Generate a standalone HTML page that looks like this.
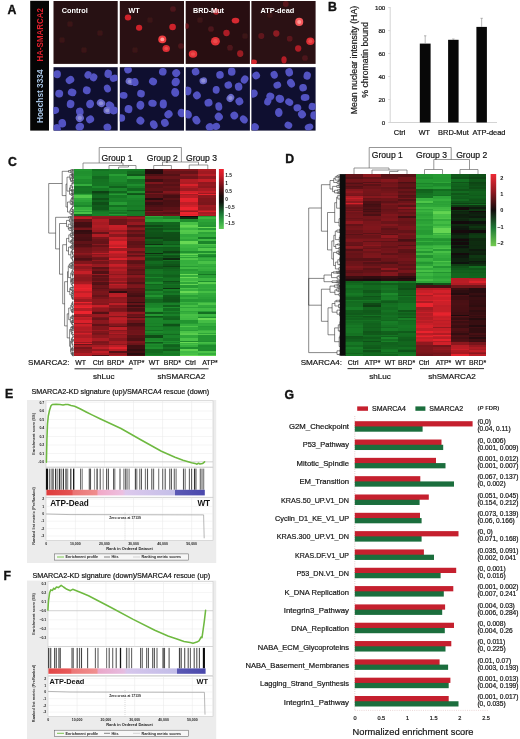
<!DOCTYPE html>
<html><head><meta charset="utf-8"><title>Figure</title>
<style>
html,body{margin:0;padding:0;background:#fff;}
body{width:520px;height:739px;overflow:hidden;font-family:"Liberation Sans",sans-serif;}
svg{display:block;font-family:"Liberation Sans",sans-serif;}
</style></head><body>
<svg width="520" height="739" viewBox="0 0 520 739">
<defs>
<filter id="b1" x="-20%" y="-20%" width="140%" height="140%"><feGaussianBlur stdDeviation="0.65"/></filter>
<filter id="b2" x="-20%" y="-20%" width="140%" height="140%"><feGaussianBlur stdDeviation="0.75"/></filter>
</defs>
<text x="7.60" y="13.80" font-size="12.3" fill="#111" font-weight="bold" text-anchor="start" stroke="#111" stroke-width="0.35">A</text>
<rect x="30.20" y="0.80" width="18.80" height="129.80" fill="#050505"/>
<text transform="translate(43.00,34.80) rotate(-90)" font-size="9.4" fill="#e4202e" font-weight="bold" text-anchor="middle" textLength="53.5" lengthAdjust="spacingAndGlyphs">HA-SMARCA2</text>
<text transform="translate(43.20,96.20) rotate(-90)" font-size="9.4" fill="#a9c6e6" font-weight="bold" text-anchor="middle" textLength="53.5" lengthAdjust="spacingAndGlyphs">Hoechst 3334</text>
<clipPath id="ca0"><rect x="53.5" y="1.0" width="64.2" height="62.9"/></clipPath>
<clipPath id="cb0"><rect x="53.5" y="67.2" width="64.2" height="63.4"/></clipPath>
<rect x="53.50" y="1.00" width="64.20" height="62.90" fill="#271113"/>
<rect x="53.50" y="67.20" width="64.20" height="63.40" fill="#0f0f30"/>
<clipPath id="ca1"><rect x="119.8" y="1.0" width="64.2" height="62.9"/></clipPath>
<clipPath id="cb1"><rect x="119.8" y="67.2" width="64.2" height="63.4"/></clipPath>
<rect x="119.80" y="1.00" width="64.20" height="62.90" fill="#2a1013"/>
<rect x="119.80" y="67.20" width="64.20" height="63.40" fill="#0f0f30"/>
<clipPath id="ca2"><rect x="185.7" y="1.0" width="64.2" height="62.9"/></clipPath>
<clipPath id="cb2"><rect x="185.7" y="67.2" width="64.2" height="63.4"/></clipPath>
<rect x="185.70" y="1.00" width="64.20" height="62.90" fill="#280e11"/>
<rect x="185.70" y="67.20" width="64.20" height="63.40" fill="#0f0f30"/>
<clipPath id="ca3"><rect x="251.4" y="1.0" width="64.2" height="62.9"/></clipPath>
<clipPath id="cb3"><rect x="251.4" y="67.2" width="64.2" height="63.4"/></clipPath>
<rect x="251.40" y="1.00" width="64.20" height="62.90" fill="#2b1114"/>
<rect x="251.40" y="67.20" width="64.20" height="63.40" fill="#0f0f30"/>
<g clip-path="url(#ca0)"><g filter="url(#b1)">
<ellipse cx="70" cy="24" rx="2.85" ry="2.85" fill="#3a1518"/>
<ellipse cx="84" cy="50" rx="2.85" ry="2.85" fill="#3a1518"/>
<ellipse cx="100" cy="33" rx="2.85" ry="2.85" fill="#3a1518"/>
<ellipse cx="62" cy="40" rx="2.85" ry="2.85" fill="#3a1518"/>
</g></g>
<g clip-path="url(#ca1)"><g filter="url(#b1)">
<ellipse cx="128" cy="17.5" rx="3.23" ry="3.04" fill="#cd222a"/>
<ellipse cx="139.1" cy="27.8" rx="3.13" ry="3.04" fill="#cd222a"/>
<ellipse cx="172.6" cy="27" rx="3.32" ry="3.23" fill="#cd222a"/>
<ellipse cx="162.3" cy="39.4" rx="4.03" ry="3.81" fill="#f03c40"/>
<ellipse cx="162.3" cy="39.4" rx="1.98" ry="1.87" fill="#ff9c98"/>
<ellipse cx="166.2" cy="48.5" rx="3.70" ry="3.58" fill="#de2f35"/>
<ellipse cx="166.2" cy="48.5" rx="1.81" ry="1.76" fill="#ea4c4c"/>
<ellipse cx="173" cy="9" rx="2.85" ry="2.85" fill="#4e161a"/>
<ellipse cx="181" cy="46" rx="2.85" ry="2.85" fill="#4e161a"/>
<ellipse cx="150" cy="20" rx="2.85" ry="2.85" fill="#3a1518"/>
<ellipse cx="135" cy="50" rx="2.85" ry="2.85" fill="#3a1518"/>
</g></g>
<g clip-path="url(#ca2)"><g filter="url(#b1)">
<ellipse cx="216.2" cy="11.6" rx="3.13" ry="3.13" fill="#ac1f26"/>
<ellipse cx="235.5" cy="20.6" rx="3.80" ry="2.85" fill="#d72930"/>
<ellipse cx="226.5" cy="33" rx="3.23" ry="3.13" fill="#ac1f26"/>
<ellipse cx="215.4" cy="41.2" rx="4.48" ry="4.26" fill="#e23137"/>
<ellipse cx="215.4" cy="41.2" rx="2.20" ry="2.09" fill="#ea4c4c"/>
<ellipse cx="193" cy="54" rx="4.26" ry="3.81" fill="#e23137"/>
<ellipse cx="193" cy="54" rx="2.09" ry="1.87" fill="#ea4c4c"/>
<ellipse cx="240.2" cy="53.6" rx="3.13" ry="3.42" fill="#991d23"/>
<ellipse cx="230" cy="47.7" rx="2.85" ry="2.85" fill="#4e161a"/>
<ellipse cx="186.5" cy="26" rx="2.38" ry="2.85" fill="#6d191e"/>
<ellipse cx="211" cy="29" rx="2.85" ry="2.85" fill="#4e161a"/>
<ellipse cx="200" cy="20" rx="2.85" ry="2.85" fill="#3a1518"/>
<ellipse cx="245" cy="36" rx="2.85" ry="2.85" fill="#3a1518"/>
</g></g>
<g clip-path="url(#ca3)"><g filter="url(#b1)">
<ellipse cx="299.2" cy="21.9" rx="4.03" ry="4.03" fill="#f6595b"/>
<ellipse cx="299.2" cy="21.9" rx="1.98" ry="1.98" fill="#ff9c98"/>
<ellipse cx="276.3" cy="33.5" rx="3.13" ry="3.13" fill="#8c1c22"/>
<ellipse cx="261.3" cy="36" rx="3.04" ry="3.04" fill="#60171c"/>
<ellipse cx="310.3" cy="41.2" rx="4.03" ry="3.81" fill="#de2f35"/>
<ellipse cx="310.3" cy="41.2" rx="1.98" ry="1.87" fill="#ea4c4c"/>
<ellipse cx="298.2" cy="48.5" rx="3.13" ry="3.13" fill="#ac1f26"/>
<ellipse cx="284" cy="59.8" rx="2.66" ry="3.61" fill="#b31f26"/>
<ellipse cx="253.6" cy="61.9" rx="3.32" ry="2.38" fill="#d4272e"/>
<ellipse cx="285.8" cy="3.9" rx="2.85" ry="2.85" fill="#5a171b"/>
<ellipse cx="289.7" cy="38.7" rx="2.85" ry="2.85" fill="#5a171b"/>
<ellipse cx="270" cy="15" rx="2.85" ry="2.85" fill="#3a1518"/>
<ellipse cx="305" cy="58" rx="2.85" ry="2.85" fill="#4e161a"/>
</g></g>
<g clip-path="url(#cb0)"><g filter="url(#b2)">
<ellipse cx="57.2" cy="74.3" rx="3.97" ry="3.73" fill="#5252c2" transform="rotate(94 57.2 74.3)"/>
<ellipse cx="70" cy="80" rx="4.44" ry="3.68" fill="#5252c2" transform="rotate(148 70 80)"/>
<ellipse cx="88" cy="74.8" rx="3.85" ry="3.41" fill="#5252c2" transform="rotate(120 88 74.8)"/>
<ellipse cx="93.7" cy="77.4" rx="3.98" ry="3.54" fill="#5252c2" transform="rotate(120 93.7 77.4)"/>
<ellipse cx="108.2" cy="73.8" rx="4.18" ry="3.73" fill="#5252c2" transform="rotate(101 108.2 73.8)"/>
<ellipse cx="113.9" cy="78.2" rx="4.25" ry="3.49" fill="#5252c2" transform="rotate(162 113.9 78.2)"/>
<ellipse cx="59.2" cy="93.6" rx="3.91" ry="3.96" fill="#5252c2" transform="rotate(99 59.2 93.6)"/>
<ellipse cx="72.1" cy="92.4" rx="4.32" ry="3.80" fill="#5252c2" transform="rotate(16 72.1 92.4)"/>
<ellipse cx="86.8" cy="90.3" rx="3.91" ry="3.97" fill="#5252c2" transform="rotate(10 86.8 90.3)"/>
<ellipse cx="107.4" cy="88.5" rx="4.01" ry="3.42" fill="#5252c2" transform="rotate(68 107.4 88.5)"/>
<ellipse cx="70.6" cy="104" rx="4.13" ry="3.83" fill="#5252c2" transform="rotate(99 70.6 104)"/>
<ellipse cx="90.1" cy="104" rx="4.30" ry="3.95" fill="#5252c2" transform="rotate(101 90.1 104)"/>
<ellipse cx="101" cy="103.2" rx="4.31" ry="3.75" fill="#6868c8" transform="rotate(34 101 103.2)"/>
<ellipse cx="101" cy="103.2" rx="2.2" ry="2.0" fill="#8e8ed6"/>
<ellipse cx="110" cy="105.2" rx="4.42" ry="3.46" fill="#5252c2" transform="rotate(34 110 105.2)"/>
<ellipse cx="55" cy="110.4" rx="4.15" ry="3.55" fill="#5252c2" transform="rotate(172 55 110.4)"/>
<ellipse cx="79.8" cy="111.7" rx="4.11" ry="3.78" fill="#5252c2" transform="rotate(77 79.8 111.7)"/>
<ellipse cx="79.8" cy="118" rx="4.09" ry="3.90" fill="#6868c8" transform="rotate(146 79.8 118)"/>
<ellipse cx="79.8" cy="118" rx="2.2" ry="2.0" fill="#8e8ed6"/>
<ellipse cx="90.1" cy="119.4" rx="4.05" ry="3.75" fill="#5252c2" transform="rotate(149 90.1 119.4)"/>
<ellipse cx="107.4" cy="110.4" rx="3.96" ry="3.60" fill="#6868c8" transform="rotate(7 107.4 110.4)"/>
<ellipse cx="107.4" cy="110.4" rx="2.2" ry="2.0" fill="#8e8ed6"/>
<ellipse cx="113.9" cy="110.4" rx="4.40" ry="3.99" fill="#5252c2" transform="rotate(171 113.9 110.4)"/>
<ellipse cx="62.3" cy="123.3" rx="4.29" ry="3.82" fill="#5252c2" transform="rotate(83 62.3 123.3)"/>
<ellipse cx="79.8" cy="126.8" rx="4.48" ry="3.94" fill="#5252c2" transform="rotate(145 79.8 126.8)"/>
<ellipse cx="107.4" cy="127.3" rx="3.87" ry="3.79" fill="#5252c2" transform="rotate(162 107.4 127.3)"/>
<ellipse cx="57" cy="128.4" rx="4.38" ry="3.74" fill="#5252c2" transform="rotate(72 57 128.4)"/>
</g></g>
<g clip-path="url(#cb1)"><g filter="url(#b2)">
<ellipse cx="128" cy="69.7" rx="3.89" ry="3.69" fill="#5252c2" transform="rotate(163 128 69.7)"/>
<ellipse cx="130" cy="81.5" rx="4.49" ry="3.45" fill="#6868c8" transform="rotate(17 130 81.5)"/>
<ellipse cx="130" cy="81.5" rx="2.2" ry="2.0" fill="#8e8ed6"/>
<ellipse cx="135" cy="82" rx="4.09" ry="3.49" fill="#5252c2" transform="rotate(75 135 82)"/>
<ellipse cx="153" cy="81.5" rx="4.10" ry="3.65" fill="#5252c2" transform="rotate(30 153 81.5)"/>
<ellipse cx="162.8" cy="71.7" rx="3.83" ry="3.77" fill="#5252c2" transform="rotate(11 162.8 71.7)"/>
<ellipse cx="176.2" cy="73" rx="4.06" ry="3.75" fill="#5252c2" transform="rotate(141 176.2 73)"/>
<ellipse cx="175.7" cy="82" rx="4.42" ry="3.99" fill="#5252c2" transform="rotate(129 175.7 82)"/>
<ellipse cx="123.6" cy="95.4" rx="3.97" ry="3.42" fill="#5252c2" transform="rotate(1 123.6 95.4)"/>
<ellipse cx="141" cy="93.6" rx="3.85" ry="3.76" fill="#5252c2" transform="rotate(8 141 93.6)"/>
<ellipse cx="175.2" cy="92.4" rx="4.46" ry="3.98" fill="#5252c2" transform="rotate(74 175.2 92.4)"/>
<ellipse cx="152.5" cy="103.2" rx="4.23" ry="3.49" fill="#5252c2" transform="rotate(10 152.5 103.2)"/>
<ellipse cx="163.3" cy="104" rx="4.49" ry="3.60" fill="#5252c2" transform="rotate(92 163.3 104)"/>
<ellipse cx="140.4" cy="105.2" rx="4.47" ry="3.94" fill="#5252c2" transform="rotate(96 140.4 105.2)"/>
<ellipse cx="128.5" cy="109.1" rx="4.06" ry="3.92" fill="#5252c2" transform="rotate(98 128.5 109.1)"/>
<ellipse cx="168.5" cy="114.3" rx="4.25" ry="3.76" fill="#5252c2" transform="rotate(143 168.5 114.3)"/>
<ellipse cx="140.4" cy="120.7" rx="3.87" ry="3.98" fill="#5252c2" transform="rotate(129 140.4 120.7)"/>
<ellipse cx="164.9" cy="122.8" rx="3.99" ry="3.78" fill="#5252c2" transform="rotate(60 164.9 122.8)"/>
<ellipse cx="153.8" cy="124.6" rx="4.46" ry="3.66" fill="#5252c2" transform="rotate(66 153.8 124.6)"/>
<ellipse cx="121" cy="118" rx="4.16" ry="3.73" fill="#5252c2" transform="rotate(2 121 118)"/>
<ellipse cx="181.6" cy="113" rx="4.35" ry="3.99" fill="#5252c2" transform="rotate(80 181.6 113)"/>
</g></g>
<g clip-path="url(#cb2)"><g filter="url(#b2)">
<ellipse cx="195.6" cy="71.7" rx="3.81" ry="3.77" fill="#5252c2" transform="rotate(161 195.6 71.7)"/>
<ellipse cx="220" cy="74.8" rx="3.89" ry="3.78" fill="#5252c2" transform="rotate(85 220 74.8)"/>
<ellipse cx="231.7" cy="71.7" rx="4.13" ry="3.81" fill="#5252c2" transform="rotate(90 231.7 71.7)"/>
<ellipse cx="244.6" cy="79.5" rx="4.23" ry="3.57" fill="#5252c2" transform="rotate(125 244.6 79.5)"/>
<ellipse cx="203.3" cy="80.8" rx="3.82" ry="3.44" fill="#6868c8" transform="rotate(173 203.3 80.8)"/>
<ellipse cx="203.3" cy="80.8" rx="2.2" ry="2.0" fill="#8e8ed6"/>
<ellipse cx="228.3" cy="85.1" rx="3.81" ry="3.62" fill="#5252c2" transform="rotate(160 228.3 85.1)"/>
<ellipse cx="238.6" cy="86.7" rx="4.12" ry="3.76" fill="#5252c2" transform="rotate(81 238.6 86.7)"/>
<ellipse cx="216.2" cy="89.8" rx="3.92" ry="3.51" fill="#5252c2" transform="rotate(94 216.2 89.8)"/>
<ellipse cx="187.9" cy="91" rx="4.39" ry="3.56" fill="#5252c2" transform="rotate(96 187.9 91)"/>
<ellipse cx="196.9" cy="95.4" rx="3.87" ry="3.89" fill="#5252c2" transform="rotate(145 196.9 95.4)"/>
<ellipse cx="230.4" cy="98" rx="4.28" ry="3.48" fill="#6868c8" transform="rotate(128 230.4 98)"/>
<ellipse cx="230.4" cy="98" rx="2.2" ry="2.0" fill="#8e8ed6"/>
<ellipse cx="239.4" cy="101.4" rx="3.96" ry="3.88" fill="#5252c2" transform="rotate(61 239.4 101.4)"/>
<ellipse cx="208.5" cy="102.7" rx="4.03" ry="3.81" fill="#5252c2" transform="rotate(166 208.5 102.7)"/>
<ellipse cx="218.8" cy="106.5" rx="4.29" ry="3.46" fill="#5252c2" transform="rotate(82 218.8 106.5)"/>
<ellipse cx="187.9" cy="114.3" rx="4.46" ry="3.80" fill="#5252c2" transform="rotate(57 187.9 114.3)"/>
<ellipse cx="218.8" cy="116.8" rx="4.11" ry="3.91" fill="#5252c2" transform="rotate(43 218.8 116.8)"/>
<ellipse cx="234.3" cy="115.5" rx="3.86" ry="3.85" fill="#5252c2" transform="rotate(55 234.3 115.5)"/>
<ellipse cx="196.4" cy="120.2" rx="4.42" ry="3.67" fill="#5252c2" transform="rotate(57 196.4 120.2)"/>
<ellipse cx="243.8" cy="119.4" rx="4.35" ry="3.42" fill="#5252c2" transform="rotate(48 243.8 119.4)"/>
<ellipse cx="209.8" cy="127.1" rx="4.02" ry="3.90" fill="#5252c2" transform="rotate(147 209.8 127.1)"/>
<ellipse cx="216.2" cy="126.4" rx="3.93" ry="3.57" fill="#5252c2" transform="rotate(164 216.2 126.4)"/>
</g></g>
<g clip-path="url(#cb3)"><g filter="url(#b2)">
<ellipse cx="256.2" cy="75.6" rx="3.86" ry="3.77" fill="#5252c2" transform="rotate(150 256.2 75.6)"/>
<ellipse cx="274.2" cy="74.8" rx="3.89" ry="3.58" fill="#5252c2" transform="rotate(69 274.2 74.8)"/>
<ellipse cx="289.2" cy="72.2" rx="4.13" ry="3.78" fill="#5252c2" transform="rotate(74 289.2 72.2)"/>
<ellipse cx="307.2" cy="75.6" rx="4.09" ry="3.65" fill="#5252c2" transform="rotate(105 307.2 75.6)"/>
<ellipse cx="277.3" cy="85.1" rx="3.91" ry="3.40" fill="#5252c2" transform="rotate(159 277.3 85.1)"/>
<ellipse cx="291" cy="83.3" rx="4.49" ry="3.66" fill="#5252c2" transform="rotate(56 291 83.3)"/>
<ellipse cx="303.1" cy="87.7" rx="3.82" ry="3.67" fill="#5252c2" transform="rotate(169 303.1 87.7)"/>
<ellipse cx="253.6" cy="93.6" rx="4.32" ry="3.98" fill="#5252c2" transform="rotate(139 253.6 93.6)"/>
<ellipse cx="270.3" cy="96.2" rx="4.04" ry="3.54" fill="#5252c2" transform="rotate(17 270.3 96.2)"/>
<ellipse cx="279.9" cy="98.8" rx="4.40" ry="3.98" fill="#5252c2" transform="rotate(30 279.9 98.8)"/>
<ellipse cx="305.1" cy="97.5" rx="4.37" ry="3.43" fill="#5252c2" transform="rotate(177 305.1 97.5)"/>
<ellipse cx="267.8" cy="101.4" rx="4.16" ry="3.52" fill="#5252c2" transform="rotate(110 267.8 101.4)"/>
<ellipse cx="289.2" cy="102.1" rx="4.20" ry="3.41" fill="#5252c2" transform="rotate(30 289.2 102.1)"/>
<ellipse cx="297.4" cy="107.8" rx="3.92" ry="3.58" fill="#5252c2" transform="rotate(169 297.4 107.8)"/>
<ellipse cx="312.4" cy="106.5" rx="3.81" ry="3.72" fill="#5252c2" transform="rotate(13 312.4 106.5)"/>
<ellipse cx="278.8" cy="112.5" rx="4.46" ry="3.77" fill="#5252c2" transform="rotate(87 278.8 112.5)"/>
<ellipse cx="302" cy="114.3" rx="3.89" ry="3.98" fill="#5252c2" transform="rotate(138 302 114.3)"/>
<ellipse cx="314.2" cy="115.5" rx="4.13" ry="3.87" fill="#5252c2" transform="rotate(90 314.2 115.5)"/>
<ellipse cx="288.4" cy="125.3" rx="3.95" ry="3.47" fill="#5252c2" transform="rotate(30 288.4 125.3)"/>
<ellipse cx="254.9" cy="127.1" rx="3.92" ry="3.88" fill="#5252c2" transform="rotate(32 254.9 127.1)"/>
<ellipse cx="309" cy="127.1" rx="4.38" ry="3.40" fill="#5252c2" transform="rotate(160 309 127.1)"/>
</g></g>
<text x="61.80" y="12.70" font-size="8.0" fill="#fff" font-weight="bold" text-anchor="start" textLength="26" lengthAdjust="spacingAndGlyphs">Control</text>
<text x="128.50" y="12.70" font-size="8.0" fill="#fff" font-weight="bold" text-anchor="start" textLength="11.2" lengthAdjust="spacingAndGlyphs">WT</text>
<text x="193.00" y="12.70" font-size="8.0" fill="#fff" font-weight="bold" text-anchor="start" textLength="31" lengthAdjust="spacingAndGlyphs">BRD-Mut</text>
<text x="260.50" y="12.70" font-size="8.0" fill="#fff" font-weight="bold" text-anchor="start" textLength="33.8" lengthAdjust="spacingAndGlyphs">ATP-dead</text>
<text x="328.00" y="11.40" font-size="12.3" fill="#111" font-weight="bold" text-anchor="start" stroke="#111" stroke-width="0.35">B</text>
<line x1="390.20" y1="7.10" x2="390.20" y2="122.50" stroke="#c2c2c2" stroke-width="0.7"/>
<line x1="390.20" y1="122.50" x2="497.00" y2="122.50" stroke="#c2c2c2" stroke-width="0.7"/>
<line x1="388.20" y1="122.50" x2="390.20" y2="122.50" stroke="#c2c2c2" stroke-width="0.6"/>
<text x="385.30" y="124.70" font-size="6.2" fill="#151515" font-weight="normal" text-anchor="end" stroke="#151515" stroke-width="0.2">0</text>
<line x1="388.20" y1="99.52" x2="390.20" y2="99.52" stroke="#c2c2c2" stroke-width="0.6"/>
<text x="385.30" y="101.72" font-size="6.2" fill="#151515" font-weight="normal" text-anchor="end" stroke="#151515" stroke-width="0.2">20</text>
<line x1="388.20" y1="76.54" x2="390.20" y2="76.54" stroke="#c2c2c2" stroke-width="0.6"/>
<text x="385.30" y="78.74" font-size="6.2" fill="#151515" font-weight="normal" text-anchor="end" stroke="#151515" stroke-width="0.2">40</text>
<line x1="388.20" y1="53.56" x2="390.20" y2="53.56" stroke="#c2c2c2" stroke-width="0.6"/>
<text x="385.30" y="55.76" font-size="6.2" fill="#151515" font-weight="normal" text-anchor="end" stroke="#151515" stroke-width="0.2">60</text>
<line x1="388.20" y1="30.58" x2="390.20" y2="30.58" stroke="#c2c2c2" stroke-width="0.6"/>
<text x="385.30" y="32.78" font-size="6.2" fill="#151515" font-weight="normal" text-anchor="end" stroke="#151515" stroke-width="0.2">80</text>
<line x1="388.20" y1="7.60" x2="390.20" y2="7.60" stroke="#c2c2c2" stroke-width="0.6"/>
<text x="385.30" y="9.80" font-size="6.2" fill="#151515" font-weight="normal" text-anchor="end" stroke="#151515" stroke-width="0.2">100</text>
<rect x="419.80" y="43.60" width="10.80" height="78.90" fill="#080808"/>
<line x1="425.20" y1="43.60" x2="425.20" y2="35.80" stroke="#888" stroke-width="0.6"/>
<line x1="424.00" y1="35.80" x2="426.40" y2="35.80" stroke="#888" stroke-width="0.6"/>
<rect x="448.10" y="39.80" width="10.50" height="82.70" fill="#080808"/>
<line x1="453.35" y1="39.80" x2="453.35" y2="39.00" stroke="#888" stroke-width="0.6"/>
<line x1="452.15" y1="39.00" x2="454.55" y2="39.00" stroke="#888" stroke-width="0.6"/>
<rect x="476.40" y="26.90" width="10.50" height="95.60" fill="#080808"/>
<line x1="481.65" y1="26.90" x2="481.65" y2="18.30" stroke="#888" stroke-width="0.6"/>
<line x1="480.45" y1="18.30" x2="482.85" y2="18.30" stroke="#888" stroke-width="0.6"/>
<text x="399.60" y="135.00" font-size="6.9" fill="#151515" font-weight="normal" text-anchor="middle" textLength="11.6" lengthAdjust="spacingAndGlyphs" stroke="#151515" stroke-width="0.2">Ctrl</text>
<text x="424.40" y="135.00" font-size="6.9" fill="#151515" font-weight="normal" text-anchor="middle" textLength="11.2" lengthAdjust="spacingAndGlyphs" stroke="#151515" stroke-width="0.2">WT</text>
<text x="453.40" y="135.00" font-size="6.9" fill="#151515" font-weight="normal" text-anchor="middle" textLength="30.7" lengthAdjust="spacingAndGlyphs" stroke="#151515" stroke-width="0.2">BRD-Mut</text>
<text x="489.00" y="135.00" font-size="6.9" fill="#151515" font-weight="normal" text-anchor="middle" textLength="33" lengthAdjust="spacingAndGlyphs" stroke="#151515" stroke-width="0.2">ATP-dead</text>
<text transform="translate(357.20,60.00) rotate(-90)" font-size="9.0" fill="#151515" font-weight="normal" text-anchor="middle" stroke="#151515" stroke-width="0.2" textLength="108.5" lengthAdjust="spacingAndGlyphs">Mean nuclear intensity (HA)</text>
<text transform="translate(368.40,60.00) rotate(-90)" font-size="9.0" fill="#151515" font-weight="normal" text-anchor="middle" stroke="#151515" stroke-width="0.2" textLength="75.5" lengthAdjust="spacingAndGlyphs">% chromatin bound</text>
<text x="8.00" y="166.20" font-size="12.3" fill="#111" font-weight="bold" text-anchor="start" stroke="#111" stroke-width="0.35">C</text>
<g shape-rendering="crispEdges">
<rect x="73.78" y="169.00" width="17.79" height="2.03" fill="#239631"/>
<rect x="73.78" y="171.00" width="17.79" height="3.03" fill="#20902e"/>
<rect x="73.78" y="174.00" width="17.79" height="2.03" fill="#21922f"/>
<rect x="73.78" y="176.00" width="17.79" height="3.03" fill="#259932"/>
<rect x="73.78" y="179.00" width="17.79" height="3.03" fill="#1e8c2c"/>
<rect x="73.78" y="182.00" width="17.79" height="2.03" fill="#1c882b"/>
<rect x="73.78" y="184.00" width="17.79" height="2.03" fill="#33ac3c"/>
<rect x="73.78" y="186.00" width="17.79" height="2.03" fill="#157323"/>
<rect x="73.78" y="188.00" width="17.79" height="3.03" fill="#167724"/>
<rect x="73.78" y="191.00" width="17.79" height="2.03" fill="#157423"/>
<rect x="73.78" y="193.00" width="17.79" height="1.03" fill="#187d26"/>
<rect x="73.78" y="194.00" width="17.79" height="1.03" fill="#2ba236"/>
<rect x="73.78" y="195.00" width="17.79" height="3.03" fill="#52c94b"/>
<rect x="73.78" y="198.00" width="17.79" height="2.03" fill="#30a93a"/>
<rect x="73.78" y="200.00" width="17.79" height="2.03" fill="#2ba237"/>
<rect x="73.78" y="202.00" width="17.79" height="2.53" fill="#229430"/>
<rect x="73.78" y="204.50" width="17.79" height="2.03" fill="#1b862a"/>
<rect x="73.78" y="206.50" width="17.79" height="3.03" fill="#35af3d"/>
<rect x="73.78" y="209.50" width="17.79" height="1.03" fill="#43bd44"/>
<rect x="73.78" y="210.50" width="17.79" height="1.03" fill="#2ba136"/>
<rect x="73.78" y="211.50" width="17.79" height="2.03" fill="#4ac348"/>
<rect x="73.78" y="213.50" width="17.79" height="1.53" fill="#136a20"/>
<rect x="73.78" y="215.00" width="17.79" height="1.03" fill="#12671f"/>
<rect x="73.78" y="216.00" width="17.79" height="1.03" fill="#981920"/>
<rect x="73.78" y="217.00" width="17.79" height="2.03" fill="#b91d25"/>
<rect x="73.78" y="219.00" width="17.79" height="3.03" fill="#681318"/>
<rect x="73.78" y="222.00" width="17.79" height="2.53" fill="#450f13"/>
<rect x="73.78" y="224.50" width="17.79" height="2.53" fill="#420f13"/>
<rect x="73.78" y="227.00" width="17.79" height="1.03" fill="#581116"/>
<rect x="73.78" y="228.00" width="17.79" height="2.03" fill="#75151a"/>
<rect x="73.78" y="230.00" width="17.79" height="2.03" fill="#330d10"/>
<rect x="73.78" y="232.00" width="17.79" height="2.03" fill="#380e11"/>
<rect x="73.78" y="234.00" width="17.79" height="2.53" fill="#4f1014"/>
<rect x="73.78" y="236.50" width="17.79" height="2.53" fill="#491014"/>
<rect x="73.78" y="239.00" width="17.79" height="2.03" fill="#460f13"/>
<rect x="73.78" y="241.00" width="17.79" height="2.53" fill="#601217"/>
<rect x="73.78" y="243.50" width="17.79" height="1.03" fill="#4f1014"/>
<rect x="73.78" y="244.50" width="17.79" height="2.03" fill="#541115"/>
<rect x="73.78" y="246.50" width="17.79" height="1.03" fill="#681318"/>
<rect x="73.78" y="247.50" width="17.79" height="3.03" fill="#74151a"/>
<rect x="73.78" y="250.50" width="17.79" height="2.03" fill="#78151b"/>
<rect x="73.78" y="252.50" width="17.79" height="1.03" fill="#8e181e"/>
<rect x="73.78" y="253.50" width="17.79" height="1.03" fill="#85171d"/>
<rect x="73.78" y="254.50" width="17.79" height="1.03" fill="#73151a"/>
<rect x="73.78" y="255.50" width="17.79" height="1.03" fill="#6a1419"/>
<rect x="73.78" y="256.50" width="17.79" height="1.03" fill="#6a1419"/>
<rect x="73.78" y="257.50" width="17.79" height="2.03" fill="#501015"/>
<rect x="73.78" y="259.50" width="17.79" height="1.03" fill="#5e1217"/>
<rect x="73.78" y="260.50" width="17.79" height="3.03" fill="#82161c"/>
<rect x="73.78" y="263.50" width="17.79" height="2.03" fill="#b21c24"/>
<rect x="73.78" y="265.50" width="17.79" height="1.53" fill="#90181f"/>
<rect x="73.78" y="267.00" width="17.79" height="2.03" fill="#90181f"/>
<rect x="73.78" y="269.00" width="17.79" height="2.03" fill="#a61b22"/>
<rect x="73.78" y="271.00" width="17.79" height="3.03" fill="#c61f27"/>
<rect x="73.78" y="274.00" width="17.79" height="1.03" fill="#a01a21"/>
<rect x="73.78" y="275.00" width="17.79" height="2.03" fill="#94191f"/>
<rect x="73.78" y="277.00" width="17.79" height="1.03" fill="#8c181e"/>
<rect x="73.78" y="278.00" width="17.79" height="2.53" fill="#8c181e"/>
<rect x="73.78" y="280.50" width="17.79" height="1.53" fill="#9b1a20"/>
<rect x="73.78" y="282.00" width="17.79" height="2.03" fill="#a61b22"/>
<rect x="73.78" y="284.00" width="17.79" height="1.03" fill="#d02029"/>
<rect x="73.78" y="285.00" width="17.79" height="2.53" fill="#df222b"/>
<rect x="73.78" y="287.50" width="17.79" height="1.03" fill="#ec242e"/>
<rect x="73.78" y="288.50" width="17.79" height="2.03" fill="#e2222c"/>
<rect x="73.78" y="290.50" width="17.79" height="2.53" fill="#c41f27"/>
<rect x="73.78" y="293.00" width="17.79" height="1.53" fill="#dc222b"/>
<rect x="73.78" y="294.50" width="17.79" height="2.03" fill="#dc222b"/>
<rect x="73.78" y="296.50" width="17.79" height="2.03" fill="#bc1e26"/>
<rect x="73.78" y="298.50" width="17.79" height="3.03" fill="#9e1a21"/>
<rect x="73.78" y="301.50" width="17.79" height="1.03" fill="#ec242e"/>
<rect x="73.78" y="302.50" width="17.79" height="2.53" fill="#b51d25"/>
<rect x="73.78" y="305.00" width="17.79" height="1.53" fill="#e0222c"/>
<rect x="73.78" y="306.50" width="17.79" height="1.53" fill="#ec242e"/>
<rect x="73.78" y="308.00" width="17.79" height="3.03" fill="#b61d25"/>
<rect x="73.78" y="311.00" width="17.79" height="1.03" fill="#ec242e"/>
<rect x="73.78" y="312.00" width="17.79" height="2.03" fill="#ec242e"/>
<rect x="73.78" y="314.00" width="17.79" height="1.53" fill="#a21a22"/>
<rect x="73.78" y="315.50" width="17.79" height="1.03" fill="#93191f"/>
<rect x="73.78" y="316.50" width="17.79" height="1.03" fill="#c51f27"/>
<rect x="73.78" y="317.50" width="17.79" height="2.03" fill="#bc1e26"/>
<rect x="73.78" y="319.50" width="17.79" height="3.03" fill="#db212b"/>
<rect x="73.78" y="322.50" width="17.79" height="1.03" fill="#9a1920"/>
<rect x="73.78" y="323.50" width="17.79" height="2.03" fill="#cd2028"/>
<rect x="73.78" y="325.50" width="17.79" height="1.03" fill="#be1e26"/>
<rect x="73.78" y="326.50" width="17.79" height="3.03" fill="#b21c24"/>
<rect x="73.78" y="329.50" width="17.79" height="1.53" fill="#ba1d25"/>
<rect x="73.78" y="331.00" width="17.79" height="2.03" fill="#aa1b23"/>
<rect x="73.78" y="333.00" width="17.79" height="1.03" fill="#d32029"/>
<rect x="73.78" y="334.00" width="17.79" height="1.03" fill="#bd1e26"/>
<rect x="73.78" y="335.00" width="17.79" height="3.03" fill="#ae1c24"/>
<rect x="73.78" y="338.00" width="17.79" height="2.53" fill="#c41f27"/>
<rect x="73.78" y="340.50" width="17.79" height="1.03" fill="#c71f28"/>
<rect x="73.78" y="341.50" width="17.79" height="1.03" fill="#991920"/>
<rect x="73.78" y="342.50" width="17.79" height="1.03" fill="#d7212a"/>
<rect x="73.78" y="343.50" width="17.79" height="1.03" fill="#6b1419"/>
<rect x="73.78" y="344.50" width="17.79" height="2.03" fill="#a51b22"/>
<rect x="73.78" y="346.50" width="17.79" height="2.03" fill="#78151b"/>
<rect x="73.78" y="348.50" width="17.79" height="2.53" fill="#8c181e"/>
<rect x="73.78" y="351.00" width="17.79" height="2.03" fill="#93191f"/>
<rect x="73.78" y="353.00" width="17.79" height="2.03" fill="#b11c24"/>
<rect x="73.78" y="355.00" width="17.79" height="1.03" fill="#aa1b23"/>
<rect x="91.53" y="169.00" width="17.79" height="2.03" fill="#157423"/>
<rect x="91.53" y="171.00" width="17.79" height="3.03" fill="#187e27"/>
<rect x="91.53" y="174.00" width="17.79" height="2.03" fill="#187d26"/>
<rect x="91.53" y="176.00" width="17.79" height="3.03" fill="#136a20"/>
<rect x="91.53" y="179.00" width="17.79" height="3.03" fill="#157222"/>
<rect x="91.53" y="182.00" width="17.79" height="2.03" fill="#157423"/>
<rect x="91.53" y="184.00" width="17.79" height="2.03" fill="#157423"/>
<rect x="91.53" y="186.00" width="17.79" height="2.03" fill="#1c892b"/>
<rect x="91.53" y="188.00" width="17.79" height="3.03" fill="#157423"/>
<rect x="91.53" y="191.00" width="17.79" height="2.03" fill="#0e4114"/>
<rect x="91.53" y="193.00" width="17.79" height="1.03" fill="#0f5419"/>
<rect x="91.53" y="194.00" width="17.79" height="1.03" fill="#115f1c"/>
<rect x="91.53" y="195.00" width="17.79" height="3.03" fill="#12671f"/>
<rect x="91.53" y="198.00" width="17.79" height="2.03" fill="#0f4f17"/>
<rect x="91.53" y="200.00" width="17.79" height="2.03" fill="#11621d"/>
<rect x="91.53" y="202.00" width="17.79" height="2.53" fill="#0f4e17"/>
<rect x="91.53" y="204.50" width="17.79" height="2.03" fill="#105c1b"/>
<rect x="91.53" y="206.50" width="17.79" height="3.03" fill="#10581a"/>
<rect x="91.53" y="209.50" width="17.79" height="1.03" fill="#136a1f"/>
<rect x="91.53" y="210.50" width="17.79" height="1.03" fill="#167724"/>
<rect x="91.53" y="211.50" width="17.79" height="2.03" fill="#187e27"/>
<rect x="91.53" y="213.50" width="17.79" height="1.53" fill="#198128"/>
<rect x="91.53" y="215.00" width="17.79" height="1.03" fill="#197f27"/>
<rect x="91.53" y="216.00" width="17.79" height="1.03" fill="#981920"/>
<rect x="91.53" y="217.00" width="17.79" height="2.03" fill="#8f181f"/>
<rect x="91.53" y="219.00" width="17.79" height="3.03" fill="#b01c24"/>
<rect x="91.53" y="222.00" width="17.79" height="2.53" fill="#a71b22"/>
<rect x="91.53" y="224.50" width="17.79" height="2.53" fill="#b11c24"/>
<rect x="91.53" y="227.00" width="17.79" height="1.03" fill="#ad1c23"/>
<rect x="91.53" y="228.00" width="17.79" height="2.03" fill="#a51b22"/>
<rect x="91.53" y="230.00" width="17.79" height="2.03" fill="#9a1920"/>
<rect x="91.53" y="232.00" width="17.79" height="2.03" fill="#681318"/>
<rect x="91.53" y="234.00" width="17.79" height="2.53" fill="#b11c24"/>
<rect x="91.53" y="236.50" width="17.79" height="2.53" fill="#7a151b"/>
<rect x="91.53" y="239.00" width="17.79" height="2.03" fill="#6a1419"/>
<rect x="91.53" y="241.00" width="17.79" height="2.53" fill="#661318"/>
<rect x="91.53" y="243.50" width="17.79" height="1.03" fill="#89171e"/>
<rect x="91.53" y="244.50" width="17.79" height="2.03" fill="#671318"/>
<rect x="91.53" y="246.50" width="17.79" height="1.03" fill="#7f161c"/>
<rect x="91.53" y="247.50" width="17.79" height="3.03" fill="#7f161c"/>
<rect x="91.53" y="250.50" width="17.79" height="2.03" fill="#8c181e"/>
<rect x="91.53" y="252.50" width="17.79" height="1.03" fill="#bb1d26"/>
<rect x="91.53" y="253.50" width="17.79" height="1.03" fill="#8a171e"/>
<rect x="91.53" y="254.50" width="17.79" height="1.03" fill="#a11a21"/>
<rect x="91.53" y="255.50" width="17.79" height="1.03" fill="#9c1a21"/>
<rect x="91.53" y="256.50" width="17.79" height="1.03" fill="#74151a"/>
<rect x="91.53" y="257.50" width="17.79" height="2.03" fill="#6c1419"/>
<rect x="91.53" y="259.50" width="17.79" height="1.03" fill="#94191f"/>
<rect x="91.53" y="260.50" width="17.79" height="3.03" fill="#75151a"/>
<rect x="91.53" y="263.50" width="17.79" height="2.03" fill="#961920"/>
<rect x="91.53" y="265.50" width="17.79" height="1.53" fill="#9b1a20"/>
<rect x="91.53" y="267.00" width="17.79" height="2.03" fill="#5b1216"/>
<rect x="91.53" y="269.00" width="17.79" height="2.03" fill="#73151a"/>
<rect x="91.53" y="271.00" width="17.79" height="3.03" fill="#521115"/>
<rect x="91.53" y="274.00" width="17.79" height="1.03" fill="#95191f"/>
<rect x="91.53" y="275.00" width="17.79" height="2.03" fill="#5d1217"/>
<rect x="91.53" y="277.00" width="17.79" height="1.03" fill="#6d1419"/>
<rect x="91.53" y="278.00" width="17.79" height="2.53" fill="#601217"/>
<rect x="91.53" y="280.50" width="17.79" height="1.53" fill="#76151a"/>
<rect x="91.53" y="282.00" width="17.79" height="2.03" fill="#541115"/>
<rect x="91.53" y="284.00" width="17.79" height="1.03" fill="#501115"/>
<rect x="91.53" y="285.00" width="17.79" height="2.53" fill="#6d1419"/>
<rect x="91.53" y="287.50" width="17.79" height="1.03" fill="#5f1217"/>
<rect x="91.53" y="288.50" width="17.79" height="2.03" fill="#70141a"/>
<rect x="91.53" y="290.50" width="17.79" height="2.53" fill="#7b161b"/>
<rect x="91.53" y="293.00" width="17.79" height="1.53" fill="#79151b"/>
<rect x="91.53" y="294.50" width="17.79" height="2.03" fill="#661318"/>
<rect x="91.53" y="296.50" width="17.79" height="2.03" fill="#7a151b"/>
<rect x="91.53" y="298.50" width="17.79" height="3.03" fill="#8b181e"/>
<rect x="91.53" y="301.50" width="17.79" height="1.03" fill="#8f181f"/>
<rect x="91.53" y="302.50" width="17.79" height="2.53" fill="#86171d"/>
<rect x="91.53" y="305.00" width="17.79" height="1.53" fill="#c81f28"/>
<rect x="91.53" y="306.50" width="17.79" height="1.53" fill="#a51b22"/>
<rect x="91.53" y="308.00" width="17.79" height="3.03" fill="#91181f"/>
<rect x="91.53" y="311.00" width="17.79" height="1.03" fill="#82161c"/>
<rect x="91.53" y="312.00" width="17.79" height="2.03" fill="#551115"/>
<rect x="91.53" y="314.00" width="17.79" height="1.53" fill="#971920"/>
<rect x="91.53" y="315.50" width="17.79" height="1.03" fill="#991920"/>
<rect x="91.53" y="316.50" width="17.79" height="1.03" fill="#79151b"/>
<rect x="91.53" y="317.50" width="17.79" height="2.03" fill="#691419"/>
<rect x="91.53" y="319.50" width="17.79" height="3.03" fill="#8a171e"/>
<rect x="91.53" y="322.50" width="17.79" height="1.03" fill="#85171d"/>
<rect x="91.53" y="323.50" width="17.79" height="2.03" fill="#611217"/>
<rect x="91.53" y="325.50" width="17.79" height="1.03" fill="#81161c"/>
<rect x="91.53" y="326.50" width="17.79" height="3.03" fill="#81161c"/>
<rect x="91.53" y="329.50" width="17.79" height="1.53" fill="#9b1920"/>
<rect x="91.53" y="331.00" width="17.79" height="2.03" fill="#80161c"/>
<rect x="91.53" y="333.00" width="17.79" height="1.03" fill="#74151a"/>
<rect x="91.53" y="334.00" width="17.79" height="1.03" fill="#7b161b"/>
<rect x="91.53" y="335.00" width="17.79" height="3.03" fill="#8e181e"/>
<rect x="91.53" y="338.00" width="17.79" height="2.53" fill="#aa1b23"/>
<rect x="91.53" y="340.50" width="17.79" height="1.03" fill="#81161c"/>
<rect x="91.53" y="341.50" width="17.79" height="1.03" fill="#7a151b"/>
<rect x="91.53" y="342.50" width="17.79" height="1.03" fill="#84171d"/>
<rect x="91.53" y="343.50" width="17.79" height="1.03" fill="#81161c"/>
<rect x="91.53" y="344.50" width="17.79" height="2.03" fill="#a51b22"/>
<rect x="91.53" y="346.50" width="17.79" height="2.03" fill="#bd1e26"/>
<rect x="91.53" y="348.50" width="17.79" height="2.53" fill="#92181f"/>
<rect x="91.53" y="351.00" width="17.79" height="2.03" fill="#c21e27"/>
<rect x="91.53" y="353.00" width="17.79" height="2.03" fill="#ac1c23"/>
<rect x="91.53" y="355.00" width="17.79" height="1.03" fill="#501115"/>
<rect x="109.28" y="169.00" width="17.79" height="2.03" fill="#187e27"/>
<rect x="109.28" y="171.00" width="17.79" height="3.03" fill="#197f27"/>
<rect x="109.28" y="174.00" width="17.79" height="2.03" fill="#289d34"/>
<rect x="109.28" y="176.00" width="17.79" height="3.03" fill="#1d8b2c"/>
<rect x="109.28" y="179.00" width="17.79" height="3.03" fill="#1d8a2c"/>
<rect x="109.28" y="182.00" width="17.79" height="2.03" fill="#197f27"/>
<rect x="109.28" y="184.00" width="17.79" height="2.03" fill="#177a25"/>
<rect x="109.28" y="186.00" width="17.79" height="2.03" fill="#11621d"/>
<rect x="109.28" y="188.00" width="17.79" height="3.03" fill="#1b862a"/>
<rect x="109.28" y="191.00" width="17.79" height="2.03" fill="#12661e"/>
<rect x="109.28" y="193.00" width="17.79" height="1.03" fill="#1b8429"/>
<rect x="109.28" y="194.00" width="17.79" height="1.03" fill="#269b33"/>
<rect x="109.28" y="195.00" width="17.79" height="3.03" fill="#167824"/>
<rect x="109.28" y="198.00" width="17.79" height="2.03" fill="#1a8228"/>
<rect x="109.28" y="200.00" width="17.79" height="2.03" fill="#198128"/>
<rect x="109.28" y="202.00" width="17.79" height="2.53" fill="#269a33"/>
<rect x="109.28" y="204.50" width="17.79" height="2.03" fill="#147021"/>
<rect x="109.28" y="206.50" width="17.79" height="3.03" fill="#1e8c2c"/>
<rect x="109.28" y="209.50" width="17.79" height="1.03" fill="#177a25"/>
<rect x="109.28" y="210.50" width="17.79" height="1.03" fill="#1b852a"/>
<rect x="109.28" y="211.50" width="17.79" height="2.03" fill="#157423"/>
<rect x="109.28" y="213.50" width="17.79" height="1.53" fill="#269b33"/>
<rect x="109.28" y="215.00" width="17.79" height="1.03" fill="#1a8228"/>
<rect x="109.28" y="216.00" width="17.79" height="1.03" fill="#92181f"/>
<rect x="109.28" y="217.00" width="17.79" height="2.03" fill="#8c181e"/>
<rect x="109.28" y="219.00" width="17.79" height="3.03" fill="#6d1419"/>
<rect x="109.28" y="222.00" width="17.79" height="2.53" fill="#6d1419"/>
<rect x="109.28" y="224.50" width="17.79" height="2.53" fill="#c81f28"/>
<rect x="109.28" y="227.00" width="17.79" height="1.03" fill="#c51f27"/>
<rect x="109.28" y="228.00" width="17.79" height="2.03" fill="#c11e26"/>
<rect x="109.28" y="230.00" width="17.79" height="2.03" fill="#991920"/>
<rect x="109.28" y="232.00" width="17.79" height="2.03" fill="#b61d25"/>
<rect x="109.28" y="234.00" width="17.79" height="2.53" fill="#8c181e"/>
<rect x="109.28" y="236.50" width="17.79" height="2.53" fill="#c41f27"/>
<rect x="109.28" y="239.00" width="17.79" height="2.03" fill="#b71d25"/>
<rect x="109.28" y="241.00" width="17.79" height="2.53" fill="#dd222b"/>
<rect x="109.28" y="243.50" width="17.79" height="1.03" fill="#d4212a"/>
<rect x="109.28" y="244.50" width="17.79" height="2.03" fill="#c51f27"/>
<rect x="109.28" y="246.50" width="17.79" height="1.03" fill="#ec242e"/>
<rect x="109.28" y="247.50" width="17.79" height="3.03" fill="#9e1a21"/>
<rect x="109.28" y="250.50" width="17.79" height="2.03" fill="#d7212a"/>
<rect x="109.28" y="252.50" width="17.79" height="1.03" fill="#c21e27"/>
<rect x="109.28" y="253.50" width="17.79" height="1.03" fill="#b51d25"/>
<rect x="109.28" y="254.50" width="17.79" height="1.03" fill="#b91d25"/>
<rect x="109.28" y="255.50" width="17.79" height="1.03" fill="#b21c24"/>
<rect x="109.28" y="256.50" width="17.79" height="1.03" fill="#ab1b23"/>
<rect x="109.28" y="257.50" width="17.79" height="2.03" fill="#db212b"/>
<rect x="109.28" y="259.50" width="17.79" height="1.03" fill="#961920"/>
<rect x="109.28" y="260.50" width="17.79" height="3.03" fill="#9c1a21"/>
<rect x="109.28" y="263.50" width="17.79" height="2.03" fill="#c91f28"/>
<rect x="109.28" y="265.50" width="17.79" height="1.53" fill="#be1e26"/>
<rect x="109.28" y="267.00" width="17.79" height="2.03" fill="#a31a22"/>
<rect x="109.28" y="269.00" width="17.79" height="2.03" fill="#b71d25"/>
<rect x="109.28" y="271.00" width="17.79" height="3.03" fill="#a61b22"/>
<rect x="109.28" y="274.00" width="17.79" height="1.03" fill="#8d181e"/>
<rect x="109.28" y="275.00" width="17.79" height="2.03" fill="#aa1b23"/>
<rect x="109.28" y="277.00" width="17.79" height="1.03" fill="#b11c24"/>
<rect x="109.28" y="278.00" width="17.79" height="2.53" fill="#971920"/>
<rect x="109.28" y="280.50" width="17.79" height="1.53" fill="#b31d24"/>
<rect x="109.28" y="282.00" width="17.79" height="2.03" fill="#8c181e"/>
<rect x="109.28" y="284.00" width="17.79" height="1.03" fill="#c11e26"/>
<rect x="109.28" y="285.00" width="17.79" height="2.53" fill="#a81b23"/>
<rect x="109.28" y="287.50" width="17.79" height="1.03" fill="#8a171e"/>
<rect x="109.28" y="288.50" width="17.79" height="2.03" fill="#6a1419"/>
<rect x="109.28" y="290.50" width="17.79" height="2.53" fill="#320d10"/>
<rect x="109.28" y="293.00" width="17.79" height="1.53" fill="#b61d25"/>
<rect x="109.28" y="294.50" width="17.79" height="2.03" fill="#bc1e26"/>
<rect x="109.28" y="296.50" width="17.79" height="2.03" fill="#8f181e"/>
<rect x="109.28" y="298.50" width="17.79" height="3.03" fill="#951920"/>
<rect x="109.28" y="301.50" width="17.79" height="1.03" fill="#88171d"/>
<rect x="109.28" y="302.50" width="17.79" height="2.53" fill="#bc1e26"/>
<rect x="109.28" y="305.00" width="17.79" height="1.53" fill="#8a171e"/>
<rect x="109.28" y="306.50" width="17.79" height="1.53" fill="#92181f"/>
<rect x="109.28" y="308.00" width="17.79" height="3.03" fill="#79151b"/>
<rect x="109.28" y="311.00" width="17.79" height="1.03" fill="#83171d"/>
<rect x="109.28" y="312.00" width="17.79" height="2.03" fill="#af1c24"/>
<rect x="109.28" y="314.00" width="17.79" height="1.53" fill="#b41d24"/>
<rect x="109.28" y="315.50" width="17.79" height="1.03" fill="#85171d"/>
<rect x="109.28" y="316.50" width="17.79" height="1.03" fill="#b41d24"/>
<rect x="109.28" y="317.50" width="17.79" height="2.03" fill="#bf1e26"/>
<rect x="109.28" y="319.50" width="17.79" height="3.03" fill="#b51d25"/>
<rect x="109.28" y="322.50" width="17.79" height="1.03" fill="#981920"/>
<rect x="109.28" y="323.50" width="17.79" height="2.03" fill="#84171d"/>
<rect x="109.28" y="325.50" width="17.79" height="1.03" fill="#681318"/>
<rect x="109.28" y="326.50" width="17.79" height="3.03" fill="#bd1e26"/>
<rect x="109.28" y="329.50" width="17.79" height="1.53" fill="#89171e"/>
<rect x="109.28" y="331.00" width="17.79" height="2.03" fill="#9f1a21"/>
<rect x="109.28" y="333.00" width="17.79" height="1.03" fill="#b21c24"/>
<rect x="109.28" y="334.00" width="17.79" height="1.03" fill="#90181f"/>
<rect x="109.28" y="335.00" width="17.79" height="3.03" fill="#9e1a21"/>
<rect x="109.28" y="338.00" width="17.79" height="2.53" fill="#89171e"/>
<rect x="109.28" y="340.50" width="17.79" height="1.03" fill="#a51b22"/>
<rect x="109.28" y="341.50" width="17.79" height="1.03" fill="#a71b22"/>
<rect x="109.28" y="342.50" width="17.79" height="1.03" fill="#a71b22"/>
<rect x="109.28" y="343.50" width="17.79" height="1.03" fill="#8d181e"/>
<rect x="109.28" y="344.50" width="17.79" height="2.03" fill="#bc1e26"/>
<rect x="109.28" y="346.50" width="17.79" height="2.03" fill="#df222b"/>
<rect x="109.28" y="348.50" width="17.79" height="2.53" fill="#b61d25"/>
<rect x="109.28" y="351.00" width="17.79" height="2.03" fill="#561116"/>
<rect x="109.28" y="353.00" width="17.79" height="2.03" fill="#8f181f"/>
<rect x="109.28" y="355.00" width="17.79" height="1.03" fill="#ae1c24"/>
<rect x="127.03" y="169.00" width="17.79" height="2.03" fill="#177925"/>
<rect x="127.03" y="171.00" width="17.79" height="3.03" fill="#13691f"/>
<rect x="127.03" y="174.00" width="17.79" height="2.03" fill="#10571a"/>
<rect x="127.03" y="176.00" width="17.79" height="3.03" fill="#2ca337"/>
<rect x="127.03" y="179.00" width="17.79" height="3.03" fill="#157323"/>
<rect x="127.03" y="182.00" width="17.79" height="2.03" fill="#167825"/>
<rect x="127.03" y="184.00" width="17.79" height="2.03" fill="#1f8e2e"/>
<rect x="127.03" y="186.00" width="17.79" height="2.03" fill="#187d26"/>
<rect x="127.03" y="188.00" width="17.79" height="3.03" fill="#12671f"/>
<rect x="127.03" y="191.00" width="17.79" height="2.03" fill="#21912f"/>
<rect x="127.03" y="193.00" width="17.79" height="1.03" fill="#105a1a"/>
<rect x="127.03" y="194.00" width="17.79" height="1.03" fill="#105419"/>
<rect x="127.03" y="195.00" width="17.79" height="3.03" fill="#1e8c2d"/>
<rect x="127.03" y="198.00" width="17.79" height="2.03" fill="#1b852a"/>
<rect x="127.03" y="200.00" width="17.79" height="2.03" fill="#187e27"/>
<rect x="127.03" y="202.00" width="17.79" height="2.53" fill="#198028"/>
<rect x="127.03" y="204.50" width="17.79" height="2.03" fill="#177a25"/>
<rect x="127.03" y="206.50" width="17.79" height="3.03" fill="#187e27"/>
<rect x="127.03" y="209.50" width="17.79" height="1.03" fill="#115e1c"/>
<rect x="127.03" y="210.50" width="17.79" height="1.03" fill="#167724"/>
<rect x="127.03" y="211.50" width="17.79" height="2.03" fill="#187c26"/>
<rect x="127.03" y="213.50" width="17.79" height="1.53" fill="#177a25"/>
<rect x="127.03" y="215.00" width="17.79" height="1.03" fill="#177925"/>
<rect x="127.03" y="216.00" width="17.79" height="1.03" fill="#74151a"/>
<rect x="127.03" y="217.00" width="17.79" height="2.03" fill="#9e1a21"/>
<rect x="127.03" y="219.00" width="17.79" height="3.03" fill="#7c161c"/>
<rect x="127.03" y="222.00" width="17.79" height="2.53" fill="#951920"/>
<rect x="127.03" y="224.50" width="17.79" height="2.53" fill="#5d1217"/>
<rect x="127.03" y="227.00" width="17.79" height="1.03" fill="#7b161b"/>
<rect x="127.03" y="228.00" width="17.79" height="2.03" fill="#8e181e"/>
<rect x="127.03" y="230.00" width="17.79" height="2.03" fill="#621317"/>
<rect x="127.03" y="232.00" width="17.79" height="2.03" fill="#74151a"/>
<rect x="127.03" y="234.00" width="17.79" height="2.53" fill="#591216"/>
<rect x="127.03" y="236.50" width="17.79" height="2.53" fill="#7f161c"/>
<rect x="127.03" y="239.00" width="17.79" height="2.03" fill="#78151b"/>
<rect x="127.03" y="241.00" width="17.79" height="2.53" fill="#5f1217"/>
<rect x="127.03" y="243.50" width="17.79" height="1.03" fill="#5c1216"/>
<rect x="127.03" y="244.50" width="17.79" height="2.03" fill="#661318"/>
<rect x="127.03" y="246.50" width="17.79" height="1.03" fill="#691318"/>
<rect x="127.03" y="247.50" width="17.79" height="3.03" fill="#8d181e"/>
<rect x="127.03" y="250.50" width="17.79" height="2.03" fill="#661318"/>
<rect x="127.03" y="252.50" width="17.79" height="1.03" fill="#7e161c"/>
<rect x="127.03" y="253.50" width="17.79" height="1.03" fill="#8a171e"/>
<rect x="127.03" y="254.50" width="17.79" height="1.03" fill="#5e1217"/>
<rect x="127.03" y="255.50" width="17.79" height="1.03" fill="#73151a"/>
<rect x="127.03" y="256.50" width="17.79" height="1.03" fill="#9b1a21"/>
<rect x="127.03" y="257.50" width="17.79" height="2.03" fill="#a01a21"/>
<rect x="127.03" y="259.50" width="17.79" height="1.03" fill="#651318"/>
<rect x="127.03" y="260.50" width="17.79" height="3.03" fill="#5c1216"/>
<rect x="127.03" y="263.50" width="17.79" height="2.03" fill="#75151a"/>
<rect x="127.03" y="265.50" width="17.79" height="1.53" fill="#82161c"/>
<rect x="127.03" y="267.00" width="17.79" height="2.03" fill="#73151a"/>
<rect x="127.03" y="269.00" width="17.79" height="2.03" fill="#601217"/>
<rect x="127.03" y="271.00" width="17.79" height="3.03" fill="#6b1419"/>
<rect x="127.03" y="274.00" width="17.79" height="1.03" fill="#5b1216"/>
<rect x="127.03" y="275.00" width="17.79" height="2.03" fill="#8a171e"/>
<rect x="127.03" y="277.00" width="17.79" height="1.03" fill="#80161c"/>
<rect x="127.03" y="278.00" width="17.79" height="2.53" fill="#6d1419"/>
<rect x="127.03" y="280.50" width="17.79" height="1.53" fill="#6e1419"/>
<rect x="127.03" y="282.00" width="17.79" height="2.03" fill="#561116"/>
<rect x="127.03" y="284.00" width="17.79" height="1.03" fill="#75151a"/>
<rect x="127.03" y="285.00" width="17.79" height="2.53" fill="#7e161c"/>
<rect x="127.03" y="287.50" width="17.79" height="1.03" fill="#5d1217"/>
<rect x="127.03" y="288.50" width="17.79" height="2.03" fill="#621317"/>
<rect x="127.03" y="290.50" width="17.79" height="2.53" fill="#591216"/>
<rect x="127.03" y="293.00" width="17.79" height="1.53" fill="#4c1014"/>
<rect x="127.03" y="294.50" width="17.79" height="2.03" fill="#410f12"/>
<rect x="127.03" y="296.50" width="17.79" height="2.03" fill="#5f1217"/>
<rect x="127.03" y="298.50" width="17.79" height="3.03" fill="#5a1216"/>
<rect x="127.03" y="301.50" width="17.79" height="1.03" fill="#390e11"/>
<rect x="127.03" y="302.50" width="17.79" height="2.53" fill="#671318"/>
<rect x="127.03" y="305.00" width="17.79" height="1.53" fill="#3d0e12"/>
<rect x="127.03" y="306.50" width="17.79" height="1.53" fill="#641318"/>
<rect x="127.03" y="308.00" width="17.79" height="3.03" fill="#4b1014"/>
<rect x="127.03" y="311.00" width="17.79" height="1.03" fill="#5c1216"/>
<rect x="127.03" y="312.00" width="17.79" height="2.03" fill="#90181f"/>
<rect x="127.03" y="314.00" width="17.79" height="1.53" fill="#691319"/>
<rect x="127.03" y="315.50" width="17.79" height="1.03" fill="#71141a"/>
<rect x="127.03" y="316.50" width="17.79" height="1.03" fill="#531115"/>
<rect x="127.03" y="317.50" width="17.79" height="2.03" fill="#8b181e"/>
<rect x="127.03" y="319.50" width="17.79" height="3.03" fill="#6e1419"/>
<rect x="127.03" y="322.50" width="17.79" height="1.03" fill="#470f13"/>
<rect x="127.03" y="323.50" width="17.79" height="2.03" fill="#4b1014"/>
<rect x="127.03" y="325.50" width="17.79" height="1.03" fill="#5b1216"/>
<rect x="127.03" y="326.50" width="17.79" height="3.03" fill="#691319"/>
<rect x="127.03" y="329.50" width="17.79" height="1.53" fill="#71141a"/>
<rect x="127.03" y="331.00" width="17.79" height="2.03" fill="#6f1419"/>
<rect x="127.03" y="333.00" width="17.79" height="1.03" fill="#70141a"/>
<rect x="127.03" y="334.00" width="17.79" height="1.03" fill="#75151a"/>
<rect x="127.03" y="335.00" width="17.79" height="3.03" fill="#5a1216"/>
<rect x="127.03" y="338.00" width="17.79" height="2.53" fill="#4f1014"/>
<rect x="127.03" y="340.50" width="17.79" height="1.03" fill="#7a151b"/>
<rect x="127.03" y="341.50" width="17.79" height="1.03" fill="#7c161c"/>
<rect x="127.03" y="342.50" width="17.79" height="1.03" fill="#6e1419"/>
<rect x="127.03" y="343.50" width="17.79" height="1.03" fill="#6a1419"/>
<rect x="127.03" y="344.50" width="17.79" height="2.03" fill="#410f12"/>
<rect x="127.03" y="346.50" width="17.79" height="2.03" fill="#430f13"/>
<rect x="127.03" y="348.50" width="17.79" height="2.53" fill="#330d10"/>
<rect x="127.03" y="351.00" width="17.79" height="2.03" fill="#420f12"/>
<rect x="127.03" y="353.00" width="17.79" height="2.03" fill="#2a0c0f"/>
<rect x="127.03" y="355.00" width="17.79" height="1.03" fill="#491014"/>
<rect x="144.78" y="169.00" width="17.79" height="2.03" fill="#2b0c0f"/>
<rect x="144.78" y="171.00" width="17.79" height="3.03" fill="#240b0e"/>
<rect x="144.78" y="174.00" width="17.79" height="2.03" fill="#4f1014"/>
<rect x="144.78" y="176.00" width="17.79" height="3.03" fill="#681318"/>
<rect x="144.78" y="179.00" width="17.79" height="3.03" fill="#400f12"/>
<rect x="144.78" y="182.00" width="17.79" height="2.03" fill="#7e161c"/>
<rect x="144.78" y="184.00" width="17.79" height="2.03" fill="#571116"/>
<rect x="144.78" y="186.00" width="17.79" height="2.03" fill="#591216"/>
<rect x="144.78" y="188.00" width="17.79" height="3.03" fill="#631318"/>
<rect x="144.78" y="191.00" width="17.79" height="2.03" fill="#4e1014"/>
<rect x="144.78" y="193.00" width="17.79" height="1.03" fill="#76151b"/>
<rect x="144.78" y="194.00" width="17.79" height="1.03" fill="#5b1216"/>
<rect x="144.78" y="195.00" width="17.79" height="3.03" fill="#5d1217"/>
<rect x="144.78" y="198.00" width="17.79" height="2.03" fill="#2a0c0f"/>
<rect x="144.78" y="200.00" width="17.79" height="2.03" fill="#571116"/>
<rect x="144.78" y="202.00" width="17.79" height="2.53" fill="#3c0e12"/>
<rect x="144.78" y="204.50" width="17.79" height="2.03" fill="#4c1014"/>
<rect x="144.78" y="206.50" width="17.79" height="3.03" fill="#581116"/>
<rect x="144.78" y="209.50" width="17.79" height="1.03" fill="#4c1014"/>
<rect x="144.78" y="210.50" width="17.79" height="1.03" fill="#79151b"/>
<rect x="144.78" y="211.50" width="17.79" height="2.03" fill="#5d1217"/>
<rect x="144.78" y="213.50" width="17.79" height="1.53" fill="#681318"/>
<rect x="144.78" y="215.00" width="17.79" height="1.03" fill="#5e1217"/>
<rect x="144.78" y="216.00" width="17.79" height="1.03" fill="#2fa739"/>
<rect x="144.78" y="217.00" width="17.79" height="2.03" fill="#21922f"/>
<rect x="144.78" y="219.00" width="17.79" height="3.03" fill="#29a035"/>
<rect x="144.78" y="222.00" width="17.79" height="2.53" fill="#12661e"/>
<rect x="144.78" y="224.50" width="17.79" height="2.53" fill="#0f4916"/>
<rect x="144.78" y="227.00" width="17.79" height="1.03" fill="#12681f"/>
<rect x="144.78" y="228.00" width="17.79" height="2.03" fill="#0f4f17"/>
<rect x="144.78" y="230.00" width="17.79" height="2.03" fill="#10581a"/>
<rect x="144.78" y="232.00" width="17.79" height="2.03" fill="#0f5318"/>
<rect x="144.78" y="234.00" width="17.79" height="2.53" fill="#0f5118"/>
<rect x="144.78" y="236.50" width="17.79" height="2.53" fill="#0e4014"/>
<rect x="144.78" y="239.00" width="17.79" height="2.03" fill="#11611c"/>
<rect x="144.78" y="241.00" width="17.79" height="2.53" fill="#105719"/>
<rect x="144.78" y="243.50" width="17.79" height="1.03" fill="#0e3211"/>
<rect x="144.78" y="244.50" width="17.79" height="2.03" fill="#187d27"/>
<rect x="144.78" y="246.50" width="17.79" height="1.03" fill="#105b1b"/>
<rect x="144.78" y="247.50" width="17.79" height="3.03" fill="#11621d"/>
<rect x="144.78" y="250.50" width="17.79" height="2.03" fill="#12661e"/>
<rect x="144.78" y="252.50" width="17.79" height="1.03" fill="#0e2e10"/>
<rect x="144.78" y="253.50" width="17.79" height="1.03" fill="#12631d"/>
<rect x="144.78" y="254.50" width="17.79" height="1.03" fill="#105419"/>
<rect x="144.78" y="255.50" width="17.79" height="1.03" fill="#13691f"/>
<rect x="144.78" y="256.50" width="17.79" height="1.03" fill="#105a1a"/>
<rect x="144.78" y="257.50" width="17.79" height="2.03" fill="#0f4e17"/>
<rect x="144.78" y="259.50" width="17.79" height="1.03" fill="#105719"/>
<rect x="144.78" y="260.50" width="17.79" height="3.03" fill="#136c20"/>
<rect x="144.78" y="263.50" width="17.79" height="2.03" fill="#11611c"/>
<rect x="144.78" y="265.50" width="17.79" height="1.53" fill="#105519"/>
<rect x="144.78" y="267.00" width="17.79" height="2.03" fill="#105619"/>
<rect x="144.78" y="269.00" width="17.79" height="2.03" fill="#157222"/>
<rect x="144.78" y="271.00" width="17.79" height="3.03" fill="#167724"/>
<rect x="144.78" y="274.00" width="17.79" height="1.03" fill="#13691f"/>
<rect x="144.78" y="275.00" width="17.79" height="2.03" fill="#136b20"/>
<rect x="144.78" y="277.00" width="17.79" height="1.03" fill="#1b862a"/>
<rect x="144.78" y="278.00" width="17.79" height="2.53" fill="#136c20"/>
<rect x="144.78" y="280.50" width="17.79" height="1.53" fill="#157222"/>
<rect x="144.78" y="282.00" width="17.79" height="2.03" fill="#1e8b2c"/>
<rect x="144.78" y="284.00" width="17.79" height="1.03" fill="#12661e"/>
<rect x="144.78" y="285.00" width="17.79" height="2.53" fill="#157323"/>
<rect x="144.78" y="287.50" width="17.79" height="1.03" fill="#167624"/>
<rect x="144.78" y="288.50" width="17.79" height="2.03" fill="#12641d"/>
<rect x="144.78" y="290.50" width="17.79" height="2.53" fill="#1b852a"/>
<rect x="144.78" y="293.00" width="17.79" height="1.53" fill="#177925"/>
<rect x="144.78" y="294.50" width="17.79" height="2.03" fill="#229430"/>
<rect x="144.78" y="296.50" width="17.79" height="2.03" fill="#177925"/>
<rect x="144.78" y="298.50" width="17.79" height="3.03" fill="#12651e"/>
<rect x="144.78" y="301.50" width="17.79" height="1.03" fill="#13691f"/>
<rect x="144.78" y="302.50" width="17.79" height="2.53" fill="#1a8229"/>
<rect x="144.78" y="305.00" width="17.79" height="1.53" fill="#1b862a"/>
<rect x="144.78" y="306.50" width="17.79" height="1.53" fill="#1d8a2c"/>
<rect x="144.78" y="308.00" width="17.79" height="3.03" fill="#259932"/>
<rect x="144.78" y="311.00" width="17.79" height="1.03" fill="#229330"/>
<rect x="144.78" y="312.00" width="17.79" height="2.03" fill="#10591a"/>
<rect x="144.78" y="314.00" width="17.79" height="1.53" fill="#249731"/>
<rect x="144.78" y="315.50" width="17.79" height="1.03" fill="#105519"/>
<rect x="144.78" y="316.50" width="17.79" height="1.03" fill="#12681f"/>
<rect x="144.78" y="317.50" width="17.79" height="2.03" fill="#1c872a"/>
<rect x="144.78" y="319.50" width="17.79" height="3.03" fill="#1b852a"/>
<rect x="144.78" y="322.50" width="17.79" height="1.03" fill="#198128"/>
<rect x="144.78" y="323.50" width="17.79" height="2.03" fill="#1b8529"/>
<rect x="144.78" y="325.50" width="17.79" height="1.03" fill="#167624"/>
<rect x="144.78" y="326.50" width="17.79" height="3.03" fill="#1a8329"/>
<rect x="144.78" y="329.50" width="17.79" height="1.53" fill="#146e21"/>
<rect x="144.78" y="331.00" width="17.79" height="2.03" fill="#1d8a2c"/>
<rect x="144.78" y="333.00" width="17.79" height="1.03" fill="#177b26"/>
<rect x="144.78" y="334.00" width="17.79" height="1.03" fill="#187c26"/>
<rect x="144.78" y="335.00" width="17.79" height="3.03" fill="#0f4b16"/>
<rect x="144.78" y="338.00" width="17.79" height="2.53" fill="#1c862a"/>
<rect x="144.78" y="340.50" width="17.79" height="1.03" fill="#20902e"/>
<rect x="144.78" y="341.50" width="17.79" height="1.03" fill="#10581a"/>
<rect x="144.78" y="342.50" width="17.79" height="1.03" fill="#157323"/>
<rect x="144.78" y="343.50" width="17.79" height="1.03" fill="#1e8d2d"/>
<rect x="144.78" y="344.50" width="17.79" height="2.03" fill="#1b8529"/>
<rect x="144.78" y="346.50" width="17.79" height="2.03" fill="#1f8e2d"/>
<rect x="144.78" y="348.50" width="17.79" height="2.53" fill="#13691f"/>
<rect x="144.78" y="351.00" width="17.79" height="2.03" fill="#136a1f"/>
<rect x="144.78" y="353.00" width="17.79" height="2.03" fill="#157423"/>
<rect x="144.78" y="355.00" width="17.79" height="1.03" fill="#1e8b2c"/>
<rect x="162.53" y="169.00" width="17.79" height="2.03" fill="#75151a"/>
<rect x="162.53" y="171.00" width="17.79" height="3.03" fill="#631318"/>
<rect x="162.53" y="174.00" width="17.79" height="2.03" fill="#541115"/>
<rect x="162.53" y="176.00" width="17.79" height="3.03" fill="#6a1419"/>
<rect x="162.53" y="179.00" width="17.79" height="3.03" fill="#581116"/>
<rect x="162.53" y="182.00" width="17.79" height="2.03" fill="#631318"/>
<rect x="162.53" y="184.00" width="17.79" height="2.03" fill="#571116"/>
<rect x="162.53" y="186.00" width="17.79" height="2.03" fill="#661318"/>
<rect x="162.53" y="188.00" width="17.79" height="3.03" fill="#5f1217"/>
<rect x="162.53" y="191.00" width="17.79" height="2.03" fill="#83171d"/>
<rect x="162.53" y="193.00" width="17.79" height="1.03" fill="#74151a"/>
<rect x="162.53" y="194.00" width="17.79" height="1.03" fill="#5b1216"/>
<rect x="162.53" y="195.00" width="17.79" height="3.03" fill="#470f13"/>
<rect x="162.53" y="198.00" width="17.79" height="2.03" fill="#591216"/>
<rect x="162.53" y="200.00" width="17.79" height="2.03" fill="#491014"/>
<rect x="162.53" y="202.00" width="17.79" height="2.53" fill="#4b1014"/>
<rect x="162.53" y="204.50" width="17.79" height="2.03" fill="#4d1014"/>
<rect x="162.53" y="206.50" width="17.79" height="3.03" fill="#5d1217"/>
<rect x="162.53" y="209.50" width="17.79" height="1.03" fill="#6b1419"/>
<rect x="162.53" y="210.50" width="17.79" height="1.03" fill="#72141a"/>
<rect x="162.53" y="211.50" width="17.79" height="2.03" fill="#571116"/>
<rect x="162.53" y="213.50" width="17.79" height="1.53" fill="#70141a"/>
<rect x="162.53" y="215.00" width="17.79" height="1.03" fill="#75151a"/>
<rect x="162.53" y="216.00" width="17.79" height="1.03" fill="#1d892b"/>
<rect x="162.53" y="217.00" width="17.79" height="2.03" fill="#1b8429"/>
<rect x="162.53" y="219.00" width="17.79" height="3.03" fill="#2ea639"/>
<rect x="162.53" y="222.00" width="17.79" height="2.53" fill="#12651e"/>
<rect x="162.53" y="224.50" width="17.79" height="2.53" fill="#115e1c"/>
<rect x="162.53" y="227.00" width="17.79" height="1.03" fill="#12661e"/>
<rect x="162.53" y="228.00" width="17.79" height="2.03" fill="#105a1a"/>
<rect x="162.53" y="230.00" width="17.79" height="2.03" fill="#157523"/>
<rect x="162.53" y="232.00" width="17.79" height="2.03" fill="#0f5017"/>
<rect x="162.53" y="234.00" width="17.79" height="2.53" fill="#0f4e17"/>
<rect x="162.53" y="236.50" width="17.79" height="2.53" fill="#0f4c16"/>
<rect x="162.53" y="239.00" width="17.79" height="2.03" fill="#0f4b16"/>
<rect x="162.53" y="241.00" width="17.79" height="2.53" fill="#12671f"/>
<rect x="162.53" y="243.50" width="17.79" height="1.03" fill="#105a1a"/>
<rect x="162.53" y="244.50" width="17.79" height="2.03" fill="#167724"/>
<rect x="162.53" y="246.50" width="17.79" height="1.03" fill="#105b1b"/>
<rect x="162.53" y="247.50" width="17.79" height="3.03" fill="#115e1b"/>
<rect x="162.53" y="250.50" width="17.79" height="2.03" fill="#0e4214"/>
<rect x="162.53" y="252.50" width="17.79" height="1.03" fill="#115e1c"/>
<rect x="162.53" y="253.50" width="17.79" height="1.03" fill="#157222"/>
<rect x="162.53" y="254.50" width="17.79" height="1.03" fill="#105619"/>
<rect x="162.53" y="255.50" width="17.79" height="1.03" fill="#0f4e17"/>
<rect x="162.53" y="256.50" width="17.79" height="1.03" fill="#10581a"/>
<rect x="162.53" y="257.50" width="17.79" height="2.03" fill="#0e2b10"/>
<rect x="162.53" y="259.50" width="17.79" height="1.03" fill="#157222"/>
<rect x="162.53" y="260.50" width="17.79" height="3.03" fill="#105c1b"/>
<rect x="162.53" y="263.50" width="17.79" height="2.03" fill="#0f5318"/>
<rect x="162.53" y="265.50" width="17.79" height="1.53" fill="#0e4214"/>
<rect x="162.53" y="267.00" width="17.79" height="2.03" fill="#115d1b"/>
<rect x="162.53" y="269.00" width="17.79" height="2.03" fill="#12661e"/>
<rect x="162.53" y="271.00" width="17.79" height="3.03" fill="#136d20"/>
<rect x="162.53" y="274.00" width="17.79" height="1.03" fill="#12681f"/>
<rect x="162.53" y="275.00" width="17.79" height="2.03" fill="#11601c"/>
<rect x="162.53" y="277.00" width="17.79" height="1.03" fill="#136a1f"/>
<rect x="162.53" y="278.00" width="17.79" height="2.53" fill="#157222"/>
<rect x="162.53" y="280.50" width="17.79" height="1.53" fill="#0f4e17"/>
<rect x="162.53" y="282.00" width="17.79" height="2.03" fill="#12641e"/>
<rect x="162.53" y="284.00" width="17.79" height="1.03" fill="#157222"/>
<rect x="162.53" y="285.00" width="17.79" height="2.53" fill="#13691f"/>
<rect x="162.53" y="287.50" width="17.79" height="1.03" fill="#0e3511"/>
<rect x="162.53" y="288.50" width="17.79" height="2.03" fill="#187d26"/>
<rect x="162.53" y="290.50" width="17.79" height="2.53" fill="#136c20"/>
<rect x="162.53" y="293.00" width="17.79" height="1.53" fill="#167825"/>
<rect x="162.53" y="294.50" width="17.79" height="2.03" fill="#105c1b"/>
<rect x="162.53" y="296.50" width="17.79" height="2.03" fill="#105619"/>
<rect x="162.53" y="298.50" width="17.79" height="3.03" fill="#0f5318"/>
<rect x="162.53" y="301.50" width="17.79" height="1.03" fill="#12681f"/>
<rect x="162.53" y="302.50" width="17.79" height="2.53" fill="#198028"/>
<rect x="162.53" y="305.00" width="17.79" height="1.53" fill="#11601c"/>
<rect x="162.53" y="306.50" width="17.79" height="1.53" fill="#1e8b2c"/>
<rect x="162.53" y="308.00" width="17.79" height="3.03" fill="#136d20"/>
<rect x="162.53" y="311.00" width="17.79" height="1.03" fill="#198128"/>
<rect x="162.53" y="312.00" width="17.79" height="2.03" fill="#147021"/>
<rect x="162.53" y="314.00" width="17.79" height="1.53" fill="#198028"/>
<rect x="162.53" y="315.50" width="17.79" height="1.03" fill="#136a1f"/>
<rect x="162.53" y="316.50" width="17.79" height="1.03" fill="#12671f"/>
<rect x="162.53" y="317.50" width="17.79" height="2.03" fill="#12631d"/>
<rect x="162.53" y="319.50" width="17.79" height="3.03" fill="#1a8329"/>
<rect x="162.53" y="322.50" width="17.79" height="1.03" fill="#167724"/>
<rect x="162.53" y="323.50" width="17.79" height="2.03" fill="#0f5218"/>
<rect x="162.53" y="325.50" width="17.79" height="1.03" fill="#136b20"/>
<rect x="162.53" y="326.50" width="17.79" height="3.03" fill="#177a25"/>
<rect x="162.53" y="329.50" width="17.79" height="1.53" fill="#187d27"/>
<rect x="162.53" y="331.00" width="17.79" height="2.03" fill="#1a8329"/>
<rect x="162.53" y="333.00" width="17.79" height="1.03" fill="#197f27"/>
<rect x="162.53" y="334.00" width="17.79" height="1.03" fill="#146d21"/>
<rect x="162.53" y="335.00" width="17.79" height="3.03" fill="#1a8229"/>
<rect x="162.53" y="338.00" width="17.79" height="2.53" fill="#167624"/>
<rect x="162.53" y="340.50" width="17.79" height="1.03" fill="#1f8d2d"/>
<rect x="162.53" y="341.50" width="17.79" height="1.03" fill="#187e27"/>
<rect x="162.53" y="342.50" width="17.79" height="1.03" fill="#208f2e"/>
<rect x="162.53" y="343.50" width="17.79" height="1.03" fill="#136a20"/>
<rect x="162.53" y="344.50" width="17.79" height="2.03" fill="#11621d"/>
<rect x="162.53" y="346.50" width="17.79" height="2.03" fill="#147122"/>
<rect x="162.53" y="348.50" width="17.79" height="2.53" fill="#115d1b"/>
<rect x="162.53" y="351.00" width="17.79" height="2.03" fill="#197f27"/>
<rect x="162.53" y="353.00" width="17.79" height="2.03" fill="#177925"/>
<rect x="162.53" y="355.00" width="17.79" height="1.03" fill="#1b852a"/>
<rect x="180.28" y="169.00" width="17.79" height="2.03" fill="#7d161c"/>
<rect x="180.28" y="171.00" width="17.79" height="3.03" fill="#671318"/>
<rect x="180.28" y="174.00" width="17.79" height="2.03" fill="#87171d"/>
<rect x="180.28" y="176.00" width="17.79" height="3.03" fill="#71141a"/>
<rect x="180.28" y="179.00" width="17.79" height="3.03" fill="#b31c24"/>
<rect x="180.28" y="182.00" width="17.79" height="2.03" fill="#ab1c23"/>
<rect x="180.28" y="184.00" width="17.79" height="2.03" fill="#d8212a"/>
<rect x="180.28" y="186.00" width="17.79" height="2.03" fill="#b31c24"/>
<rect x="180.28" y="188.00" width="17.79" height="3.03" fill="#9c1a21"/>
<rect x="180.28" y="191.00" width="17.79" height="2.03" fill="#d12029"/>
<rect x="180.28" y="193.00" width="17.79" height="1.03" fill="#e7232d"/>
<rect x="180.28" y="194.00" width="17.79" height="1.03" fill="#a71b22"/>
<rect x="180.28" y="195.00" width="17.79" height="3.03" fill="#bb1d26"/>
<rect x="180.28" y="198.00" width="17.79" height="2.03" fill="#e6232d"/>
<rect x="180.28" y="200.00" width="17.79" height="2.03" fill="#e3222c"/>
<rect x="180.28" y="202.00" width="17.79" height="2.53" fill="#c01e26"/>
<rect x="180.28" y="204.50" width="17.79" height="2.03" fill="#d02029"/>
<rect x="180.28" y="206.50" width="17.79" height="3.03" fill="#ec242e"/>
<rect x="180.28" y="209.50" width="17.79" height="1.03" fill="#bd1e26"/>
<rect x="180.28" y="210.50" width="17.79" height="1.03" fill="#9e1a21"/>
<rect x="180.28" y="211.50" width="17.79" height="2.03" fill="#ec242e"/>
<rect x="180.28" y="213.50" width="17.79" height="1.53" fill="#de222b"/>
<rect x="180.28" y="215.00" width="17.79" height="1.03" fill="#ec242e"/>
<rect x="180.28" y="216.00" width="17.79" height="1.03" fill="#140a0c"/>
<rect x="180.28" y="217.00" width="17.79" height="2.03" fill="#0e3011"/>
<rect x="180.28" y="219.00" width="17.79" height="3.03" fill="#1e8c2c"/>
<rect x="180.28" y="222.00" width="17.79" height="2.53" fill="#48c147"/>
<rect x="180.28" y="224.50" width="17.79" height="2.53" fill="#62d451"/>
<rect x="180.28" y="227.00" width="17.79" height="1.03" fill="#52c94b"/>
<rect x="180.28" y="228.00" width="17.79" height="2.03" fill="#3db741"/>
<rect x="180.28" y="230.00" width="17.79" height="2.03" fill="#54ca4c"/>
<rect x="180.28" y="232.00" width="17.79" height="2.03" fill="#4fc64a"/>
<rect x="180.28" y="234.00" width="17.79" height="2.53" fill="#31aa3b"/>
<rect x="180.28" y="236.50" width="17.79" height="2.53" fill="#38b23e"/>
<rect x="180.28" y="239.00" width="17.79" height="2.03" fill="#2ea638"/>
<rect x="180.28" y="241.00" width="17.79" height="2.53" fill="#68d854"/>
<rect x="180.28" y="243.50" width="17.79" height="1.03" fill="#44bd45"/>
<rect x="180.28" y="244.50" width="17.79" height="2.03" fill="#3db741"/>
<rect x="180.28" y="246.50" width="17.79" height="1.03" fill="#3bb540"/>
<rect x="180.28" y="247.50" width="17.79" height="3.03" fill="#35af3d"/>
<rect x="180.28" y="250.50" width="17.79" height="2.03" fill="#21922f"/>
<rect x="180.28" y="252.50" width="17.79" height="1.03" fill="#3fb842"/>
<rect x="180.28" y="253.50" width="17.79" height="1.03" fill="#67d753"/>
<rect x="180.28" y="254.50" width="17.79" height="1.03" fill="#37b13e"/>
<rect x="180.28" y="255.50" width="17.79" height="1.03" fill="#50c84a"/>
<rect x="180.28" y="256.50" width="17.79" height="1.03" fill="#2ca437"/>
<rect x="180.28" y="257.50" width="17.79" height="2.03" fill="#50c74a"/>
<rect x="180.28" y="259.50" width="17.79" height="1.03" fill="#35af3d"/>
<rect x="180.28" y="260.50" width="17.79" height="3.03" fill="#35af3d"/>
<rect x="180.28" y="263.50" width="17.79" height="2.03" fill="#39b23f"/>
<rect x="180.28" y="265.50" width="17.79" height="1.53" fill="#289d34"/>
<rect x="180.28" y="267.00" width="17.79" height="2.03" fill="#3fb942"/>
<rect x="180.28" y="269.00" width="17.79" height="2.03" fill="#279b33"/>
<rect x="180.28" y="271.00" width="17.79" height="3.03" fill="#2ea638"/>
<rect x="180.28" y="274.00" width="17.79" height="1.03" fill="#68d854"/>
<rect x="180.28" y="275.00" width="17.79" height="2.03" fill="#34ad3c"/>
<rect x="180.28" y="277.00" width="17.79" height="1.03" fill="#68d854"/>
<rect x="180.28" y="278.00" width="17.79" height="2.53" fill="#41ba43"/>
<rect x="180.28" y="280.50" width="17.79" height="1.53" fill="#53ca4b"/>
<rect x="180.28" y="282.00" width="17.79" height="2.03" fill="#30a83a"/>
<rect x="180.28" y="284.00" width="17.79" height="1.03" fill="#62d451"/>
<rect x="180.28" y="285.00" width="17.79" height="2.53" fill="#279c34"/>
<rect x="180.28" y="287.50" width="17.79" height="1.03" fill="#4bc348"/>
<rect x="180.28" y="288.50" width="17.79" height="2.03" fill="#39b33f"/>
<rect x="180.28" y="290.50" width="17.79" height="2.53" fill="#68d854"/>
<rect x="180.28" y="293.00" width="17.79" height="1.53" fill="#40ba43"/>
<rect x="180.28" y="294.50" width="17.79" height="2.03" fill="#2aa136"/>
<rect x="180.28" y="296.50" width="17.79" height="2.03" fill="#36af3d"/>
<rect x="180.28" y="298.50" width="17.79" height="3.03" fill="#249832"/>
<rect x="180.28" y="301.50" width="17.79" height="1.03" fill="#38b23f"/>
<rect x="180.28" y="302.50" width="17.79" height="2.53" fill="#30a839"/>
<rect x="180.28" y="305.00" width="17.79" height="1.53" fill="#45be45"/>
<rect x="180.28" y="306.50" width="17.79" height="1.53" fill="#2fa739"/>
<rect x="180.28" y="308.00" width="17.79" height="3.03" fill="#42bc44"/>
<rect x="180.28" y="311.00" width="17.79" height="1.03" fill="#2fa739"/>
<rect x="180.28" y="312.00" width="17.79" height="2.03" fill="#36af3d"/>
<rect x="180.28" y="314.00" width="17.79" height="1.53" fill="#48c146"/>
<rect x="180.28" y="315.50" width="17.79" height="1.03" fill="#44bd45"/>
<rect x="180.28" y="316.50" width="17.79" height="1.03" fill="#45be45"/>
<rect x="180.28" y="317.50" width="17.79" height="2.03" fill="#40ba43"/>
<rect x="180.28" y="319.50" width="17.79" height="3.03" fill="#229430"/>
<rect x="180.28" y="322.50" width="17.79" height="1.03" fill="#269b33"/>
<rect x="180.28" y="323.50" width="17.79" height="2.03" fill="#34ad3c"/>
<rect x="180.28" y="325.50" width="17.79" height="1.03" fill="#4cc448"/>
<rect x="180.28" y="326.50" width="17.79" height="3.03" fill="#32ab3b"/>
<rect x="180.28" y="329.50" width="17.79" height="1.53" fill="#2aa036"/>
<rect x="180.28" y="331.00" width="17.79" height="2.03" fill="#4bc348"/>
<rect x="180.28" y="333.00" width="17.79" height="1.03" fill="#57cc4d"/>
<rect x="180.28" y="334.00" width="17.79" height="1.03" fill="#5bcf4f"/>
<rect x="180.28" y="335.00" width="17.79" height="3.03" fill="#31aa3a"/>
<rect x="180.28" y="338.00" width="17.79" height="2.53" fill="#49c247"/>
<rect x="180.28" y="340.50" width="17.79" height="1.03" fill="#1e8c2c"/>
<rect x="180.28" y="341.50" width="17.79" height="1.03" fill="#68d854"/>
<rect x="180.28" y="342.50" width="17.79" height="1.03" fill="#3bb540"/>
<rect x="180.28" y="343.50" width="17.79" height="1.03" fill="#46bf46"/>
<rect x="180.28" y="344.50" width="17.79" height="2.03" fill="#36af3d"/>
<rect x="180.28" y="346.50" width="17.79" height="2.03" fill="#1f8f2e"/>
<rect x="180.28" y="348.50" width="17.79" height="2.53" fill="#5ed150"/>
<rect x="180.28" y="351.00" width="17.79" height="2.03" fill="#41bb43"/>
<rect x="180.28" y="353.00" width="17.79" height="2.03" fill="#46bf45"/>
<rect x="180.28" y="355.00" width="17.79" height="1.03" fill="#68d854"/>
<rect x="198.03" y="169.00" width="17.79" height="2.03" fill="#ac1c23"/>
<rect x="198.03" y="171.00" width="17.79" height="3.03" fill="#a01a21"/>
<rect x="198.03" y="174.00" width="17.79" height="2.03" fill="#b81d25"/>
<rect x="198.03" y="176.00" width="17.79" height="3.03" fill="#91181f"/>
<rect x="198.03" y="179.00" width="17.79" height="3.03" fill="#c51f27"/>
<rect x="198.03" y="182.00" width="17.79" height="2.03" fill="#91181f"/>
<rect x="198.03" y="184.00" width="17.79" height="2.03" fill="#981920"/>
<rect x="198.03" y="186.00" width="17.79" height="2.03" fill="#8d181e"/>
<rect x="198.03" y="188.00" width="17.79" height="3.03" fill="#aa1b23"/>
<rect x="198.03" y="191.00" width="17.79" height="2.03" fill="#c31e27"/>
<rect x="198.03" y="193.00" width="17.79" height="1.03" fill="#9c1a21"/>
<rect x="198.03" y="194.00" width="17.79" height="1.03" fill="#e5232c"/>
<rect x="198.03" y="195.00" width="17.79" height="3.03" fill="#8b181e"/>
<rect x="198.03" y="198.00" width="17.79" height="2.03" fill="#80161c"/>
<rect x="198.03" y="200.00" width="17.79" height="2.03" fill="#7f161c"/>
<rect x="198.03" y="202.00" width="17.79" height="2.53" fill="#7b161b"/>
<rect x="198.03" y="204.50" width="17.79" height="2.03" fill="#9f1a21"/>
<rect x="198.03" y="206.50" width="17.79" height="3.03" fill="#95191f"/>
<rect x="198.03" y="209.50" width="17.79" height="1.03" fill="#b51d25"/>
<rect x="198.03" y="210.50" width="17.79" height="1.03" fill="#da212b"/>
<rect x="198.03" y="211.50" width="17.79" height="2.03" fill="#a71b22"/>
<rect x="198.03" y="213.50" width="17.79" height="1.53" fill="#b51d25"/>
<rect x="198.03" y="215.00" width="17.79" height="1.03" fill="#a71b22"/>
<rect x="198.03" y="216.00" width="17.79" height="1.03" fill="#259932"/>
<rect x="198.03" y="217.00" width="17.79" height="2.03" fill="#3cb540"/>
<rect x="198.03" y="219.00" width="17.79" height="3.03" fill="#2ca437"/>
<rect x="198.03" y="222.00" width="17.79" height="2.53" fill="#279b33"/>
<rect x="198.03" y="224.50" width="17.79" height="2.53" fill="#239531"/>
<rect x="198.03" y="227.00" width="17.79" height="1.03" fill="#68d854"/>
<rect x="198.03" y="228.00" width="17.79" height="2.03" fill="#279c34"/>
<rect x="198.03" y="230.00" width="17.79" height="2.03" fill="#4fc649"/>
<rect x="198.03" y="232.00" width="17.79" height="2.03" fill="#2da438"/>
<rect x="198.03" y="234.00" width="17.79" height="2.53" fill="#34ad3c"/>
<rect x="198.03" y="236.50" width="17.79" height="2.53" fill="#187e27"/>
<rect x="198.03" y="239.00" width="17.79" height="2.03" fill="#3fb942"/>
<rect x="198.03" y="241.00" width="17.79" height="2.53" fill="#1b862a"/>
<rect x="198.03" y="243.50" width="17.79" height="1.03" fill="#4cc448"/>
<rect x="198.03" y="244.50" width="17.79" height="2.03" fill="#3bb440"/>
<rect x="198.03" y="246.50" width="17.79" height="1.03" fill="#2ba136"/>
<rect x="198.03" y="247.50" width="17.79" height="3.03" fill="#52c94b"/>
<rect x="198.03" y="250.50" width="17.79" height="2.03" fill="#21922f"/>
<rect x="198.03" y="252.50" width="17.79" height="1.03" fill="#4bc348"/>
<rect x="198.03" y="253.50" width="17.79" height="1.03" fill="#229430"/>
<rect x="198.03" y="254.50" width="17.79" height="1.03" fill="#1d8a2c"/>
<rect x="198.03" y="255.50" width="17.79" height="1.03" fill="#198128"/>
<rect x="198.03" y="256.50" width="17.79" height="1.03" fill="#2ba237"/>
<rect x="198.03" y="257.50" width="17.79" height="2.03" fill="#36b03d"/>
<rect x="198.03" y="259.50" width="17.79" height="1.03" fill="#2fa839"/>
<rect x="198.03" y="260.50" width="17.79" height="3.03" fill="#48c147"/>
<rect x="198.03" y="263.50" width="17.79" height="2.03" fill="#34ad3c"/>
<rect x="198.03" y="265.50" width="17.79" height="1.53" fill="#2fa739"/>
<rect x="198.03" y="267.00" width="17.79" height="2.03" fill="#38b13e"/>
<rect x="198.03" y="269.00" width="17.79" height="2.03" fill="#33ac3b"/>
<rect x="198.03" y="271.00" width="17.79" height="3.03" fill="#259932"/>
<rect x="198.03" y="274.00" width="17.79" height="1.03" fill="#167824"/>
<rect x="198.03" y="275.00" width="17.79" height="2.03" fill="#2aa035"/>
<rect x="198.03" y="277.00" width="17.79" height="1.03" fill="#289d34"/>
<rect x="198.03" y="278.00" width="17.79" height="2.53" fill="#3db641"/>
<rect x="198.03" y="280.50" width="17.79" height="1.53" fill="#1f8f2e"/>
<rect x="198.03" y="282.00" width="17.79" height="2.03" fill="#59ce4e"/>
<rect x="198.03" y="284.00" width="17.79" height="1.03" fill="#34ad3c"/>
<rect x="198.03" y="285.00" width="17.79" height="2.53" fill="#30a93a"/>
<rect x="198.03" y="287.50" width="17.79" height="1.03" fill="#35ae3c"/>
<rect x="198.03" y="288.50" width="17.79" height="2.03" fill="#2ea639"/>
<rect x="198.03" y="290.50" width="17.79" height="2.53" fill="#45bf45"/>
<rect x="198.03" y="293.00" width="17.79" height="1.53" fill="#31aa3a"/>
<rect x="198.03" y="294.50" width="17.79" height="2.03" fill="#2ea639"/>
<rect x="198.03" y="296.50" width="17.79" height="2.03" fill="#2aa136"/>
<rect x="198.03" y="298.50" width="17.79" height="3.03" fill="#259a33"/>
<rect x="198.03" y="301.50" width="17.79" height="1.03" fill="#3bb440"/>
<rect x="198.03" y="302.50" width="17.79" height="2.53" fill="#4dc549"/>
<rect x="198.03" y="305.00" width="17.79" height="1.53" fill="#32ab3b"/>
<rect x="198.03" y="306.50" width="17.79" height="1.53" fill="#2da438"/>
<rect x="198.03" y="308.00" width="17.79" height="3.03" fill="#40ba43"/>
<rect x="198.03" y="311.00" width="17.79" height="1.03" fill="#259a33"/>
<rect x="198.03" y="312.00" width="17.79" height="2.03" fill="#147022"/>
<rect x="198.03" y="314.00" width="17.79" height="1.53" fill="#3db741"/>
<rect x="198.03" y="315.50" width="17.79" height="1.03" fill="#35ae3d"/>
<rect x="198.03" y="316.50" width="17.79" height="1.03" fill="#21932f"/>
<rect x="198.03" y="317.50" width="17.79" height="2.03" fill="#68d854"/>
<rect x="198.03" y="319.50" width="17.79" height="3.03" fill="#44bd45"/>
<rect x="198.03" y="322.50" width="17.79" height="1.03" fill="#31aa3a"/>
<rect x="198.03" y="323.50" width="17.79" height="2.03" fill="#33ad3c"/>
<rect x="198.03" y="325.50" width="17.79" height="1.03" fill="#279c34"/>
<rect x="198.03" y="326.50" width="17.79" height="3.03" fill="#2aa136"/>
<rect x="198.03" y="329.50" width="17.79" height="1.53" fill="#3bb540"/>
<rect x="198.03" y="331.00" width="17.79" height="2.03" fill="#47c046"/>
<rect x="198.03" y="333.00" width="17.79" height="1.03" fill="#2fa739"/>
<rect x="198.03" y="334.00" width="17.79" height="1.03" fill="#51c84a"/>
<rect x="198.03" y="335.00" width="17.79" height="3.03" fill="#239631"/>
<rect x="198.03" y="338.00" width="17.79" height="2.53" fill="#249631"/>
<rect x="198.03" y="340.50" width="17.79" height="1.03" fill="#20902f"/>
<rect x="198.03" y="341.50" width="17.79" height="1.03" fill="#44bd45"/>
<rect x="198.03" y="342.50" width="17.79" height="1.03" fill="#3db641"/>
<rect x="198.03" y="343.50" width="17.79" height="1.03" fill="#2ca337"/>
<rect x="198.03" y="344.50" width="17.79" height="2.03" fill="#1d8b2c"/>
<rect x="198.03" y="346.50" width="17.79" height="2.03" fill="#1f8f2e"/>
<rect x="198.03" y="348.50" width="17.79" height="2.53" fill="#1f8d2d"/>
<rect x="198.03" y="351.00" width="17.79" height="2.03" fill="#4bc448"/>
<rect x="198.03" y="353.00" width="17.79" height="2.03" fill="#35ae3d"/>
<rect x="198.03" y="355.00" width="17.79" height="1.03" fill="#5acf4e"/>
</g>
<linearGradient id="lgC" x1="0" y1="0" x2="0" y2="1"><stop offset="0" stop-color="#f0202e"/><stop offset="0.12" stop-color="#c81c28"/><stop offset="0.27" stop-color="#7a121a"/><stop offset="0.45" stop-color="#1a0c0c"/><stop offset="0.55" stop-color="#0e140e"/><stop offset="0.75" stop-color="#1c7a36"/><stop offset="0.9" stop-color="#3cb048"/><stop offset="1" stop-color="#62cc58"/></linearGradient>
<rect x="218.90" y="169.00" width="4.90" height="60.00" fill="url(#lgC)"/>
<text x="225.30" y="177.20" font-size="4.8" fill="#151515" font-weight="bold" text-anchor="start">1.5</text>
<text x="225.30" y="185.15" font-size="4.8" fill="#151515" font-weight="bold" text-anchor="start">1</text>
<text x="225.30" y="193.10" font-size="4.8" fill="#151515" font-weight="bold" text-anchor="start">0.5</text>
<text x="225.30" y="201.05" font-size="4.8" fill="#151515" font-weight="bold" text-anchor="start">0</text>
<text x="225.30" y="209.00" font-size="4.8" fill="#151515" font-weight="bold" text-anchor="start">−0.5</text>
<text x="225.30" y="216.95" font-size="4.8" fill="#151515" font-weight="bold" text-anchor="start">−1</text>
<text x="225.30" y="224.90" font-size="4.8" fill="#151515" font-weight="bold" text-anchor="start">−1.5</text>
<text x="101.50" y="160.60" font-size="8.6" fill="#151515" font-weight="normal" text-anchor="start" stroke="#151515" stroke-width="0.2">Group 1</text>
<text x="146.80" y="160.60" font-size="8.6" fill="#151515" font-weight="normal" text-anchor="start" stroke="#151515" stroke-width="0.2">Group 2</text>
<text x="186.00" y="160.60" font-size="8.6" fill="#151515" font-weight="normal" text-anchor="start" stroke="#151515" stroke-width="0.2">Group 3</text>
<polyline points="99.20,163.00 99.20,147.50 181.40,147.50 181.40,162.00" fill="none" stroke="#6a6a6a" stroke-width="0.7"/>
<polyline points="83.00,169.00 83.00,163.00 123.00,163.00 123.00,165.50" fill="none" stroke="#6a6a6a" stroke-width="0.7"/>
<polyline points="109.00,169.00 109.00,165.50 136.00,165.50 136.00,169.00" fill="none" stroke="#6a6a6a" stroke-width="0.7"/>
<polyline points="118.60,169.00 118.60,167.00 128.50,167.00 128.50,165.50" fill="none" stroke="#6a6a6a" stroke-width="0.7"/>
<polyline points="162.50,165.50 162.50,162.00 198.50,162.00 198.50,165.00" fill="none" stroke="#6a6a6a" stroke-width="0.7"/>
<polyline points="153.70,169.00 153.70,165.50 171.40,165.50 171.40,169.00" fill="none" stroke="#6a6a6a" stroke-width="0.7"/>
<polyline points="189.20,169.00 189.20,165.00 207.80,165.00 207.80,169.00" fill="none" stroke="#6a6a6a" stroke-width="0.7"/>
<text x="28.00" y="365.20" font-size="8.1" fill="#151515" font-weight="normal" text-anchor="start" stroke="#151515" stroke-width="0.2">SMARCA2:</text>
<text x="80.50" y="364.90" font-size="6.9" fill="#151515" font-weight="normal" text-anchor="middle" stroke="#151515" stroke-width="0.2">WT</text>
<text x="98.10" y="364.90" font-size="6.9" fill="#151515" font-weight="normal" text-anchor="middle" stroke="#151515" stroke-width="0.2">Ctrl</text>
<text x="115.60" y="364.90" font-size="6.9" fill="#151515" font-weight="normal" text-anchor="middle" stroke="#151515" stroke-width="0.2">BRD*</text>
<text x="136.60" y="364.90" font-size="6.9" fill="#151515" font-weight="normal" text-anchor="middle" stroke="#151515" stroke-width="0.2">ATP*</text>
<text x="154.00" y="364.90" font-size="6.9" fill="#151515" font-weight="normal" text-anchor="middle" stroke="#151515" stroke-width="0.2">WT</text>
<text x="172.40" y="364.90" font-size="6.9" fill="#151515" font-weight="normal" text-anchor="middle" stroke="#151515" stroke-width="0.2">BRD*</text>
<text x="190.40" y="364.90" font-size="6.9" fill="#151515" font-weight="normal" text-anchor="middle" stroke="#151515" stroke-width="0.2">Ctrl</text>
<text x="210.00" y="364.90" font-size="6.9" fill="#151515" font-weight="normal" text-anchor="middle" stroke="#151515" stroke-width="0.2">ATP*</text>
<line x1="74.50" y1="368.80" x2="132.50" y2="368.80" stroke="#151515" stroke-width="0.9"/>
<line x1="150.40" y1="368.80" x2="208.60" y2="368.80" stroke="#151515" stroke-width="0.9"/>
<text x="103.70" y="379.20" font-size="8.1" fill="#151515" font-weight="normal" text-anchor="middle" stroke="#151515" stroke-width="0.2">shLuc</text>
<text x="181.40" y="379.20" font-size="8.1" fill="#151515" font-weight="normal" text-anchor="middle" stroke="#151515" stroke-width="0.2">shSMARCA2</text>
<path d="M73.8 170.0H72.6V170.6H73.8M73.8 169.5H71.7V170.3H72.6M71.7 169.9H70.4V171.1H73.8M73.8 171.8H70.5V172.6H73.8M70.4 170.5H68.5V172.2H70.5M73.8 173.4H72.1V174.0H73.8M72.1 173.7H71.8V174.4H73.8M73.8 174.8H72.3V175.3H73.8M72.3 175.1H71.7V175.8H73.8M71.8 174.1H71.4V175.4H71.7M73.8 177.1H73.0V177.6H73.8M73.8 176.7H72.7V177.3H73.0M73.8 176.2H72.2V177.0H72.7M73.8 178.0H72.6V178.5H73.8M73.2 179.4H72.8V180.1H73.8M72.6 178.3H72.2V179.7H72.8M72.2 176.6H71.9V179.0H72.2M73.8 180.5H71.8V181.0H73.8M71.8 180.8H71.2V181.7H73.8M71.9 177.8H70.5V181.2H71.2M71.4 174.7H69.9V179.5H70.5M73.8 182.3H72.9V182.8H73.8M73.8 183.3H72.9V184.4H73.2M72.9 182.6H72.4V183.8H72.9M73.1 185.9H72.8V187.4H73.1M72.8 186.7H72.6V188.7H73.1M72.4 183.2H71.8V187.7H72.6M73.8 189.6H71.5V190.1H73.8M73.8 191.2H72.2V191.9H73.8M73.8 190.6H71.6V191.5H72.2M71.5 189.9H71.1V191.0H71.6M71.8 185.4H70.3V190.5H71.1M73.8 193.2H72.8V193.7H73.8M73.8 194.2H72.4V194.6H73.8M72.8 193.5H72.1V194.4H72.4M73.8 192.6H71.8V193.9H72.1M73.8 195.0H71.8V195.7H73.8M71.8 193.3H71.1V195.3H71.8M70.3 187.9H69.5V194.3H71.1M69.9 177.1H67.0V191.1H69.5M73.8 196.5H72.9V197.2H73.8M72.9 196.8H72.3V197.8H73.8M73.8 198.2H72.9V198.7H73.8M73.8 199.4H73.0V200.1H73.8M72.9 198.5H72.4V199.7H73.0M72.3 197.3H72.0V199.1H72.4M73.8 200.7H72.5V201.3H73.8M73.8 202.4H72.8V202.9H73.8M73.8 201.9H72.2V202.6H72.8M72.5 201.0H71.8V202.3H72.2M72.0 198.2H71.3V201.6H71.8M73.8 203.4H72.2V203.9H73.8M73.8 204.4H72.0V205.1H73.8M72.2 203.6H71.3V204.7H72.0M71.3 199.9H70.3V204.2H71.3M73.8 205.9H73.0V206.4H73.8M73.0 206.1H72.5V207.9H73.0M73.8 209.4H72.5V210.1H73.8M72.5 207.0H71.9V209.7H72.5M73.8 210.7H72.7V211.2H73.8M73.8 211.8H72.6V212.3H73.8M72.7 210.9H72.2V212.1H72.6M71.9 208.4H70.9V211.5H72.2M73.8 212.7H72.8V213.2H73.8M72.8 213.0H72.3V213.8H73.8M73.8 215.0H72.3V215.6H73.8M73.8 214.4H72.0V215.3H72.3M72.3 213.4H71.5V214.9H72.0M70.9 209.9H70.0V214.1H71.5M70.3 202.0H67.5V212.0H70.0M67.0 184.1H66.0V207.0H67.5M68.5 171.3H62.2V195.6H66.0M73.8 216.4H70.2V216.9H73.8M73.8 217.6H70.2V218.2H73.8M70.2 216.7H68.5V217.9H70.2M73.8 218.9H70.8V219.4H73.8M73.8 220.5H72.7V221.0H73.8M73.8 219.9H72.3V220.8H72.7M72.3 220.4H71.5V221.5H73.8M71.5 220.9H70.0V222.3H73.8M70.8 219.2H69.4V221.6H70.0M73.8 222.9H71.6V223.5H73.8M73.8 224.2H72.2V224.8H73.8M73.8 225.3H72.8V225.9H73.8M72.8 225.6H72.0V226.5H73.8M72.2 224.5H71.6V226.0H72.0M71.6 223.2H70.6V225.3H71.6M73.8 226.9H70.8V227.5H73.8M73.8 228.1H71.1V228.7H73.8M70.8 227.2H70.0V228.4H71.1M73.8 230.1H72.5V230.9H73.1M72.5 230.5H71.7V231.7H73.8M73.8 229.5H71.1V231.1H71.7M70.0 227.8H68.9V230.3H71.1M70.6 224.2H68.3V229.0H68.9M69.4 220.4H66.5V226.6H68.3M73.8 232.3H72.2V232.8H73.8M73.8 233.4H72.1V233.9H73.8M72.2 232.6H71.7V233.7H72.1M73.8 234.5H72.5V235.1H73.8M72.5 234.8H71.9V235.6H73.8M73.0 236.5H72.8V237.4H73.8M73.8 238.0H72.7V238.6H73.8M72.8 236.9H72.3V238.3H72.7M71.9 235.2H71.2V237.6H72.3M71.7 233.1H70.4V236.4H71.2M73.8 239.1H72.6V239.8H73.8M72.6 239.5H71.8V240.5H73.8M73.8 241.1H71.7V241.8H73.8M71.8 240.0H71.1V241.5H71.7M73.8 242.6H72.2V243.1H73.8M72.2 242.8H71.9V243.6H73.8M71.1 240.7H70.7V243.2H71.9M70.4 234.8H68.8V242.0H70.7M73.8 244.9H72.8V245.4H73.8M73.8 244.2H72.7V245.1H72.8M72.7 244.7H72.0V246.0H73.8M73.8 246.6H72.3V247.2H73.8M72.0 245.3H71.6V246.9H72.3M73.8 247.7H70.9V248.3H73.8M71.6 246.1H70.4V248.0H70.9M73.8 248.9H72.8V249.6H73.8M72.8 249.2H72.4V250.4H73.0M73.1 251.5H72.8V252.3H73.8M73.2 254.4H73.0V255.4H73.8M73.1 253.2H72.8V254.9H73.0M72.8 251.9H72.4V254.0H72.8M72.4 249.8H71.9V253.0H72.4M73.8 256.8H72.9V257.6H73.1M73.8 256.2H72.5V257.2H72.9M73.2 260.2H72.9V261.6H73.8M73.0 258.7H72.7V260.9H72.9M72.5 256.7H72.1V259.8H72.7M71.9 251.4H70.9V258.3H72.1M70.4 247.1H68.5V254.8H70.9M68.8 238.4H66.5V250.9H68.5M73.8 262.2H72.2V262.6H73.8M73.8 264.2H72.3V264.8H73.8M73.8 263.4H71.9V264.5H72.3M72.2 262.4H71.4V263.9H71.9M73.8 265.2H71.6V265.7H73.8M71.4 263.2H70.1V265.5H71.6M73.8 266.4H71.2V267.1H73.8M73.8 267.8H71.4V268.4H73.8M71.2 266.7H70.0V268.1H71.4M70.1 264.3H69.2V267.4H70.0M73.8 269.1H73.0V270.1H73.2M73.8 272.0H73.0V272.7H73.8M73.2 271.3H72.8V272.3H73.0M73.0 269.6H72.7V271.8H72.8M73.3 274.0H73.0V274.6H73.8M73.8 273.3H72.7V274.3H73.0M73.3 275.5H72.8V276.9H73.0M72.7 273.8H72.5V276.2H72.8M72.7 270.7H71.8V275.0H72.5M73.8 278.6H73.0V279.2H73.8M73.8 279.9H72.7V280.6H73.8M73.0 278.9H72.3V280.2H72.7M73.8 278.0H72.0V279.6H72.3M73.8 281.9H72.8V282.6H73.8M73.8 281.2H72.1V282.3H72.8M72.0 278.8H71.7V281.7H72.1M73.8 283.1H72.3V283.6H73.8M73.0 284.9H72.7V286.3H73.8M72.3 283.3H72.0V285.6H72.7M71.7 280.3H71.1V284.4H72.0M71.8 272.9H70.7V282.3H71.1M69.2 265.9H68.3V277.6H70.7M73.8 287.5H72.3V288.2H73.8M73.8 287.0H71.8V287.8H72.3M73.8 289.8H71.2V290.4H73.8M73.8 289.0H70.8V290.1H71.2M71.8 287.4H70.3V289.6H70.8M73.8 290.8H72.8V291.4H73.8M72.8 291.1H72.4V292.1H73.8M73.8 292.7H73.0V293.3H73.8M73.8 293.8H72.9V294.5H73.8M73.0 293.0H72.6V294.1H72.9M72.4 291.6H72.1V293.6H72.6M73.8 295.7H72.8V296.3H73.8M73.8 295.1H72.1V296.0H72.8M73.8 297.0H72.5V297.7H73.8M73.8 298.2H72.8V298.8H73.8M72.8 298.5H72.6V299.6H73.8M72.5 297.3H72.2V299.0H72.6M72.1 295.6H71.8V298.2H72.2M72.1 292.6H71.4V296.9H71.8M70.3 288.5H69.8V294.7H71.4M68.3 271.7H67.5V291.6H69.8M73.1 301.1H72.9V302.9H73.1M73.1 304.5H72.9V305.3H73.8M73.8 303.8H72.7V304.9H72.9M72.9 302.0H72.4V304.4H72.7M73.8 305.9H73.0V306.8H73.2M73.8 307.9H72.8V308.4H73.8M73.0 306.4H72.6V308.1H72.8M72.4 303.2H71.7V307.2H72.6M73.8 309.7H72.7V310.2H73.8M73.8 309.0H72.2V310.0H72.7M73.8 310.8H72.4V311.6H73.8M73.8 312.3H72.7V313.1H73.2M72.4 311.2H72.1V312.7H72.7M72.2 309.5H71.6V312.0H72.1M71.7 305.2H70.8V310.7H71.6M73.8 315.7H73.0V316.2H73.8M73.1 314.5H72.8V316.0H73.0M73.8 316.6H72.6V317.1H73.8M72.8 315.2H72.4V316.8H72.6M73.8 318.4H72.4V319.1H73.8M73.8 317.7H72.0V318.8H72.4M72.4 316.0H71.3V318.2H72.0M73.8 319.8H72.9V320.3H73.8M72.9 320.0H72.6V320.8H73.8M72.6 320.4H71.9V321.5H73.8M73.8 322.0H72.4V322.5H73.8M72.4 322.2H72.1V322.9H73.8M73.8 324.8H72.8V325.3H73.8M73.0 323.9H72.5V325.1H72.8M72.1 322.6H71.8V324.5H72.5M71.9 321.0H71.3V323.5H71.8M71.3 317.1H70.4V322.2H71.3M70.8 308.0H68.7V319.7H70.4M73.8 326.1H72.8V326.6H73.8M72.8 326.3H72.2V326.9H73.8M73.8 327.4H72.4V327.8H73.8M72.4 327.6H72.0V328.3H73.8M72.2 326.6H71.4V327.9H72.0M73.8 328.7H72.5V329.3H73.8M73.8 330.0H72.5V330.5H73.8M72.5 329.0H71.8V330.3H72.5M73.2 331.6H72.8V333.2H73.2M73.8 334.3H72.9V334.9H73.8M72.9 334.6H72.7V335.6H73.1M72.8 332.4H72.0V335.1H72.7M71.8 329.6H71.4V333.8H72.0M71.4 327.3H70.7V331.7H71.4M73.8 336.5H72.8V337.2H73.8M72.8 336.9H72.6V338.5H73.0M73.8 339.5H72.7V340.0H73.8M72.7 339.8H72.5V340.5H73.8M72.6 337.7H71.8V340.2H72.5M73.8 341.1H72.7V342.1H73.1M73.2 343.9H72.8V345.9H73.2M72.7 341.6H72.2V344.9H72.8M71.8 338.9H71.4V343.2H72.2M73.8 346.7H72.9V347.6H73.2M73.8 348.6H72.5V349.3H73.8M72.9 347.1H72.2V348.9H72.5M73.8 349.9H72.1V350.6H73.8M72.2 348.0H71.7V350.2H72.1M73.2 351.6H72.8V352.6H73.8M73.8 353.2H72.5V353.7H73.8M72.8 352.1H72.1V353.4H72.5M73.8 354.2H72.6V354.7H73.8M73.8 355.3H72.6V355.8H73.8M72.6 354.4H72.4V355.5H72.6M72.1 352.8H71.8V355.0H72.4M71.7 349.1H71.0V353.9H71.8M71.4 341.1H70.6V351.5H71.0M70.7 329.5H69.6V346.3H70.6M68.7 313.8H67.2V337.9H69.6M67.5 281.7H64.6V325.9H67.2M66.5 244.7H62.7V303.8H64.6M66.5 223.5H59.5V274.2H62.7M68.5 217.3H55.6V248.9H59.5M62.2 183.5H48.7V233.1H55.6" fill="none" stroke="#242424" stroke-width="0.55"/>
<text x="285.30" y="163.20" font-size="12.3" fill="#111" font-weight="bold" text-anchor="start" stroke="#111" stroke-width="0.35">D</text>
<g shape-rendering="crispEdges">
<rect x="345.38" y="174.20" width="17.64" height="3.03" fill="#631318"/>
<rect x="345.38" y="177.20" width="17.64" height="1.53" fill="#581116"/>
<rect x="345.38" y="178.70" width="17.64" height="3.03" fill="#72151a"/>
<rect x="345.38" y="181.70" width="17.64" height="1.03" fill="#651318"/>
<rect x="345.38" y="182.70" width="17.64" height="1.03" fill="#511115"/>
<rect x="345.38" y="183.70" width="17.64" height="2.03" fill="#661318"/>
<rect x="345.38" y="185.70" width="17.64" height="1.53" fill="#531115"/>
<rect x="345.38" y="187.20" width="17.64" height="2.03" fill="#5d1217"/>
<rect x="345.38" y="189.20" width="17.64" height="2.03" fill="#83171d"/>
<rect x="345.38" y="191.20" width="17.64" height="2.03" fill="#92181f"/>
<rect x="345.38" y="193.20" width="17.64" height="1.53" fill="#7f161c"/>
<rect x="345.38" y="194.70" width="17.64" height="1.03" fill="#77151b"/>
<rect x="345.38" y="195.70" width="17.64" height="2.53" fill="#ae1c24"/>
<rect x="345.38" y="198.20" width="17.64" height="1.03" fill="#c71f28"/>
<rect x="345.38" y="199.20" width="17.64" height="1.53" fill="#ac1c23"/>
<rect x="345.38" y="200.70" width="17.64" height="2.03" fill="#8e181e"/>
<rect x="345.38" y="202.70" width="17.64" height="1.03" fill="#d32029"/>
<rect x="345.38" y="203.70" width="17.64" height="1.03" fill="#92181f"/>
<rect x="345.38" y="204.70" width="17.64" height="2.03" fill="#76151b"/>
<rect x="345.38" y="206.70" width="17.64" height="2.03" fill="#681318"/>
<rect x="345.38" y="208.70" width="17.64" height="1.03" fill="#72151a"/>
<rect x="345.38" y="209.70" width="17.64" height="1.03" fill="#651318"/>
<rect x="345.38" y="210.70" width="17.64" height="1.03" fill="#80161c"/>
<rect x="345.38" y="211.70" width="17.64" height="2.53" fill="#70141a"/>
<rect x="345.38" y="214.20" width="17.64" height="2.03" fill="#74151a"/>
<rect x="345.38" y="216.20" width="17.64" height="2.03" fill="#77151b"/>
<rect x="345.38" y="218.20" width="17.64" height="1.03" fill="#691319"/>
<rect x="345.38" y="219.20" width="17.64" height="2.03" fill="#74151a"/>
<rect x="345.38" y="221.20" width="17.64" height="2.53" fill="#92181f"/>
<rect x="345.38" y="223.70" width="17.64" height="2.53" fill="#641318"/>
<rect x="345.38" y="226.20" width="17.64" height="2.03" fill="#74151a"/>
<rect x="345.38" y="228.20" width="17.64" height="1.53" fill="#79151b"/>
<rect x="345.38" y="229.70" width="17.64" height="3.03" fill="#6a1419"/>
<rect x="345.38" y="232.70" width="17.64" height="1.03" fill="#71141a"/>
<rect x="345.38" y="233.70" width="17.64" height="1.03" fill="#591216"/>
<rect x="345.38" y="234.70" width="17.64" height="3.03" fill="#6b1419"/>
<rect x="345.38" y="237.70" width="17.64" height="1.03" fill="#72151a"/>
<rect x="345.38" y="238.70" width="17.64" height="2.03" fill="#81161c"/>
<rect x="345.38" y="240.70" width="17.64" height="1.53" fill="#7f161c"/>
<rect x="345.38" y="242.20" width="17.64" height="2.53" fill="#691319"/>
<rect x="345.38" y="244.70" width="17.64" height="1.03" fill="#621317"/>
<rect x="345.38" y="245.70" width="17.64" height="2.03" fill="#8b181e"/>
<rect x="345.38" y="247.70" width="17.64" height="1.03" fill="#7e161c"/>
<rect x="345.38" y="248.70" width="17.64" height="2.53" fill="#561116"/>
<rect x="345.38" y="251.20" width="17.64" height="1.53" fill="#6d1419"/>
<rect x="345.38" y="252.70" width="17.64" height="2.03" fill="#651318"/>
<rect x="345.38" y="254.70" width="17.64" height="3.03" fill="#691318"/>
<rect x="345.38" y="257.70" width="17.64" height="3.03" fill="#591216"/>
<rect x="345.38" y="260.70" width="17.64" height="1.53" fill="#6c1419"/>
<rect x="345.38" y="262.20" width="17.64" height="2.03" fill="#6a1419"/>
<rect x="345.38" y="264.20" width="17.64" height="1.53" fill="#6e1419"/>
<rect x="345.38" y="265.70" width="17.64" height="2.53" fill="#80161c"/>
<rect x="345.38" y="268.20" width="17.64" height="1.53" fill="#75151a"/>
<rect x="345.38" y="269.70" width="17.64" height="2.03" fill="#601217"/>
<rect x="345.38" y="271.70" width="17.64" height="1.03" fill="#591216"/>
<rect x="345.38" y="272.70" width="17.64" height="3.03" fill="#6a1419"/>
<rect x="345.38" y="275.70" width="17.64" height="2.03" fill="#3a0e11"/>
<rect x="345.38" y="277.70" width="17.64" height="1.03" fill="#330d10"/>
<rect x="345.38" y="278.70" width="17.64" height="2.53" fill="#200b0d"/>
<rect x="345.38" y="281.20" width="17.64" height="2.03" fill="#11611c"/>
<rect x="345.38" y="283.20" width="17.64" height="2.03" fill="#13691f"/>
<rect x="345.38" y="285.20" width="17.64" height="3.03" fill="#157523"/>
<rect x="345.38" y="288.20" width="17.64" height="2.03" fill="#13691f"/>
<rect x="345.38" y="290.20" width="17.64" height="2.53" fill="#146f21"/>
<rect x="345.38" y="292.70" width="17.64" height="2.53" fill="#177a25"/>
<rect x="345.38" y="295.20" width="17.64" height="1.03" fill="#157323"/>
<rect x="345.38" y="296.20" width="17.64" height="1.03" fill="#136c20"/>
<rect x="345.38" y="297.20" width="17.64" height="3.03" fill="#115f1c"/>
<rect x="345.38" y="300.20" width="17.64" height="1.03" fill="#177925"/>
<rect x="345.38" y="301.20" width="17.64" height="2.03" fill="#136b20"/>
<rect x="345.38" y="303.20" width="17.64" height="1.53" fill="#146e21"/>
<rect x="345.38" y="304.70" width="17.64" height="2.53" fill="#146e21"/>
<rect x="345.38" y="307.20" width="17.64" height="3.03" fill="#177b26"/>
<rect x="345.38" y="310.20" width="17.64" height="2.03" fill="#115f1c"/>
<rect x="345.38" y="312.20" width="17.64" height="1.03" fill="#115f1c"/>
<rect x="345.38" y="313.20" width="17.64" height="2.03" fill="#105b1b"/>
<rect x="345.38" y="315.20" width="17.64" height="1.03" fill="#13691f"/>
<rect x="345.38" y="316.20" width="17.64" height="1.03" fill="#115d1b"/>
<rect x="345.38" y="317.20" width="17.64" height="1.03" fill="#12681f"/>
<rect x="345.38" y="318.20" width="17.64" height="2.03" fill="#11621d"/>
<rect x="345.38" y="320.20" width="17.64" height="1.03" fill="#157222"/>
<rect x="345.38" y="321.20" width="17.64" height="2.03" fill="#136b20"/>
<rect x="345.38" y="323.20" width="17.64" height="1.53" fill="#157122"/>
<rect x="345.38" y="324.70" width="17.64" height="2.03" fill="#177925"/>
<rect x="345.38" y="326.70" width="17.64" height="1.53" fill="#157323"/>
<rect x="345.38" y="328.20" width="17.64" height="3.03" fill="#177a25"/>
<rect x="345.38" y="331.20" width="17.64" height="2.03" fill="#177a25"/>
<rect x="345.38" y="333.20" width="17.64" height="1.53" fill="#157222"/>
<rect x="345.38" y="334.70" width="17.64" height="1.03" fill="#157423"/>
<rect x="345.38" y="335.70" width="17.64" height="1.53" fill="#105519"/>
<rect x="345.38" y="337.20" width="17.64" height="1.53" fill="#10591a"/>
<rect x="345.38" y="338.70" width="17.64" height="2.03" fill="#11611d"/>
<rect x="345.38" y="340.70" width="17.64" height="1.53" fill="#12651e"/>
<rect x="345.38" y="342.20" width="17.64" height="3.03" fill="#167724"/>
<rect x="345.38" y="345.20" width="17.64" height="2.03" fill="#136b20"/>
<rect x="345.38" y="347.20" width="17.64" height="2.03" fill="#187d27"/>
<rect x="345.38" y="349.20" width="17.64" height="1.03" fill="#157523"/>
<rect x="345.38" y="350.20" width="17.64" height="1.53" fill="#157323"/>
<rect x="345.38" y="351.70" width="17.64" height="1.03" fill="#157222"/>
<rect x="345.38" y="352.70" width="17.64" height="1.03" fill="#12641d"/>
<rect x="345.38" y="353.70" width="17.64" height="1.93" fill="#167624"/>
<rect x="362.98" y="174.20" width="17.64" height="3.03" fill="#8d181e"/>
<rect x="362.98" y="177.20" width="17.64" height="1.53" fill="#651318"/>
<rect x="362.98" y="178.70" width="17.64" height="3.03" fill="#78151b"/>
<rect x="362.98" y="181.70" width="17.64" height="1.03" fill="#571116"/>
<rect x="362.98" y="182.70" width="17.64" height="1.03" fill="#79151b"/>
<rect x="362.98" y="183.70" width="17.64" height="2.03" fill="#5c1216"/>
<rect x="362.98" y="185.70" width="17.64" height="1.53" fill="#6f1419"/>
<rect x="362.98" y="187.20" width="17.64" height="2.03" fill="#6c1419"/>
<rect x="362.98" y="189.20" width="17.64" height="2.03" fill="#78151b"/>
<rect x="362.98" y="191.20" width="17.64" height="2.03" fill="#75151a"/>
<rect x="362.98" y="193.20" width="17.64" height="1.53" fill="#72151a"/>
<rect x="362.98" y="194.70" width="17.64" height="1.03" fill="#6a1419"/>
<rect x="362.98" y="195.70" width="17.64" height="2.53" fill="#87171d"/>
<rect x="362.98" y="198.20" width="17.64" height="1.03" fill="#661318"/>
<rect x="362.98" y="199.20" width="17.64" height="1.53" fill="#6d1419"/>
<rect x="362.98" y="200.70" width="17.64" height="2.03" fill="#4e1014"/>
<rect x="362.98" y="202.70" width="17.64" height="1.03" fill="#4d1014"/>
<rect x="362.98" y="203.70" width="17.64" height="1.03" fill="#410f12"/>
<rect x="362.98" y="204.70" width="17.64" height="2.03" fill="#470f13"/>
<rect x="362.98" y="206.70" width="17.64" height="2.03" fill="#511115"/>
<rect x="362.98" y="208.70" width="17.64" height="1.03" fill="#450f13"/>
<rect x="362.98" y="209.70" width="17.64" height="1.03" fill="#511115"/>
<rect x="362.98" y="210.70" width="17.64" height="1.03" fill="#450f13"/>
<rect x="362.98" y="211.70" width="17.64" height="2.53" fill="#5b1216"/>
<rect x="362.98" y="214.20" width="17.64" height="2.03" fill="#4a1014"/>
<rect x="362.98" y="216.20" width="17.64" height="2.03" fill="#72151a"/>
<rect x="362.98" y="218.20" width="17.64" height="1.03" fill="#73151a"/>
<rect x="362.98" y="219.20" width="17.64" height="2.03" fill="#6b1419"/>
<rect x="362.98" y="221.20" width="17.64" height="2.53" fill="#7a151b"/>
<rect x="362.98" y="223.70" width="17.64" height="2.53" fill="#7c161c"/>
<rect x="362.98" y="226.20" width="17.64" height="2.03" fill="#81161c"/>
<rect x="362.98" y="228.20" width="17.64" height="1.53" fill="#80161c"/>
<rect x="362.98" y="229.70" width="17.64" height="3.03" fill="#79151b"/>
<rect x="362.98" y="232.70" width="17.64" height="1.03" fill="#5c1217"/>
<rect x="362.98" y="233.70" width="17.64" height="1.03" fill="#79151b"/>
<rect x="362.98" y="234.70" width="17.64" height="3.03" fill="#6b1419"/>
<rect x="362.98" y="237.70" width="17.64" height="1.03" fill="#72151a"/>
<rect x="362.98" y="238.70" width="17.64" height="2.03" fill="#7e161c"/>
<rect x="362.98" y="240.70" width="17.64" height="1.53" fill="#631318"/>
<rect x="362.98" y="242.20" width="17.64" height="2.53" fill="#7f161c"/>
<rect x="362.98" y="244.70" width="17.64" height="1.03" fill="#8d181e"/>
<rect x="362.98" y="245.70" width="17.64" height="2.03" fill="#74151a"/>
<rect x="362.98" y="247.70" width="17.64" height="1.03" fill="#681318"/>
<rect x="362.98" y="248.70" width="17.64" height="2.53" fill="#7f161c"/>
<rect x="362.98" y="251.20" width="17.64" height="1.53" fill="#6f1419"/>
<rect x="362.98" y="252.70" width="17.64" height="2.03" fill="#7b161b"/>
<rect x="362.98" y="254.70" width="17.64" height="3.03" fill="#7e161c"/>
<rect x="362.98" y="257.70" width="17.64" height="3.03" fill="#581116"/>
<rect x="362.98" y="260.70" width="17.64" height="1.53" fill="#71141a"/>
<rect x="362.98" y="262.20" width="17.64" height="2.03" fill="#571116"/>
<rect x="362.98" y="264.20" width="17.64" height="1.53" fill="#631318"/>
<rect x="362.98" y="265.70" width="17.64" height="2.53" fill="#75151a"/>
<rect x="362.98" y="268.20" width="17.64" height="1.53" fill="#5c1216"/>
<rect x="362.98" y="269.70" width="17.64" height="2.03" fill="#631317"/>
<rect x="362.98" y="271.70" width="17.64" height="1.03" fill="#661318"/>
<rect x="362.98" y="272.70" width="17.64" height="3.03" fill="#71141a"/>
<rect x="362.98" y="275.70" width="17.64" height="2.03" fill="#310d10"/>
<rect x="362.98" y="277.70" width="17.64" height="1.03" fill="#2b0c0f"/>
<rect x="362.98" y="278.70" width="17.64" height="2.53" fill="#1b0a0d"/>
<rect x="362.98" y="281.20" width="17.64" height="2.03" fill="#13691f"/>
<rect x="362.98" y="283.20" width="17.64" height="2.03" fill="#105c1b"/>
<rect x="362.98" y="285.20" width="17.64" height="3.03" fill="#136a1f"/>
<rect x="362.98" y="288.20" width="17.64" height="2.03" fill="#13691f"/>
<rect x="362.98" y="290.20" width="17.64" height="2.53" fill="#10591a"/>
<rect x="362.98" y="292.70" width="17.64" height="2.53" fill="#13691f"/>
<rect x="362.98" y="295.20" width="17.64" height="1.03" fill="#136a20"/>
<rect x="362.98" y="296.20" width="17.64" height="1.03" fill="#0f5419"/>
<rect x="362.98" y="297.20" width="17.64" height="3.03" fill="#11611d"/>
<rect x="362.98" y="300.20" width="17.64" height="1.03" fill="#167724"/>
<rect x="362.98" y="301.20" width="17.64" height="2.03" fill="#13691f"/>
<rect x="362.98" y="303.20" width="17.64" height="1.53" fill="#0f4b16"/>
<rect x="362.98" y="304.70" width="17.64" height="2.53" fill="#0e3f13"/>
<rect x="362.98" y="307.20" width="17.64" height="3.03" fill="#12641d"/>
<rect x="362.98" y="310.20" width="17.64" height="2.03" fill="#10591a"/>
<rect x="362.98" y="312.20" width="17.64" height="1.03" fill="#10591a"/>
<rect x="362.98" y="313.20" width="17.64" height="2.03" fill="#115d1b"/>
<rect x="362.98" y="315.20" width="17.64" height="1.03" fill="#157323"/>
<rect x="362.98" y="316.20" width="17.64" height="1.03" fill="#105619"/>
<rect x="362.98" y="317.20" width="17.64" height="1.03" fill="#115e1c"/>
<rect x="362.98" y="318.20" width="17.64" height="2.03" fill="#12631d"/>
<rect x="362.98" y="320.20" width="17.64" height="1.03" fill="#157222"/>
<rect x="362.98" y="321.20" width="17.64" height="2.03" fill="#12681f"/>
<rect x="362.98" y="323.20" width="17.64" height="1.53" fill="#11621d"/>
<rect x="362.98" y="324.70" width="17.64" height="2.03" fill="#12641d"/>
<rect x="362.98" y="326.70" width="17.64" height="1.53" fill="#115e1c"/>
<rect x="362.98" y="328.20" width="17.64" height="3.03" fill="#12651e"/>
<rect x="362.98" y="331.20" width="17.64" height="2.03" fill="#105619"/>
<rect x="362.98" y="333.20" width="17.64" height="1.53" fill="#105a1a"/>
<rect x="362.98" y="334.70" width="17.64" height="1.03" fill="#136d20"/>
<rect x="362.98" y="335.70" width="17.64" height="1.53" fill="#12671f"/>
<rect x="362.98" y="337.20" width="17.64" height="1.53" fill="#105c1b"/>
<rect x="362.98" y="338.70" width="17.64" height="2.03" fill="#12671e"/>
<rect x="362.98" y="340.70" width="17.64" height="1.53" fill="#0f5118"/>
<rect x="362.98" y="342.20" width="17.64" height="3.03" fill="#12671e"/>
<rect x="362.98" y="345.20" width="17.64" height="2.03" fill="#115e1c"/>
<rect x="362.98" y="347.20" width="17.64" height="2.03" fill="#105a1a"/>
<rect x="362.98" y="349.20" width="17.64" height="1.03" fill="#136d20"/>
<rect x="362.98" y="350.20" width="17.64" height="1.53" fill="#0f5318"/>
<rect x="362.98" y="351.70" width="17.64" height="1.03" fill="#12631d"/>
<rect x="362.98" y="352.70" width="17.64" height="1.03" fill="#12681f"/>
<rect x="362.98" y="353.70" width="17.64" height="1.93" fill="#12681f"/>
<rect x="380.58" y="174.20" width="17.64" height="3.03" fill="#591216"/>
<rect x="380.58" y="177.20" width="17.64" height="1.53" fill="#5e1217"/>
<rect x="380.58" y="178.70" width="17.64" height="3.03" fill="#87171d"/>
<rect x="380.58" y="181.70" width="17.64" height="1.03" fill="#70141a"/>
<rect x="380.58" y="182.70" width="17.64" height="1.03" fill="#6e1419"/>
<rect x="380.58" y="183.70" width="17.64" height="2.03" fill="#74151a"/>
<rect x="380.58" y="185.70" width="17.64" height="1.53" fill="#7a151b"/>
<rect x="380.58" y="187.20" width="17.64" height="2.03" fill="#661318"/>
<rect x="380.58" y="189.20" width="17.64" height="2.03" fill="#6f1419"/>
<rect x="380.58" y="191.20" width="17.64" height="2.03" fill="#75151a"/>
<rect x="380.58" y="193.20" width="17.64" height="1.53" fill="#80161c"/>
<rect x="380.58" y="194.70" width="17.64" height="1.03" fill="#75151a"/>
<rect x="380.58" y="195.70" width="17.64" height="2.53" fill="#89171e"/>
<rect x="380.58" y="198.20" width="17.64" height="1.03" fill="#6f1419"/>
<rect x="380.58" y="199.20" width="17.64" height="1.53" fill="#6d1419"/>
<rect x="380.58" y="200.70" width="17.64" height="2.03" fill="#5e1217"/>
<rect x="380.58" y="202.70" width="17.64" height="1.03" fill="#71141a"/>
<rect x="380.58" y="203.70" width="17.64" height="1.03" fill="#7b161b"/>
<rect x="380.58" y="204.70" width="17.64" height="2.03" fill="#6e1419"/>
<rect x="380.58" y="206.70" width="17.64" height="2.03" fill="#6f1419"/>
<rect x="380.58" y="208.70" width="17.64" height="1.03" fill="#641318"/>
<rect x="380.58" y="209.70" width="17.64" height="1.03" fill="#691319"/>
<rect x="380.58" y="210.70" width="17.64" height="1.03" fill="#6b1419"/>
<rect x="380.58" y="211.70" width="17.64" height="2.53" fill="#70141a"/>
<rect x="380.58" y="214.20" width="17.64" height="2.03" fill="#81161c"/>
<rect x="380.58" y="216.20" width="17.64" height="2.03" fill="#79151b"/>
<rect x="380.58" y="218.20" width="17.64" height="1.03" fill="#7e161c"/>
<rect x="380.58" y="219.20" width="17.64" height="2.03" fill="#82161c"/>
<rect x="380.58" y="221.20" width="17.64" height="2.53" fill="#6b1419"/>
<rect x="380.58" y="223.70" width="17.64" height="2.53" fill="#84171d"/>
<rect x="380.58" y="226.20" width="17.64" height="2.03" fill="#72151a"/>
<rect x="380.58" y="228.20" width="17.64" height="1.53" fill="#5f1217"/>
<rect x="380.58" y="229.70" width="17.64" height="3.03" fill="#691319"/>
<rect x="380.58" y="232.70" width="17.64" height="1.03" fill="#70141a"/>
<rect x="380.58" y="233.70" width="17.64" height="1.03" fill="#5c1216"/>
<rect x="380.58" y="234.70" width="17.64" height="3.03" fill="#92181f"/>
<rect x="380.58" y="237.70" width="17.64" height="1.03" fill="#71141a"/>
<rect x="380.58" y="238.70" width="17.64" height="2.03" fill="#7e161c"/>
<rect x="380.58" y="240.70" width="17.64" height="1.53" fill="#601217"/>
<rect x="380.58" y="242.20" width="17.64" height="2.53" fill="#73151a"/>
<rect x="380.58" y="244.70" width="17.64" height="1.03" fill="#75151a"/>
<rect x="380.58" y="245.70" width="17.64" height="2.03" fill="#671318"/>
<rect x="380.58" y="247.70" width="17.64" height="1.03" fill="#75151a"/>
<rect x="380.58" y="248.70" width="17.64" height="2.53" fill="#72141a"/>
<rect x="380.58" y="251.20" width="17.64" height="1.53" fill="#77151b"/>
<rect x="380.58" y="252.70" width="17.64" height="2.03" fill="#601217"/>
<rect x="380.58" y="254.70" width="17.64" height="3.03" fill="#79151b"/>
<rect x="380.58" y="257.70" width="17.64" height="3.03" fill="#6d1419"/>
<rect x="380.58" y="260.70" width="17.64" height="1.53" fill="#651318"/>
<rect x="380.58" y="262.20" width="17.64" height="2.03" fill="#521115"/>
<rect x="380.58" y="264.20" width="17.64" height="1.53" fill="#6f1419"/>
<rect x="380.58" y="265.70" width="17.64" height="2.53" fill="#6c1419"/>
<rect x="380.58" y="268.20" width="17.64" height="1.53" fill="#93181f"/>
<rect x="380.58" y="269.70" width="17.64" height="2.03" fill="#601217"/>
<rect x="380.58" y="271.70" width="17.64" height="1.03" fill="#86171d"/>
<rect x="380.58" y="272.70" width="17.64" height="3.03" fill="#83171d"/>
<rect x="380.58" y="275.70" width="17.64" height="2.03" fill="#380e11"/>
<rect x="380.58" y="277.70" width="17.64" height="1.03" fill="#2f0d10"/>
<rect x="380.58" y="278.70" width="17.64" height="2.53" fill="#290c0f"/>
<rect x="380.58" y="281.20" width="17.64" height="2.03" fill="#187e27"/>
<rect x="380.58" y="283.20" width="17.64" height="2.03" fill="#115e1b"/>
<rect x="380.58" y="285.20" width="17.64" height="3.03" fill="#157222"/>
<rect x="380.58" y="288.20" width="17.64" height="2.03" fill="#167624"/>
<rect x="380.58" y="290.20" width="17.64" height="2.53" fill="#146e21"/>
<rect x="380.58" y="292.70" width="17.64" height="2.53" fill="#1e8b2c"/>
<rect x="380.58" y="295.20" width="17.64" height="1.03" fill="#187c26"/>
<rect x="380.58" y="296.20" width="17.64" height="1.03" fill="#177b26"/>
<rect x="380.58" y="297.20" width="17.64" height="3.03" fill="#197f27"/>
<rect x="380.58" y="300.20" width="17.64" height="1.03" fill="#12681f"/>
<rect x="380.58" y="301.20" width="17.64" height="2.03" fill="#105c1b"/>
<rect x="380.58" y="303.20" width="17.64" height="1.53" fill="#146e21"/>
<rect x="380.58" y="304.70" width="17.64" height="2.53" fill="#157222"/>
<rect x="380.58" y="307.20" width="17.64" height="3.03" fill="#136b20"/>
<rect x="380.58" y="310.20" width="17.64" height="2.03" fill="#157423"/>
<rect x="380.58" y="312.20" width="17.64" height="1.03" fill="#136d20"/>
<rect x="380.58" y="313.20" width="17.64" height="2.03" fill="#136a1f"/>
<rect x="380.58" y="315.20" width="17.64" height="1.03" fill="#147122"/>
<rect x="380.58" y="316.20" width="17.64" height="1.03" fill="#157323"/>
<rect x="380.58" y="317.20" width="17.64" height="1.03" fill="#146d21"/>
<rect x="380.58" y="318.20" width="17.64" height="2.03" fill="#146e21"/>
<rect x="380.58" y="320.20" width="17.64" height="1.03" fill="#12671e"/>
<rect x="380.58" y="321.20" width="17.64" height="2.03" fill="#187e27"/>
<rect x="380.58" y="323.20" width="17.64" height="1.53" fill="#177a25"/>
<rect x="380.58" y="324.70" width="17.64" height="2.03" fill="#157423"/>
<rect x="380.58" y="326.70" width="17.64" height="1.53" fill="#13691f"/>
<rect x="380.58" y="328.20" width="17.64" height="3.03" fill="#187c26"/>
<rect x="380.58" y="331.20" width="17.64" height="2.03" fill="#11601c"/>
<rect x="380.58" y="333.20" width="17.64" height="1.53" fill="#115e1b"/>
<rect x="380.58" y="334.70" width="17.64" height="1.03" fill="#167624"/>
<rect x="380.58" y="335.70" width="17.64" height="1.53" fill="#11611d"/>
<rect x="380.58" y="337.20" width="17.64" height="1.53" fill="#1b8429"/>
<rect x="380.58" y="338.70" width="17.64" height="2.03" fill="#146f21"/>
<rect x="380.58" y="340.70" width="17.64" height="1.53" fill="#198027"/>
<rect x="380.58" y="342.20" width="17.64" height="3.03" fill="#11621d"/>
<rect x="380.58" y="345.20" width="17.64" height="2.03" fill="#12651e"/>
<rect x="380.58" y="347.20" width="17.64" height="2.03" fill="#13691f"/>
<rect x="380.58" y="349.20" width="17.64" height="1.03" fill="#157523"/>
<rect x="380.58" y="350.20" width="17.64" height="1.53" fill="#177b25"/>
<rect x="380.58" y="351.70" width="17.64" height="1.03" fill="#136a1f"/>
<rect x="380.58" y="352.70" width="17.64" height="1.03" fill="#157423"/>
<rect x="380.58" y="353.70" width="17.64" height="1.93" fill="#12671e"/>
<rect x="398.18" y="174.20" width="17.64" height="3.03" fill="#561116"/>
<rect x="398.18" y="177.20" width="17.64" height="1.53" fill="#71141a"/>
<rect x="398.18" y="178.70" width="17.64" height="3.03" fill="#73151a"/>
<rect x="398.18" y="181.70" width="17.64" height="1.03" fill="#4c1014"/>
<rect x="398.18" y="182.70" width="17.64" height="1.03" fill="#5a1216"/>
<rect x="398.18" y="183.70" width="17.64" height="2.03" fill="#621317"/>
<rect x="398.18" y="185.70" width="17.64" height="1.53" fill="#631318"/>
<rect x="398.18" y="187.20" width="17.64" height="2.03" fill="#541115"/>
<rect x="398.18" y="189.20" width="17.64" height="2.03" fill="#6c1419"/>
<rect x="398.18" y="191.20" width="17.64" height="2.03" fill="#5c1216"/>
<rect x="398.18" y="193.20" width="17.64" height="1.53" fill="#6a1419"/>
<rect x="398.18" y="194.70" width="17.64" height="1.03" fill="#521115"/>
<rect x="398.18" y="195.70" width="17.64" height="2.53" fill="#5b1216"/>
<rect x="398.18" y="198.20" width="17.64" height="1.03" fill="#75151a"/>
<rect x="398.18" y="199.20" width="17.64" height="1.53" fill="#541115"/>
<rect x="398.18" y="200.70" width="17.64" height="2.03" fill="#6b1419"/>
<rect x="398.18" y="202.70" width="17.64" height="1.03" fill="#7f161c"/>
<rect x="398.18" y="203.70" width="17.64" height="1.03" fill="#76151b"/>
<rect x="398.18" y="204.70" width="17.64" height="2.03" fill="#591216"/>
<rect x="398.18" y="206.70" width="17.64" height="2.03" fill="#8a171e"/>
<rect x="398.18" y="208.70" width="17.64" height="1.03" fill="#641318"/>
<rect x="398.18" y="209.70" width="17.64" height="1.03" fill="#78151b"/>
<rect x="398.18" y="210.70" width="17.64" height="1.03" fill="#78151b"/>
<rect x="398.18" y="211.70" width="17.64" height="2.53" fill="#671318"/>
<rect x="398.18" y="214.20" width="17.64" height="2.03" fill="#74151a"/>
<rect x="398.18" y="216.20" width="17.64" height="2.03" fill="#450f13"/>
<rect x="398.18" y="218.20" width="17.64" height="1.03" fill="#6d1419"/>
<rect x="398.18" y="219.20" width="17.64" height="2.03" fill="#6e1419"/>
<rect x="398.18" y="221.20" width="17.64" height="2.53" fill="#671318"/>
<rect x="398.18" y="223.70" width="17.64" height="2.53" fill="#6d1419"/>
<rect x="398.18" y="226.20" width="17.64" height="2.03" fill="#7a151b"/>
<rect x="398.18" y="228.20" width="17.64" height="1.53" fill="#78151b"/>
<rect x="398.18" y="229.70" width="17.64" height="3.03" fill="#631318"/>
<rect x="398.18" y="232.70" width="17.64" height="1.03" fill="#76151b"/>
<rect x="398.18" y="233.70" width="17.64" height="1.03" fill="#7b161b"/>
<rect x="398.18" y="234.70" width="17.64" height="3.03" fill="#6d1419"/>
<rect x="398.18" y="237.70" width="17.64" height="1.03" fill="#71141a"/>
<rect x="398.18" y="238.70" width="17.64" height="2.03" fill="#491014"/>
<rect x="398.18" y="240.70" width="17.64" height="1.53" fill="#561115"/>
<rect x="398.18" y="242.20" width="17.64" height="2.53" fill="#70141a"/>
<rect x="398.18" y="244.70" width="17.64" height="1.03" fill="#571116"/>
<rect x="398.18" y="245.70" width="17.64" height="2.03" fill="#77151b"/>
<rect x="398.18" y="247.70" width="17.64" height="1.03" fill="#7b161b"/>
<rect x="398.18" y="248.70" width="17.64" height="2.53" fill="#5e1217"/>
<rect x="398.18" y="251.20" width="17.64" height="1.53" fill="#5b1216"/>
<rect x="398.18" y="252.70" width="17.64" height="2.03" fill="#691318"/>
<rect x="398.18" y="254.70" width="17.64" height="3.03" fill="#6e1419"/>
<rect x="398.18" y="257.70" width="17.64" height="3.03" fill="#76151b"/>
<rect x="398.18" y="260.70" width="17.64" height="1.53" fill="#681318"/>
<rect x="398.18" y="262.20" width="17.64" height="2.03" fill="#6c1419"/>
<rect x="398.18" y="264.20" width="17.64" height="1.53" fill="#5d1217"/>
<rect x="398.18" y="265.70" width="17.64" height="2.53" fill="#6f1419"/>
<rect x="398.18" y="268.20" width="17.64" height="1.53" fill="#611217"/>
<rect x="398.18" y="269.70" width="17.64" height="2.03" fill="#79151b"/>
<rect x="398.18" y="271.70" width="17.64" height="1.03" fill="#75151a"/>
<rect x="398.18" y="272.70" width="17.64" height="3.03" fill="#551115"/>
<rect x="398.18" y="275.70" width="17.64" height="2.03" fill="#320d10"/>
<rect x="398.18" y="277.70" width="17.64" height="1.03" fill="#210b0e"/>
<rect x="398.18" y="278.70" width="17.64" height="2.53" fill="#2c0c0f"/>
<rect x="398.18" y="281.20" width="17.64" height="2.03" fill="#157222"/>
<rect x="398.18" y="283.20" width="17.64" height="2.03" fill="#10591a"/>
<rect x="398.18" y="285.20" width="17.64" height="3.03" fill="#105b1b"/>
<rect x="398.18" y="288.20" width="17.64" height="2.03" fill="#0f5118"/>
<rect x="398.18" y="290.20" width="17.64" height="2.53" fill="#12631d"/>
<rect x="398.18" y="292.70" width="17.64" height="2.53" fill="#12661e"/>
<rect x="398.18" y="295.20" width="17.64" height="1.03" fill="#10591a"/>
<rect x="398.18" y="296.20" width="17.64" height="1.03" fill="#157423"/>
<rect x="398.18" y="297.20" width="17.64" height="3.03" fill="#12671f"/>
<rect x="398.18" y="300.20" width="17.64" height="1.03" fill="#136a20"/>
<rect x="398.18" y="301.20" width="17.64" height="2.03" fill="#12681f"/>
<rect x="398.18" y="303.20" width="17.64" height="1.53" fill="#167724"/>
<rect x="398.18" y="304.70" width="17.64" height="2.53" fill="#167825"/>
<rect x="398.18" y="307.20" width="17.64" height="3.03" fill="#177925"/>
<rect x="398.18" y="310.20" width="17.64" height="2.03" fill="#105619"/>
<rect x="398.18" y="312.20" width="17.64" height="1.03" fill="#136b20"/>
<rect x="398.18" y="313.20" width="17.64" height="2.03" fill="#11601c"/>
<rect x="398.18" y="315.20" width="17.64" height="1.03" fill="#12681f"/>
<rect x="398.18" y="316.20" width="17.64" height="1.03" fill="#136a1f"/>
<rect x="398.18" y="317.20" width="17.64" height="1.03" fill="#10581a"/>
<rect x="398.18" y="318.20" width="17.64" height="2.03" fill="#197f27"/>
<rect x="398.18" y="320.20" width="17.64" height="1.03" fill="#13691f"/>
<rect x="398.18" y="321.20" width="17.64" height="2.03" fill="#146f21"/>
<rect x="398.18" y="323.20" width="17.64" height="1.53" fill="#147122"/>
<rect x="398.18" y="324.70" width="17.64" height="2.03" fill="#167824"/>
<rect x="398.18" y="326.70" width="17.64" height="1.53" fill="#167724"/>
<rect x="398.18" y="328.20" width="17.64" height="3.03" fill="#157423"/>
<rect x="398.18" y="331.20" width="17.64" height="2.03" fill="#105b1b"/>
<rect x="398.18" y="333.20" width="17.64" height="1.53" fill="#146e21"/>
<rect x="398.18" y="334.70" width="17.64" height="1.03" fill="#136c20"/>
<rect x="398.18" y="335.70" width="17.64" height="1.53" fill="#13691f"/>
<rect x="398.18" y="337.20" width="17.64" height="1.53" fill="#11601c"/>
<rect x="398.18" y="338.70" width="17.64" height="2.03" fill="#105c1b"/>
<rect x="398.18" y="340.70" width="17.64" height="1.53" fill="#12651e"/>
<rect x="398.18" y="342.20" width="17.64" height="3.03" fill="#12671e"/>
<rect x="398.18" y="345.20" width="17.64" height="2.03" fill="#11611d"/>
<rect x="398.18" y="347.20" width="17.64" height="2.03" fill="#146f21"/>
<rect x="398.18" y="349.20" width="17.64" height="1.03" fill="#12651e"/>
<rect x="398.18" y="350.20" width="17.64" height="1.53" fill="#0f5419"/>
<rect x="398.18" y="351.70" width="17.64" height="1.03" fill="#146e21"/>
<rect x="398.18" y="352.70" width="17.64" height="1.03" fill="#147022"/>
<rect x="398.18" y="353.70" width="17.64" height="1.93" fill="#167724"/>
<rect x="415.78" y="174.20" width="17.64" height="3.03" fill="#229430"/>
<rect x="415.78" y="177.20" width="17.64" height="1.53" fill="#1e8d2d"/>
<rect x="415.78" y="178.70" width="17.64" height="3.03" fill="#269a33"/>
<rect x="415.78" y="181.70" width="17.64" height="1.03" fill="#259932"/>
<rect x="415.78" y="182.70" width="17.64" height="1.03" fill="#1b852a"/>
<rect x="415.78" y="183.70" width="17.64" height="2.03" fill="#229430"/>
<rect x="415.78" y="185.70" width="17.64" height="1.53" fill="#1e8c2c"/>
<rect x="415.78" y="187.20" width="17.64" height="2.03" fill="#259932"/>
<rect x="415.78" y="189.20" width="17.64" height="2.03" fill="#11621d"/>
<rect x="415.78" y="191.20" width="17.64" height="2.03" fill="#12661e"/>
<rect x="415.78" y="193.20" width="17.64" height="1.53" fill="#157222"/>
<rect x="415.78" y="194.70" width="17.64" height="1.03" fill="#167724"/>
<rect x="415.78" y="195.70" width="17.64" height="2.53" fill="#167624"/>
<rect x="415.78" y="198.20" width="17.64" height="1.03" fill="#3ab33f"/>
<rect x="415.78" y="199.20" width="17.64" height="1.53" fill="#38b23f"/>
<rect x="415.78" y="200.70" width="17.64" height="2.03" fill="#4ec649"/>
<rect x="415.78" y="202.70" width="17.64" height="1.03" fill="#279c34"/>
<rect x="415.78" y="203.70" width="17.64" height="1.03" fill="#2da538"/>
<rect x="415.78" y="204.70" width="17.64" height="2.03" fill="#2fa739"/>
<rect x="415.78" y="206.70" width="17.64" height="2.03" fill="#40ba43"/>
<rect x="415.78" y="208.70" width="17.64" height="1.03" fill="#2ea538"/>
<rect x="415.78" y="209.70" width="17.64" height="1.03" fill="#37b03e"/>
<rect x="415.78" y="210.70" width="17.64" height="1.03" fill="#3bb540"/>
<rect x="415.78" y="211.70" width="17.64" height="2.53" fill="#31a93a"/>
<rect x="415.78" y="214.20" width="17.64" height="2.03" fill="#2ba236"/>
<rect x="415.78" y="216.20" width="17.64" height="2.03" fill="#30a839"/>
<rect x="415.78" y="218.20" width="17.64" height="1.03" fill="#34ad3c"/>
<rect x="415.78" y="219.20" width="17.64" height="2.03" fill="#279c34"/>
<rect x="415.78" y="221.20" width="17.64" height="2.53" fill="#2ca337"/>
<rect x="415.78" y="223.70" width="17.64" height="2.53" fill="#32ab3b"/>
<rect x="415.78" y="226.20" width="17.64" height="2.03" fill="#299f35"/>
<rect x="415.78" y="228.20" width="17.64" height="1.53" fill="#2ba237"/>
<rect x="415.78" y="229.70" width="17.64" height="3.03" fill="#269a33"/>
<rect x="415.78" y="232.70" width="17.64" height="1.03" fill="#269b33"/>
<rect x="415.78" y="233.70" width="17.64" height="1.03" fill="#279d34"/>
<rect x="415.78" y="234.70" width="17.64" height="3.03" fill="#35af3d"/>
<rect x="415.78" y="237.70" width="17.64" height="1.03" fill="#229430"/>
<rect x="415.78" y="238.70" width="17.64" height="2.03" fill="#259932"/>
<rect x="415.78" y="240.70" width="17.64" height="1.53" fill="#35ae3d"/>
<rect x="415.78" y="242.20" width="17.64" height="2.53" fill="#239631"/>
<rect x="415.78" y="244.70" width="17.64" height="1.03" fill="#2ea638"/>
<rect x="415.78" y="245.70" width="17.64" height="2.03" fill="#3bb540"/>
<rect x="415.78" y="247.70" width="17.64" height="1.03" fill="#30a839"/>
<rect x="415.78" y="248.70" width="17.64" height="2.53" fill="#3fb842"/>
<rect x="415.78" y="251.20" width="17.64" height="1.53" fill="#249832"/>
<rect x="415.78" y="252.70" width="17.64" height="2.03" fill="#3fb842"/>
<rect x="415.78" y="254.70" width="17.64" height="3.03" fill="#229330"/>
<rect x="415.78" y="257.70" width="17.64" height="3.03" fill="#3ab33f"/>
<rect x="415.78" y="260.70" width="17.64" height="1.53" fill="#31aa3a"/>
<rect x="415.78" y="262.20" width="17.64" height="2.03" fill="#239631"/>
<rect x="415.78" y="264.20" width="17.64" height="1.53" fill="#2ca337"/>
<rect x="415.78" y="265.70" width="17.64" height="2.53" fill="#45be45"/>
<rect x="415.78" y="268.20" width="17.64" height="1.53" fill="#31aa3a"/>
<rect x="415.78" y="269.70" width="17.64" height="2.03" fill="#47c046"/>
<rect x="415.78" y="271.70" width="17.64" height="1.03" fill="#299f35"/>
<rect x="415.78" y="272.70" width="17.64" height="3.03" fill="#3cb641"/>
<rect x="415.78" y="275.70" width="17.64" height="2.03" fill="#31aa3a"/>
<rect x="415.78" y="277.70" width="17.64" height="1.03" fill="#32aa3b"/>
<rect x="415.78" y="278.70" width="17.64" height="2.53" fill="#43bd44"/>
<rect x="415.78" y="281.20" width="17.64" height="2.03" fill="#2da438"/>
<rect x="415.78" y="283.20" width="17.64" height="2.03" fill="#0e3e13"/>
<rect x="415.78" y="285.20" width="17.64" height="3.03" fill="#4b1014"/>
<rect x="415.78" y="288.20" width="17.64" height="2.03" fill="#b41d24"/>
<rect x="415.78" y="290.20" width="17.64" height="2.53" fill="#c71f28"/>
<rect x="415.78" y="292.70" width="17.64" height="2.53" fill="#d9212a"/>
<rect x="415.78" y="295.20" width="17.64" height="1.03" fill="#ae1c23"/>
<rect x="415.78" y="296.20" width="17.64" height="1.03" fill="#c41f27"/>
<rect x="415.78" y="297.20" width="17.64" height="3.03" fill="#c71f28"/>
<rect x="415.78" y="300.20" width="17.64" height="1.03" fill="#d5212a"/>
<rect x="415.78" y="301.20" width="17.64" height="2.03" fill="#af1c24"/>
<rect x="415.78" y="303.20" width="17.64" height="1.53" fill="#ec242e"/>
<rect x="415.78" y="304.70" width="17.64" height="2.53" fill="#ea232d"/>
<rect x="415.78" y="307.20" width="17.64" height="3.03" fill="#a41b22"/>
<rect x="415.78" y="310.20" width="17.64" height="2.03" fill="#b01c24"/>
<rect x="415.78" y="312.20" width="17.64" height="1.03" fill="#c71f28"/>
<rect x="415.78" y="313.20" width="17.64" height="2.03" fill="#b31c24"/>
<rect x="415.78" y="315.20" width="17.64" height="1.03" fill="#b51d25"/>
<rect x="415.78" y="316.20" width="17.64" height="1.03" fill="#c01e26"/>
<rect x="415.78" y="317.20" width="17.64" height="1.03" fill="#b11c24"/>
<rect x="415.78" y="318.20" width="17.64" height="2.03" fill="#b31d24"/>
<rect x="415.78" y="320.20" width="17.64" height="1.03" fill="#c41f27"/>
<rect x="415.78" y="321.20" width="17.64" height="2.03" fill="#b81d25"/>
<rect x="415.78" y="323.20" width="17.64" height="1.53" fill="#c81f28"/>
<rect x="415.78" y="324.70" width="17.64" height="2.03" fill="#d6212a"/>
<rect x="415.78" y="326.70" width="17.64" height="1.53" fill="#d7212a"/>
<rect x="415.78" y="328.20" width="17.64" height="3.03" fill="#c21e27"/>
<rect x="415.78" y="331.20" width="17.64" height="2.03" fill="#ea232d"/>
<rect x="415.78" y="333.20" width="17.64" height="1.53" fill="#b81d25"/>
<rect x="415.78" y="334.70" width="17.64" height="1.03" fill="#d22029"/>
<rect x="415.78" y="335.70" width="17.64" height="1.53" fill="#e5232c"/>
<rect x="415.78" y="337.20" width="17.64" height="1.53" fill="#c41f27"/>
<rect x="415.78" y="338.70" width="17.64" height="2.03" fill="#d12029"/>
<rect x="415.78" y="340.70" width="17.64" height="1.53" fill="#b71d25"/>
<rect x="415.78" y="342.20" width="17.64" height="3.03" fill="#92181f"/>
<rect x="415.78" y="345.20" width="17.64" height="2.03" fill="#79151b"/>
<rect x="415.78" y="347.20" width="17.64" height="2.03" fill="#7d161c"/>
<rect x="415.78" y="349.20" width="17.64" height="1.03" fill="#7c161b"/>
<rect x="415.78" y="350.20" width="17.64" height="1.53" fill="#80161c"/>
<rect x="415.78" y="351.70" width="17.64" height="1.03" fill="#7b161b"/>
<rect x="415.78" y="352.70" width="17.64" height="1.03" fill="#75151a"/>
<rect x="415.78" y="353.70" width="17.64" height="1.93" fill="#6e1419"/>
<rect x="433.38" y="174.20" width="17.64" height="3.03" fill="#259a33"/>
<rect x="433.38" y="177.20" width="17.64" height="1.53" fill="#249732"/>
<rect x="433.38" y="178.70" width="17.64" height="3.03" fill="#259832"/>
<rect x="433.38" y="181.70" width="17.64" height="1.03" fill="#2ea638"/>
<rect x="433.38" y="182.70" width="17.64" height="1.03" fill="#1c872b"/>
<rect x="433.38" y="183.70" width="17.64" height="2.03" fill="#1d8a2c"/>
<rect x="433.38" y="185.70" width="17.64" height="1.53" fill="#239531"/>
<rect x="433.38" y="187.20" width="17.64" height="2.03" fill="#289e35"/>
<rect x="433.38" y="189.20" width="17.64" height="2.03" fill="#136d20"/>
<rect x="433.38" y="191.20" width="17.64" height="2.03" fill="#187c26"/>
<rect x="433.38" y="193.20" width="17.64" height="1.53" fill="#187c26"/>
<rect x="433.38" y="194.70" width="17.64" height="1.03" fill="#157323"/>
<rect x="433.38" y="195.70" width="17.64" height="2.53" fill="#2da438"/>
<rect x="433.38" y="198.20" width="17.64" height="1.03" fill="#2fa739"/>
<rect x="433.38" y="199.20" width="17.64" height="1.53" fill="#36b03d"/>
<rect x="433.38" y="200.70" width="17.64" height="2.03" fill="#2ba236"/>
<rect x="433.38" y="202.70" width="17.64" height="1.03" fill="#2da538"/>
<rect x="433.38" y="203.70" width="17.64" height="1.03" fill="#2ba136"/>
<rect x="433.38" y="204.70" width="17.64" height="2.03" fill="#2ea638"/>
<rect x="433.38" y="206.70" width="17.64" height="2.03" fill="#3fb842"/>
<rect x="433.38" y="208.70" width="17.64" height="1.03" fill="#44bd44"/>
<rect x="433.38" y="209.70" width="17.64" height="1.03" fill="#3db741"/>
<rect x="433.38" y="210.70" width="17.64" height="1.03" fill="#5dd14f"/>
<rect x="433.38" y="211.70" width="17.64" height="2.53" fill="#62d451"/>
<rect x="433.38" y="214.20" width="17.64" height="2.03" fill="#49c247"/>
<rect x="433.38" y="216.20" width="17.64" height="2.03" fill="#47c046"/>
<rect x="433.38" y="218.20" width="17.64" height="1.03" fill="#4fc64a"/>
<rect x="433.38" y="219.20" width="17.64" height="2.03" fill="#33ac3b"/>
<rect x="433.38" y="221.20" width="17.64" height="2.53" fill="#42bc44"/>
<rect x="433.38" y="223.70" width="17.64" height="2.53" fill="#36b03d"/>
<rect x="433.38" y="226.20" width="17.64" height="2.03" fill="#48c147"/>
<rect x="433.38" y="228.20" width="17.64" height="1.53" fill="#66d653"/>
<rect x="433.38" y="229.70" width="17.64" height="3.03" fill="#66d653"/>
<rect x="433.38" y="232.70" width="17.64" height="1.03" fill="#39b23f"/>
<rect x="433.38" y="233.70" width="17.64" height="1.03" fill="#49c247"/>
<rect x="433.38" y="234.70" width="17.64" height="3.03" fill="#39b23f"/>
<rect x="433.38" y="237.70" width="17.64" height="1.03" fill="#269a33"/>
<rect x="433.38" y="238.70" width="17.64" height="2.03" fill="#229430"/>
<rect x="433.38" y="240.70" width="17.64" height="1.53" fill="#2ea639"/>
<rect x="433.38" y="242.20" width="17.64" height="2.53" fill="#269a33"/>
<rect x="433.38" y="244.70" width="17.64" height="1.03" fill="#37b03e"/>
<rect x="433.38" y="245.70" width="17.64" height="2.03" fill="#3fb842"/>
<rect x="433.38" y="247.70" width="17.64" height="1.03" fill="#49c247"/>
<rect x="433.38" y="248.70" width="17.64" height="2.53" fill="#279d34"/>
<rect x="433.38" y="251.20" width="17.64" height="1.53" fill="#47c046"/>
<rect x="433.38" y="252.70" width="17.64" height="2.03" fill="#38b13e"/>
<rect x="433.38" y="254.70" width="17.64" height="3.03" fill="#32ab3b"/>
<rect x="433.38" y="257.70" width="17.64" height="3.03" fill="#2ca437"/>
<rect x="433.38" y="260.70" width="17.64" height="1.53" fill="#4cc448"/>
<rect x="433.38" y="262.20" width="17.64" height="2.03" fill="#36af3d"/>
<rect x="433.38" y="264.20" width="17.64" height="1.53" fill="#3db741"/>
<rect x="433.38" y="265.70" width="17.64" height="2.53" fill="#249732"/>
<rect x="433.38" y="268.20" width="17.64" height="1.53" fill="#35ae3d"/>
<rect x="433.38" y="269.70" width="17.64" height="2.03" fill="#3bb540"/>
<rect x="433.38" y="271.70" width="17.64" height="1.03" fill="#229430"/>
<rect x="433.38" y="272.70" width="17.64" height="3.03" fill="#31aa3a"/>
<rect x="433.38" y="275.70" width="17.64" height="2.03" fill="#2aa136"/>
<rect x="433.38" y="277.70" width="17.64" height="1.03" fill="#2fa739"/>
<rect x="433.38" y="278.70" width="17.64" height="2.53" fill="#35ae3c"/>
<rect x="433.38" y="281.20" width="17.64" height="2.03" fill="#2ba236"/>
<rect x="433.38" y="283.20" width="17.64" height="2.03" fill="#10581a"/>
<rect x="433.38" y="285.20" width="17.64" height="3.03" fill="#491014"/>
<rect x="433.38" y="288.20" width="17.64" height="2.03" fill="#b91d25"/>
<rect x="433.38" y="290.20" width="17.64" height="2.53" fill="#d3202a"/>
<rect x="433.38" y="292.70" width="17.64" height="2.53" fill="#bf1e26"/>
<rect x="433.38" y="295.20" width="17.64" height="1.03" fill="#dc222b"/>
<rect x="433.38" y="296.20" width="17.64" height="1.03" fill="#d5212a"/>
<rect x="433.38" y="297.20" width="17.64" height="3.03" fill="#cb1f28"/>
<rect x="433.38" y="300.20" width="17.64" height="1.03" fill="#dd222b"/>
<rect x="433.38" y="301.20" width="17.64" height="2.03" fill="#ce2029"/>
<rect x="433.38" y="303.20" width="17.64" height="1.53" fill="#cd2029"/>
<rect x="433.38" y="304.70" width="17.64" height="2.53" fill="#c11e27"/>
<rect x="433.38" y="307.20" width="17.64" height="3.03" fill="#c41f27"/>
<rect x="433.38" y="310.20" width="17.64" height="2.03" fill="#c51f27"/>
<rect x="433.38" y="312.20" width="17.64" height="1.03" fill="#dc222b"/>
<rect x="433.38" y="313.20" width="17.64" height="2.03" fill="#e7232d"/>
<rect x="433.38" y="315.20" width="17.64" height="1.03" fill="#dd222b"/>
<rect x="433.38" y="316.20" width="17.64" height="1.03" fill="#cb1f28"/>
<rect x="433.38" y="317.20" width="17.64" height="1.03" fill="#c41f27"/>
<rect x="433.38" y="318.20" width="17.64" height="2.03" fill="#cc2028"/>
<rect x="433.38" y="320.20" width="17.64" height="1.03" fill="#bb1d26"/>
<rect x="433.38" y="321.20" width="17.64" height="2.03" fill="#c61f27"/>
<rect x="433.38" y="323.20" width="17.64" height="1.53" fill="#c01e26"/>
<rect x="433.38" y="324.70" width="17.64" height="2.03" fill="#c61f27"/>
<rect x="433.38" y="326.70" width="17.64" height="1.53" fill="#961920"/>
<rect x="433.38" y="328.20" width="17.64" height="3.03" fill="#c61f27"/>
<rect x="433.38" y="331.20" width="17.64" height="2.03" fill="#d4212a"/>
<rect x="433.38" y="333.20" width="17.64" height="1.53" fill="#b01c24"/>
<rect x="433.38" y="334.70" width="17.64" height="1.03" fill="#ea232d"/>
<rect x="433.38" y="335.70" width="17.64" height="1.53" fill="#c91f28"/>
<rect x="433.38" y="337.20" width="17.64" height="1.53" fill="#bb1d26"/>
<rect x="433.38" y="338.70" width="17.64" height="2.03" fill="#e3222c"/>
<rect x="433.38" y="340.70" width="17.64" height="1.53" fill="#b31c24"/>
<rect x="433.38" y="342.20" width="17.64" height="3.03" fill="#d12029"/>
<rect x="433.38" y="345.20" width="17.64" height="2.03" fill="#72151a"/>
<rect x="433.38" y="347.20" width="17.64" height="2.03" fill="#8a171e"/>
<rect x="433.38" y="349.20" width="17.64" height="1.03" fill="#91181f"/>
<rect x="433.38" y="350.20" width="17.64" height="1.53" fill="#87171d"/>
<rect x="433.38" y="351.70" width="17.64" height="1.03" fill="#7e161c"/>
<rect x="433.38" y="352.70" width="17.64" height="1.03" fill="#72151a"/>
<rect x="433.38" y="353.70" width="17.64" height="1.93" fill="#7a161b"/>
<rect x="450.98" y="174.20" width="17.64" height="3.03" fill="#10591a"/>
<rect x="450.98" y="177.20" width="17.64" height="1.53" fill="#0f5118"/>
<rect x="450.98" y="178.70" width="17.64" height="3.03" fill="#147122"/>
<rect x="450.98" y="181.70" width="17.64" height="1.03" fill="#105519"/>
<rect x="450.98" y="182.70" width="17.64" height="1.03" fill="#12671e"/>
<rect x="450.98" y="183.70" width="17.64" height="2.03" fill="#11621d"/>
<rect x="450.98" y="185.70" width="17.64" height="1.53" fill="#105d1b"/>
<rect x="450.98" y="187.20" width="17.64" height="2.03" fill="#11621d"/>
<rect x="450.98" y="189.20" width="17.64" height="2.03" fill="#105519"/>
<rect x="450.98" y="191.20" width="17.64" height="2.03" fill="#136b20"/>
<rect x="450.98" y="193.20" width="17.64" height="1.53" fill="#105719"/>
<rect x="450.98" y="194.70" width="17.64" height="1.03" fill="#12661e"/>
<rect x="450.98" y="195.70" width="17.64" height="2.53" fill="#115f1c"/>
<rect x="450.98" y="198.20" width="17.64" height="1.03" fill="#105c1b"/>
<rect x="450.98" y="199.20" width="17.64" height="1.53" fill="#13691f"/>
<rect x="450.98" y="200.70" width="17.64" height="2.03" fill="#10571a"/>
<rect x="450.98" y="202.70" width="17.64" height="1.03" fill="#0e4415"/>
<rect x="450.98" y="203.70" width="17.64" height="1.03" fill="#11621d"/>
<rect x="450.98" y="204.70" width="17.64" height="2.03" fill="#0e3b13"/>
<rect x="450.98" y="206.70" width="17.64" height="2.03" fill="#160a0c"/>
<rect x="450.98" y="208.70" width="17.64" height="1.03" fill="#170a0c"/>
<rect x="450.98" y="209.70" width="17.64" height="1.03" fill="#0e3311"/>
<rect x="450.98" y="210.70" width="17.64" height="1.03" fill="#0e230f"/>
<rect x="450.98" y="211.70" width="17.64" height="2.53" fill="#0e280f"/>
<rect x="450.98" y="214.20" width="17.64" height="2.03" fill="#0e1d0e"/>
<rect x="450.98" y="216.20" width="17.64" height="2.03" fill="#0e200e"/>
<rect x="450.98" y="218.20" width="17.64" height="1.03" fill="#0e2a10"/>
<rect x="450.98" y="219.20" width="17.64" height="2.03" fill="#0e240f"/>
<rect x="450.98" y="221.20" width="17.64" height="2.53" fill="#130a0c"/>
<rect x="450.98" y="223.70" width="17.64" height="2.53" fill="#0e2910"/>
<rect x="450.98" y="226.20" width="17.64" height="2.03" fill="#0e1c0e"/>
<rect x="450.98" y="228.20" width="17.64" height="1.53" fill="#0e160e"/>
<rect x="450.98" y="229.70" width="17.64" height="3.03" fill="#170a0c"/>
<rect x="450.98" y="232.70" width="17.64" height="1.03" fill="#0e1a0e"/>
<rect x="450.98" y="233.70" width="17.64" height="1.03" fill="#0e1c0e"/>
<rect x="450.98" y="234.70" width="17.64" height="3.03" fill="#0e2910"/>
<rect x="450.98" y="237.70" width="17.64" height="1.03" fill="#0e1c0e"/>
<rect x="450.98" y="238.70" width="17.64" height="2.03" fill="#150a0c"/>
<rect x="450.98" y="240.70" width="17.64" height="1.53" fill="#0e190e"/>
<rect x="450.98" y="242.20" width="17.64" height="2.53" fill="#140a0c"/>
<rect x="450.98" y="244.70" width="17.64" height="1.03" fill="#0e240f"/>
<rect x="450.98" y="245.70" width="17.64" height="2.03" fill="#0e130e"/>
<rect x="450.98" y="247.70" width="17.64" height="1.03" fill="#0e220f"/>
<rect x="450.98" y="248.70" width="17.64" height="2.53" fill="#0e270f"/>
<rect x="450.98" y="251.20" width="17.64" height="1.53" fill="#0e260f"/>
<rect x="450.98" y="252.70" width="17.64" height="2.03" fill="#140a0c"/>
<rect x="450.98" y="254.70" width="17.64" height="3.03" fill="#0e170e"/>
<rect x="450.98" y="257.70" width="17.64" height="3.03" fill="#0e210f"/>
<rect x="450.98" y="260.70" width="17.64" height="1.53" fill="#0e220f"/>
<rect x="450.98" y="262.20" width="17.64" height="2.03" fill="#0e130e"/>
<rect x="450.98" y="264.20" width="17.64" height="1.53" fill="#0e3e13"/>
<rect x="450.98" y="265.70" width="17.64" height="2.53" fill="#0f5017"/>
<rect x="450.98" y="268.20" width="17.64" height="1.53" fill="#10581a"/>
<rect x="450.98" y="269.70" width="17.64" height="2.03" fill="#11611d"/>
<rect x="450.98" y="271.70" width="17.64" height="1.03" fill="#115d1b"/>
<rect x="450.98" y="272.70" width="17.64" height="3.03" fill="#12661e"/>
<rect x="450.98" y="275.70" width="17.64" height="2.03" fill="#12661e"/>
<rect x="450.98" y="277.70" width="17.64" height="1.03" fill="#b71d25"/>
<rect x="450.98" y="278.70" width="17.64" height="2.53" fill="#b71d25"/>
<rect x="450.98" y="281.20" width="17.64" height="2.03" fill="#ba1d25"/>
<rect x="450.98" y="283.20" width="17.64" height="2.03" fill="#b21c24"/>
<rect x="450.98" y="285.20" width="17.64" height="3.03" fill="#75151a"/>
<rect x="450.98" y="288.20" width="17.64" height="2.03" fill="#3e0e12"/>
<rect x="450.98" y="290.20" width="17.64" height="2.53" fill="#2f0d10"/>
<rect x="450.98" y="292.70" width="17.64" height="2.53" fill="#240b0e"/>
<rect x="450.98" y="295.20" width="17.64" height="1.03" fill="#4c1014"/>
<rect x="450.98" y="296.20" width="17.64" height="1.03" fill="#3e0e12"/>
<rect x="450.98" y="297.20" width="17.64" height="3.03" fill="#3f0e12"/>
<rect x="450.98" y="300.20" width="17.64" height="1.03" fill="#491013"/>
<rect x="450.98" y="301.20" width="17.64" height="2.03" fill="#491014"/>
<rect x="450.98" y="303.20" width="17.64" height="1.53" fill="#4c1014"/>
<rect x="450.98" y="304.70" width="17.64" height="2.53" fill="#481013"/>
<rect x="450.98" y="307.20" width="17.64" height="3.03" fill="#470f13"/>
<rect x="450.98" y="310.20" width="17.64" height="2.03" fill="#440f13"/>
<rect x="450.98" y="312.20" width="17.64" height="1.03" fill="#3f0e12"/>
<rect x="450.98" y="313.20" width="17.64" height="2.03" fill="#3f0f12"/>
<rect x="450.98" y="315.20" width="17.64" height="1.03" fill="#1d0b0d"/>
<rect x="450.98" y="316.20" width="17.64" height="1.03" fill="#511115"/>
<rect x="450.98" y="317.20" width="17.64" height="1.03" fill="#400f12"/>
<rect x="450.98" y="318.20" width="17.64" height="2.03" fill="#370e11"/>
<rect x="450.98" y="320.20" width="17.64" height="1.03" fill="#4d1014"/>
<rect x="450.98" y="321.20" width="17.64" height="2.03" fill="#3b0e11"/>
<rect x="450.98" y="323.20" width="17.64" height="1.53" fill="#460f13"/>
<rect x="450.98" y="324.70" width="17.64" height="2.03" fill="#3a0e11"/>
<rect x="450.98" y="326.70" width="17.64" height="1.53" fill="#370e11"/>
<rect x="450.98" y="328.20" width="17.64" height="3.03" fill="#4e1014"/>
<rect x="450.98" y="331.20" width="17.64" height="2.03" fill="#450f13"/>
<rect x="450.98" y="333.20" width="17.64" height="1.53" fill="#340d10"/>
<rect x="450.98" y="334.70" width="17.64" height="1.03" fill="#4b1014"/>
<rect x="450.98" y="335.70" width="17.64" height="1.53" fill="#4e1014"/>
<rect x="450.98" y="337.20" width="17.64" height="1.53" fill="#420f13"/>
<rect x="450.98" y="338.70" width="17.64" height="2.03" fill="#4d1014"/>
<rect x="450.98" y="340.70" width="17.64" height="1.53" fill="#531115"/>
<rect x="450.98" y="342.20" width="17.64" height="3.03" fill="#8b181e"/>
<rect x="450.98" y="345.20" width="17.64" height="2.03" fill="#b81d25"/>
<rect x="450.98" y="347.20" width="17.64" height="2.03" fill="#bb1d26"/>
<rect x="450.98" y="349.20" width="17.64" height="1.03" fill="#ca1f28"/>
<rect x="450.98" y="350.20" width="17.64" height="1.53" fill="#b01c24"/>
<rect x="450.98" y="351.70" width="17.64" height="1.03" fill="#a71b22"/>
<rect x="450.98" y="352.70" width="17.64" height="1.03" fill="#a71b22"/>
<rect x="450.98" y="353.70" width="17.64" height="1.93" fill="#e7232d"/>
<rect x="468.58" y="174.20" width="17.64" height="3.03" fill="#0f4e17"/>
<rect x="468.58" y="177.20" width="17.64" height="1.53" fill="#0e4415"/>
<rect x="468.58" y="178.70" width="17.64" height="3.03" fill="#105619"/>
<rect x="468.58" y="181.70" width="17.64" height="1.03" fill="#0e4515"/>
<rect x="468.58" y="182.70" width="17.64" height="1.03" fill="#0e4715"/>
<rect x="468.58" y="183.70" width="17.64" height="2.03" fill="#0f4c16"/>
<rect x="468.58" y="185.70" width="17.64" height="1.53" fill="#0f5319"/>
<rect x="468.58" y="187.20" width="17.64" height="2.03" fill="#0f4c16"/>
<rect x="468.58" y="189.20" width="17.64" height="2.03" fill="#10591a"/>
<rect x="468.58" y="191.20" width="17.64" height="2.03" fill="#12631d"/>
<rect x="468.58" y="193.20" width="17.64" height="1.53" fill="#11611c"/>
<rect x="468.58" y="194.70" width="17.64" height="1.03" fill="#105b1b"/>
<rect x="468.58" y="195.70" width="17.64" height="2.53" fill="#11631d"/>
<rect x="468.58" y="198.20" width="17.64" height="1.03" fill="#105c1b"/>
<rect x="468.58" y="199.20" width="17.64" height="1.53" fill="#105619"/>
<rect x="468.58" y="200.70" width="17.64" height="2.03" fill="#10591a"/>
<rect x="468.58" y="202.70" width="17.64" height="1.03" fill="#0e4515"/>
<rect x="468.58" y="203.70" width="17.64" height="1.03" fill="#136c20"/>
<rect x="468.58" y="204.70" width="17.64" height="2.03" fill="#0e3612"/>
<rect x="468.58" y="206.70" width="17.64" height="2.03" fill="#0e1c0e"/>
<rect x="468.58" y="208.70" width="17.64" height="1.03" fill="#0e3311"/>
<rect x="468.58" y="209.70" width="17.64" height="1.03" fill="#0e3812"/>
<rect x="468.58" y="210.70" width="17.64" height="1.03" fill="#150a0c"/>
<rect x="468.58" y="211.70" width="17.64" height="2.53" fill="#0e1d0e"/>
<rect x="468.58" y="214.20" width="17.64" height="2.03" fill="#0e220f"/>
<rect x="468.58" y="216.20" width="17.64" height="2.03" fill="#0e190e"/>
<rect x="468.58" y="218.20" width="17.64" height="1.03" fill="#0e3111"/>
<rect x="468.58" y="219.20" width="17.64" height="2.03" fill="#0e3311"/>
<rect x="468.58" y="221.20" width="17.64" height="2.53" fill="#0e110e"/>
<rect x="468.58" y="223.70" width="17.64" height="2.53" fill="#0e260f"/>
<rect x="468.58" y="226.20" width="17.64" height="2.03" fill="#0e3612"/>
<rect x="468.58" y="228.20" width="17.64" height="1.53" fill="#0e280f"/>
<rect x="468.58" y="229.70" width="17.64" height="3.03" fill="#120a0c"/>
<rect x="468.58" y="232.70" width="17.64" height="1.03" fill="#0e3111"/>
<rect x="468.58" y="233.70" width="17.64" height="1.03" fill="#0e3612"/>
<rect x="468.58" y="234.70" width="17.64" height="3.03" fill="#0e3c13"/>
<rect x="468.58" y="237.70" width="17.64" height="1.03" fill="#0e280f"/>
<rect x="468.58" y="238.70" width="17.64" height="2.03" fill="#0e270f"/>
<rect x="468.58" y="240.70" width="17.64" height="1.53" fill="#0e2d10"/>
<rect x="468.58" y="242.20" width="17.64" height="2.53" fill="#0e2c10"/>
<rect x="468.58" y="244.70" width="17.64" height="1.03" fill="#0e2910"/>
<rect x="468.58" y="245.70" width="17.64" height="2.03" fill="#0e2c10"/>
<rect x="468.58" y="247.70" width="17.64" height="1.03" fill="#0e2c10"/>
<rect x="468.58" y="248.70" width="17.64" height="2.53" fill="#0e1a0e"/>
<rect x="468.58" y="251.20" width="17.64" height="1.53" fill="#0e250f"/>
<rect x="468.58" y="252.70" width="17.64" height="2.03" fill="#0e200e"/>
<rect x="468.58" y="254.70" width="17.64" height="3.03" fill="#0e3712"/>
<rect x="468.58" y="257.70" width="17.64" height="3.03" fill="#0e2e10"/>
<rect x="468.58" y="260.70" width="17.64" height="1.53" fill="#0e180e"/>
<rect x="468.58" y="262.20" width="17.64" height="2.03" fill="#0e230f"/>
<rect x="468.58" y="264.20" width="17.64" height="1.53" fill="#0e3211"/>
<rect x="468.58" y="265.70" width="17.64" height="2.53" fill="#136a1f"/>
<rect x="468.58" y="268.20" width="17.64" height="1.53" fill="#105519"/>
<rect x="468.58" y="269.70" width="17.64" height="2.03" fill="#11611d"/>
<rect x="468.58" y="271.70" width="17.64" height="1.03" fill="#105c1b"/>
<rect x="468.58" y="272.70" width="17.64" height="3.03" fill="#11631d"/>
<rect x="468.58" y="275.70" width="17.64" height="2.03" fill="#12651e"/>
<rect x="468.58" y="277.70" width="17.64" height="1.03" fill="#b01c24"/>
<rect x="468.58" y="278.70" width="17.64" height="2.53" fill="#c31f27"/>
<rect x="468.58" y="281.20" width="17.64" height="2.03" fill="#dc222b"/>
<rect x="468.58" y="283.20" width="17.64" height="2.03" fill="#b01c24"/>
<rect x="468.58" y="285.20" width="17.64" height="3.03" fill="#74151a"/>
<rect x="468.58" y="288.20" width="17.64" height="2.03" fill="#270c0f"/>
<rect x="468.58" y="290.20" width="17.64" height="2.53" fill="#290c0f"/>
<rect x="468.58" y="292.70" width="17.64" height="2.53" fill="#370e11"/>
<rect x="468.58" y="295.20" width="17.64" height="1.03" fill="#2d0c0f"/>
<rect x="468.58" y="296.20" width="17.64" height="1.03" fill="#290c0f"/>
<rect x="468.58" y="297.20" width="17.64" height="3.03" fill="#380e11"/>
<rect x="468.58" y="300.20" width="17.64" height="1.03" fill="#350d11"/>
<rect x="468.58" y="301.20" width="17.64" height="2.03" fill="#360d11"/>
<rect x="468.58" y="303.20" width="17.64" height="1.53" fill="#340d10"/>
<rect x="468.58" y="304.70" width="17.64" height="2.53" fill="#2e0d0f"/>
<rect x="468.58" y="307.20" width="17.64" height="3.03" fill="#3b0e11"/>
<rect x="468.58" y="310.20" width="17.64" height="2.03" fill="#2f0d10"/>
<rect x="468.58" y="312.20" width="17.64" height="1.03" fill="#370e11"/>
<rect x="468.58" y="313.20" width="17.64" height="2.03" fill="#360d11"/>
<rect x="468.58" y="315.20" width="17.64" height="1.03" fill="#3f0f12"/>
<rect x="468.58" y="316.20" width="17.64" height="1.03" fill="#340d10"/>
<rect x="468.58" y="317.20" width="17.64" height="1.03" fill="#3d0e12"/>
<rect x="468.58" y="318.20" width="17.64" height="2.03" fill="#260c0e"/>
<rect x="468.58" y="320.20" width="17.64" height="1.03" fill="#370e11"/>
<rect x="468.58" y="321.20" width="17.64" height="2.03" fill="#380e11"/>
<rect x="468.58" y="323.20" width="17.64" height="1.53" fill="#380e11"/>
<rect x="468.58" y="324.70" width="17.64" height="2.03" fill="#240b0e"/>
<rect x="468.58" y="326.70" width="17.64" height="1.53" fill="#3e0e12"/>
<rect x="468.58" y="328.20" width="17.64" height="3.03" fill="#320d10"/>
<rect x="468.58" y="331.20" width="17.64" height="2.03" fill="#320d10"/>
<rect x="468.58" y="333.20" width="17.64" height="1.53" fill="#470f13"/>
<rect x="468.58" y="334.70" width="17.64" height="1.03" fill="#370e11"/>
<rect x="468.58" y="335.70" width="17.64" height="1.53" fill="#420f13"/>
<rect x="468.58" y="337.20" width="17.64" height="1.53" fill="#290c0f"/>
<rect x="468.58" y="338.70" width="17.64" height="2.03" fill="#410f12"/>
<rect x="468.58" y="340.70" width="17.64" height="1.53" fill="#3c0e12"/>
<rect x="468.58" y="342.20" width="17.64" height="3.03" fill="#76151b"/>
<rect x="468.58" y="345.20" width="17.64" height="2.03" fill="#961920"/>
<rect x="468.58" y="347.20" width="17.64" height="2.03" fill="#ad1c23"/>
<rect x="468.58" y="349.20" width="17.64" height="1.03" fill="#a31b22"/>
<rect x="468.58" y="350.20" width="17.64" height="1.53" fill="#bf1e26"/>
<rect x="468.58" y="351.70" width="17.64" height="1.03" fill="#9e1a21"/>
<rect x="468.58" y="352.70" width="17.64" height="1.03" fill="#8a171e"/>
<rect x="468.58" y="353.70" width="17.64" height="1.93" fill="#ba1d25"/>
</g>
<linearGradient id="lgD" x1="0" y1="0" x2="0" y2="1"><stop offset="0" stop-color="#ee2a36"/><stop offset="0.25" stop-color="#8e1820"/><stop offset="0.5" stop-color="#120c0c"/><stop offset="0.75" stop-color="#1f7a36"/><stop offset="1" stop-color="#74cc50"/></linearGradient>
<rect x="490.60" y="174.00" width="5.60" height="72.20" fill="url(#lgD)"/>
<text x="500.20" y="179.60" font-size="5.6" fill="#151515" font-weight="bold" text-anchor="start">2</text>
<text x="500.20" y="196.00" font-size="5.6" fill="#151515" font-weight="bold" text-anchor="start">1</text>
<text x="500.20" y="212.40" font-size="5.6" fill="#151515" font-weight="bold" text-anchor="start">0</text>
<text x="497.20" y="228.80" font-size="5.6" fill="#151515" font-weight="bold" text-anchor="start">−1</text>
<text x="497.20" y="245.20" font-size="5.6" fill="#151515" font-weight="bold" text-anchor="start">−2</text>
<text x="371.80" y="158.40" font-size="8.6" fill="#151515" font-weight="normal" text-anchor="start" stroke="#151515" stroke-width="0.2">Group 1</text>
<text x="416.00" y="158.40" font-size="8.6" fill="#151515" font-weight="normal" text-anchor="start" stroke="#151515" stroke-width="0.2">Group 3</text>
<text x="456.20" y="158.40" font-size="8.6" fill="#151515" font-weight="normal" text-anchor="start" stroke="#151515" stroke-width="0.2">Group 2</text>
<polyline points="369.20,168.00 369.20,147.50 451.20,147.50 451.20,159.50" fill="none" stroke="#6a6a6a" stroke-width="0.7"/>
<polyline points="433.80,169.50 433.80,159.50 469.50,159.50 469.50,169.50" fill="none" stroke="#6a6a6a" stroke-width="0.7"/>
<polyline points="424.50,174.00 424.50,169.50 442.50,169.50 442.50,174.00" fill="none" stroke="#6a6a6a" stroke-width="0.7"/>
<polyline points="460.00,174.00 460.00,169.50 478.00,169.50 478.00,174.00" fill="none" stroke="#6a6a6a" stroke-width="0.7"/>
<polyline points="354.00,174.00 354.00,168.00 389.00,168.00 389.00,170.00" fill="none" stroke="#6a6a6a" stroke-width="0.7"/>
<polyline points="372.00,174.00 372.00,170.00 407.00,170.00 407.00,174.00" fill="none" stroke="#6a6a6a" stroke-width="0.7"/>
<polyline points="389.50,174.00 389.50,171.50 398.00,171.50 398.00,170.00" fill="none" stroke="#6a6a6a" stroke-width="0.7"/>
<text x="300.70" y="364.80" font-size="8.1" fill="#151515" font-weight="normal" text-anchor="start" stroke="#151515" stroke-width="0.2">SMARCA4:</text>
<text x="353.10" y="364.60" font-size="6.9" fill="#151515" font-weight="normal" text-anchor="middle" stroke="#151515" stroke-width="0.2">Ctrl</text>
<text x="372.60" y="364.60" font-size="6.9" fill="#151515" font-weight="normal" text-anchor="middle" stroke="#151515" stroke-width="0.2">ATP*</text>
<text x="390.00" y="364.60" font-size="6.9" fill="#151515" font-weight="normal" text-anchor="middle" stroke="#151515" stroke-width="0.2">WT</text>
<text x="406.60" y="364.60" font-size="6.9" fill="#151515" font-weight="normal" text-anchor="middle" stroke="#151515" stroke-width="0.2">BRD*</text>
<text x="424.00" y="364.60" font-size="6.9" fill="#151515" font-weight="normal" text-anchor="middle" stroke="#151515" stroke-width="0.2">Ctrl</text>
<text x="443.50" y="364.60" font-size="6.9" fill="#151515" font-weight="normal" text-anchor="middle" stroke="#151515" stroke-width="0.2">ATP*</text>
<text x="460.50" y="364.60" font-size="6.9" fill="#151515" font-weight="normal" text-anchor="middle" stroke="#151515" stroke-width="0.2">WT</text>
<text x="477.60" y="364.60" font-size="6.9" fill="#151515" font-weight="normal" text-anchor="middle" stroke="#151515" stroke-width="0.2">BRD*</text>
<line x1="347.50" y1="368.60" x2="412.00" y2="368.60" stroke="#151515" stroke-width="0.9"/>
<line x1="420.00" y1="368.60" x2="484.00" y2="368.60" stroke="#151515" stroke-width="0.9"/>
<text x="380.00" y="378.80" font-size="8.1" fill="#151515" font-weight="normal" text-anchor="middle" stroke="#151515" stroke-width="0.2">shLuc</text>
<text x="452.00" y="378.80" font-size="8.1" fill="#151515" font-weight="normal" text-anchor="middle" stroke="#151515" stroke-width="0.2">shSMARCA2</text>
<path d="M345.4 175.2H340.7V175.7H345.4M345.4 174.6H339.9V175.4H340.7M345.4 176.2H340.6V176.7H345.4M339.9 175.0H337.8V176.5H340.6M345.4 177.7H342.2V178.1H345.4M342.2 177.9H341.1V178.6H345.4M345.4 177.2H338.8V178.3H341.1M337.8 175.8H336.7V177.7H338.8M345.4 179.1H340.4V179.6H345.4M340.4 179.3H339.6V180.0H345.4M339.6 179.7H338.3V180.5H345.4M336.7 176.7H335.2V180.1H338.3M345.4 182.3H341.9V182.7H345.4M345.4 181.8H341.3V182.5H341.9M345.4 181.2H338.4V182.1H341.3M345.4 183.2H339.7V183.6H345.4M338.4 181.6H337.1V183.4H339.7M335.2 178.4H333.7V182.5H337.1M345.4 184.2H340.3V184.7H345.4M345.4 185.1H340.6V185.5H345.4M340.3 184.5H339.3V185.3H340.6M339.3 184.9H338.3V186.0H345.4M345.4 186.6H340.3V187.2H345.4M345.4 187.6H341.0V188.1H345.4M340.3 186.9H339.6V187.8H341.0M338.3 185.4H336.8V187.4H339.6M345.4 189.1H342.1V189.5H345.4M345.4 188.7H341.2V189.3H342.1M341.2 189.0H339.9V190.3H345.4M339.9 189.6H337.4V191.0H345.4M345.4 191.6H340.3V192.2H345.4M340.3 191.9H338.3V192.8H345.4M345.4 193.2H340.3V193.7H345.4M338.3 192.4H337.2V193.5H340.3M337.4 190.3H334.5V192.9H337.2M336.8 186.4H332.6V191.6H334.5M333.7 180.5H330.0V189.0H332.6M345.4 194.8H342.8V195.3H345.4M345.4 194.2H341.6V195.0H342.8M345.4 195.7H341.7V196.2H345.4M341.6 194.6H341.1V196.0H341.7M345.4 196.8H343.6V197.4H345.4M345.4 198.0H344.3V198.4H345.4M344.3 198.2H343.7V198.8H345.4M343.6 197.1H342.7V198.5H343.7M345.4 199.6H343.0V200.0H345.4M345.4 199.3H342.4V199.8H343.0M345.4 200.6H343.0V201.2H345.4M342.4 199.5H341.8V200.9H343.0M342.7 197.8H341.2V200.2H341.8M341.1 195.3H337.8V199.0H341.2M344.7 201.9H344.4V202.7H345.4M345.4 203.3H344.5V203.7H345.4M344.5 203.5H343.9V204.2H345.4M344.4 202.3H343.7V203.8H343.9M345.4 204.8H343.7V205.5H345.4M343.7 203.0H343.0V205.1H343.7M345.4 206.8H344.2V207.3H345.4M345.4 206.1H343.9V207.0H344.2M343.0 204.1H342.6V206.6H343.9M345.4 208.9H344.4V209.5H345.4M345.4 208.4H344.1V209.2H344.4M345.4 207.8H343.4V208.8H344.1M345.4 210.4H344.2V210.9H345.4M345.4 209.9H343.7V210.7H344.2M343.7 210.3H343.2V211.3H345.4M343.4 208.3H342.4V210.8H343.2M345.4 212.4H343.9V212.8H345.4M343.9 212.6H343.5V213.4H345.4M345.4 212.0H343.0V213.0H343.5M342.4 209.6H341.9V212.5H343.0M342.6 205.3H340.5V211.0H341.9M337.8 197.2H336.6V208.2H340.5M345.4 214.0H343.4V214.5H345.4M343.4 214.2H343.2V214.9H345.4M345.4 215.2H344.0V215.7H345.4M344.0 215.4H343.4V216.2H345.4M343.2 214.5H342.6V215.8H343.4M345.4 216.8H344.5V217.3H345.4M344.5 217.0H343.9V217.6H345.4M343.9 217.3H342.7V218.2H345.4M342.6 215.2H342.0V217.8H342.7M345.4 218.9H343.1V219.4H345.4M345.4 220.0H343.6V220.5H345.4M343.1 219.1H342.5V220.2H343.6M345.4 221.6H344.0V222.0H345.4M345.4 221.1H343.3V221.8H344.0M345.4 223.1H344.0V223.6H345.4M345.4 222.5H343.5V223.4H344.0M343.3 221.4H342.9V223.0H343.5M342.5 219.7H341.7V222.2H342.9M342.0 216.5H340.5V220.9H341.7M345.4 224.3H343.4V225.0H345.4M345.4 225.5H343.1V226.1H345.4M343.4 224.6H342.8V225.8H343.1M345.4 226.6H342.1V227.2H345.4M342.8 225.2H341.3V226.9H342.1M340.5 218.7H339.0V226.1H341.3M336.6 202.7H334.7V222.4H339.0M345.4 228.5H342.9V229.0H345.4M345.4 227.9H342.3V228.8H342.9M345.4 229.7H342.6V230.1H345.4M345.4 229.4H342.2V229.9H342.6M342.3 228.4H341.3V229.7H342.2M345.4 230.5H342.4V230.9H345.4M342.4 230.7H340.7V231.4H345.4M341.3 229.0H339.7V231.0H340.7M345.4 232.2H341.3V232.6H345.4M345.4 231.8H339.0V232.4H341.3M339.7 230.0H336.9V232.1H339.0M345.4 233.2H343.1V233.8H345.4M343.1 233.5H342.6V234.2H345.4M345.4 234.7H344.2V235.3H345.4M344.8 236.1H344.5V236.8H345.4M344.2 235.0H344.0V236.4H344.5M345.4 237.2H343.8V237.6H345.4M344.0 235.7H342.9V237.4H343.8M342.6 233.8H341.9V236.6H342.9M345.4 238.7H343.8V239.4H345.4M345.4 238.1H342.6V239.0H343.8M345.4 239.8H342.9V240.2H345.4M342.6 238.6H340.9V240.0H342.9M341.9 235.2H340.1V239.3H340.9M345.4 241.3H342.2V241.8H345.4M345.4 240.8H341.3V241.5H342.2M345.4 242.5H342.4V243.2H345.4M341.3 241.2H340.4V242.8H342.4M340.1 237.3H339.3V242.0H340.4M336.9 231.1H335.3V239.6H339.3M345.4 244.7H339.7V245.4H345.4M345.4 243.9H337.4V245.0H339.7M345.4 246.0H342.0V246.6H345.4M345.4 247.1H342.9V247.7H345.4M342.0 246.3H341.3V247.4H342.9M345.4 248.3H341.1V248.7H345.4M341.3 246.9H339.9V248.5H341.1M345.4 249.4H341.8V249.8H345.4M345.4 249.0H340.4V249.6H341.8M339.9 247.7H338.7V249.3H340.4M337.4 244.5H335.7V248.5H338.7M335.3 235.3H333.8V246.5H335.7M345.4 250.4H341.4V251.0H345.4M345.4 251.5H340.1V252.0H345.4M341.4 250.7H338.4V251.8H340.1M345.4 252.6H339.3V253.2H345.4M345.4 253.7H341.4V254.2H345.4M345.4 254.6H340.1V255.1H345.4M341.4 254.0H339.2V254.8H340.1M339.3 252.9H338.3V254.4H339.2M338.4 251.2H336.8V253.6H338.3M345.4 256.1H343.8V256.6H345.4M345.4 255.6H342.8V256.3H343.8M342.8 256.0H341.7V257.1H345.4M345.4 257.8H342.0V258.6H345.4M345.4 259.2H344.0V259.6H345.4M344.0 259.4H343.2V260.2H345.4M342.0 258.2H341.4V259.8H343.2M341.7 256.6H340.4V259.0H341.4M345.4 260.9H343.6V261.4H345.4M345.4 262.0H343.8V262.4H345.4M345.4 261.7H343.6V262.2H343.8M343.6 261.1H342.2V261.9H343.6M340.4 257.8H339.6V261.5H342.2M345.4 263.1H342.1V263.7H345.4M342.1 263.4H341.3V264.3H345.4M345.4 264.7H342.9V265.2H345.4M342.9 264.9H341.1V265.6H345.4M341.3 263.8H340.0V265.3H341.1M339.6 259.7H337.8V264.6H340.0M345.4 266.1H343.6V266.6H345.4M345.4 267.2H343.4V267.6H345.4M343.6 266.3H342.6V267.4H343.4M345.4 268.1H342.2V268.8H345.4M342.6 266.9H341.0V268.5H342.2M345.4 269.5H342.1V270.0H345.4M345.4 270.3H341.8V270.8H345.4M342.1 269.8H340.3V270.6H341.8M341.0 267.7H338.8V270.2H340.3M337.8 262.1H335.4V268.9H338.8M336.8 252.4H333.5V265.5H335.4M333.8 240.9H331.8V259.0H333.5M334.7 212.5H327.5V249.9H331.8M330.0 184.7H321.4V231.2H327.5M345.4 271.2H338.6V271.6H345.4M338.6 271.4H336.4V272.2H345.4M345.4 273.3H340.3V273.7H345.4M345.4 272.8H336.8V273.5H340.3M336.4 271.8H333.2V273.1H336.8M345.4 274.2H342.5V274.7H345.4M345.4 275.1H344.0V275.6H345.4M344.0 275.4H342.9V276.1H345.4M342.5 274.5H341.4V275.7H342.9M345.4 277.5H341.8V277.9H345.4M345.4 277.2H341.0V277.7H341.8M345.4 276.7H339.8V277.5H341.0M341.4 275.1H338.9V277.1H339.8M345.4 278.4H342.3V278.9H345.4M342.3 278.7H340.3V279.5H345.4M338.9 276.1H337.2V279.1H340.3M333.2 272.5H331.5V277.6H337.2M345.4 280.0H339.0V280.6H345.4M345.4 281.2H339.9V281.8H345.4M339.0 280.3H336.9V281.5H339.9M345.4 282.3H335.8V282.7H345.4M336.9 280.9H332.0V282.5H335.8M331.5 275.0H324.0V281.7H332.0M345.4 283.7H341.4V284.2H345.4M345.4 283.2H340.1V283.9H341.4M340.1 283.6H338.5V284.8H345.4M345.4 285.5H339.0V286.0H345.4M338.5 284.2H337.1V285.7H339.0M345.4 286.5H339.3V287.0H345.4M339.3 286.7H337.7V287.7H345.4M337.1 285.0H334.4V287.2H337.7M345.4 288.2H340.8V288.7H345.4M340.8 288.4H338.4V289.2H345.4M345.4 289.6H341.9V290.1H345.4M345.4 290.4H341.7V290.9H345.4M341.9 289.8H340.7V290.6H341.7M345.4 291.4H340.5V292.0H345.4M340.7 290.2H338.2V291.7H340.5M338.4 288.8H336.7V291.0H338.2M345.4 292.6H342.6V293.2H345.4M342.6 292.9H341.4V293.6H345.4M345.4 295.3H343.9V295.8H345.4M345.4 294.8H342.9V295.6H343.9M345.4 294.3H342.1V295.2H342.9M345.4 296.3H343.5V296.8H345.4M345.4 298.4H344.0V298.9H345.4M345.4 297.9H343.8V298.6H344.0M345.4 297.4H343.4V298.3H343.8M343.5 296.6H342.4V297.9H343.4M342.1 294.7H341.6V297.2H342.4M341.4 293.3H339.0V296.0H341.6M336.7 289.9H334.9V294.6H339.0M334.4 286.1H330.0V292.3H334.9M345.4 299.9H343.0V300.4H345.4M345.4 299.3H342.1V300.1H343.0M342.1 299.7H339.7V300.9H345.4M345.4 301.4H339.5V301.9H345.4M339.7 300.3H336.3V301.7H339.5M345.4 302.5H343.5V302.9H345.4M345.4 304.1H343.8V304.5H345.4M345.4 303.5H342.8V304.3H343.8M343.5 302.7H341.9V303.9H342.8M345.4 305.5H342.4V306.0H345.4M345.4 305.0H342.0V305.8H342.4M341.9 303.3H340.6V305.4H342.0M345.4 306.8H341.5V307.3H345.4M345.4 307.6H343.3V308.2H345.4M343.3 307.9H342.4V308.9H345.4M341.5 307.0H340.1V308.4H342.4M340.6 304.4H338.6V307.7H340.1M336.3 301.0H334.9V306.0H338.6M345.4 310.1H343.1V310.5H345.4M345.4 311.0H343.6V311.5H345.4M343.1 310.3H342.4V311.2H343.6M345.4 309.5H340.0V310.8H342.4M345.4 312.6H342.0V313.1H345.4M345.4 312.0H340.8V312.9H342.0M345.4 313.8H342.8V314.3H345.4M345.4 315.0H342.4V315.5H345.4M342.8 314.1H342.0V315.2H342.4M345.4 316.1H343.8V316.6H345.4M343.8 316.3H342.9V316.9H345.4M345.4 317.7H343.4V318.1H345.4M345.4 317.3H342.7V317.9H343.4M342.9 316.6H341.5V317.6H342.7M342.0 314.6H340.8V317.1H341.5M340.8 312.4H339.6V315.9H340.8M340.0 310.1H337.0V314.2H339.6M334.9 303.5H332.1V312.2H337.0M345.4 318.6H343.6V319.1H345.4M345.4 319.5H344.4V319.9H345.4M344.4 319.7H344.0V320.5H345.4M343.6 318.8H342.9V320.1H344.0M345.4 321.3H344.1V321.9H345.4M345.4 322.6H344.3V323.1H345.4M344.1 321.6H343.4V322.8H344.3M345.4 323.6H343.7V324.1H345.4M345.4 324.6H344.2V325.3H345.4M345.4 325.8H344.2V326.2H345.4M344.2 324.9H343.6V326.0H344.2M343.7 323.8H343.4V325.5H343.6M343.4 322.2H343.0V324.7H343.4M342.9 319.5H342.2V323.4H343.0M345.4 327.6H343.9V328.1H345.4M345.4 326.9H343.5V327.9H343.9M345.4 328.6H343.4V329.1H345.4M343.5 327.4H342.2V328.9H343.4M342.2 321.5H340.0V328.1H342.2M345.4 329.6H341.0V330.3H345.4M345.4 330.8H343.0V331.2H345.4M343.0 331.0H342.5V331.7H345.4M345.4 332.1H343.1V332.5H345.4M343.1 332.3H342.1V333.1H345.4M342.5 331.4H341.1V332.7H342.1M341.0 330.0H340.1V332.0H341.1M340.0 324.8H338.3V331.0H340.1M345.4 334.3H342.4V335.0H345.4M345.4 333.7H341.7V334.6H342.4M341.7 334.2H340.9V335.6H345.4M345.4 336.2H343.1V336.7H345.4M345.4 337.1H343.8V337.7H345.4M345.4 338.4H343.6V339.0H345.4M343.8 337.4H343.3V338.7H343.6M343.1 336.5H342.5V338.0H343.3M345.4 339.7H343.9V340.1H345.4M345.4 339.3H342.9V339.9H343.9M345.4 340.6H343.5V341.2H345.4M343.5 340.9H343.1V341.8H345.4M342.9 339.6H341.4V341.3H343.1M342.5 337.2H340.9V340.5H341.4M340.9 334.9H340.2V338.9H340.9M345.4 342.7H344.3V343.2H345.4M345.4 342.3H344.0V343.0H344.3M344.0 342.6H343.1V343.7H345.4M343.1 343.2H342.4V344.3H345.4M345.4 345.0H343.6V345.5H345.4M345.4 346.1H343.7V346.6H345.4M343.6 345.3H343.0V346.4H343.7M342.4 343.7H342.0V345.8H343.0M345.4 347.0H343.6V347.5H345.4M343.6 347.2H342.9V348.1H345.4M342.9 347.7H342.5V348.7H345.4M342.0 344.8H341.4V348.2H342.5M340.2 336.9H339.2V346.5H341.4M338.3 327.9H334.6V341.7H339.2M332.1 307.8H328.0V334.8H334.6M330.0 289.2H321.4V321.3H328.0M345.4 349.2H342.1V349.8H345.4M345.4 350.5H344.1V351.1H345.4M345.4 351.6H344.0V352.1H345.4M344.1 350.8H343.5V351.9H344.0M345.4 352.6H342.9V353.0H345.4M343.5 351.3H342.4V352.8H342.9M342.1 349.5H340.1V352.1H342.4M345.4 353.9H342.6V354.4H345.4M345.4 353.4H341.0V354.2H342.6M345.4 355.0H341.0V355.4H345.4M341.0 353.8H339.3V355.2H341.0M340.1 350.8H337.0V354.5H339.3M321.4 208.0H308.7V352.6H337.0M324.0 278.4H308.7V305.2H321.4" fill="none" stroke="#242424" stroke-width="0.55"/>
<rect x="339.80" y="174.20" width="5.60" height="181.40" fill="#0c0c0c"/>
<text x="5.00" y="398.20" font-size="12.3" fill="#111" font-weight="bold" text-anchor="start" stroke="#111" stroke-width="0.35">E</text>
<text x="31.50" y="394.40" font-size="7.2" fill="#151515" font-weight="normal" text-anchor="start" stroke="#151515" stroke-width="0.2">SMARCA2-KD signature (up)/SMARCA4 rescue (down)</text>
<rect x="27.00" y="400.00" width="189.20" height="163.00" fill="#ececec"/>
<rect x="46.00" y="400.80" width="167.00" height="66.20" fill="#ffffff" stroke="#c9c9c9" stroke-width="0.6"/>
<rect x="46.00" y="467.40" width="167.00" height="29.80" fill="#ffffff" stroke="#c9c9c9" stroke-width="0.6"/>
<rect x="46.00" y="497.50" width="167.00" height="42.80" fill="#ffffff" stroke="#c9c9c9" stroke-width="0.6"/>
<line x1="75.37" y1="400.80" x2="75.37" y2="467.00" stroke="#e6e6e6" stroke-width="0.5"/>
<line x1="75.37" y1="497.50" x2="75.37" y2="540.30" stroke="#e6e6e6" stroke-width="0.5"/>
<line x1="104.44" y1="400.80" x2="104.44" y2="467.00" stroke="#e6e6e6" stroke-width="0.5"/>
<line x1="104.44" y1="497.50" x2="104.44" y2="540.30" stroke="#e6e6e6" stroke-width="0.5"/>
<line x1="133.51" y1="400.80" x2="133.51" y2="467.00" stroke="#e6e6e6" stroke-width="0.5"/>
<line x1="133.51" y1="497.50" x2="133.51" y2="540.30" stroke="#e6e6e6" stroke-width="0.5"/>
<line x1="162.58" y1="400.80" x2="162.58" y2="467.00" stroke="#e6e6e6" stroke-width="0.5"/>
<line x1="162.58" y1="497.50" x2="162.58" y2="540.30" stroke="#e6e6e6" stroke-width="0.5"/>
<line x1="191.65" y1="400.80" x2="191.65" y2="467.00" stroke="#e6e6e6" stroke-width="0.5"/>
<line x1="191.65" y1="497.50" x2="191.65" y2="540.30" stroke="#e6e6e6" stroke-width="0.5"/>
<line x1="46.00" y1="402.50" x2="213.00" y2="402.50" stroke="#ebebeb" stroke-width="0.5"/>
<text x="44.30" y="403.70" font-size="3.5" fill="#222" font-weight="bold" text-anchor="end">0.7</text>
<line x1="46.00" y1="411.00" x2="213.00" y2="411.00" stroke="#ebebeb" stroke-width="0.5"/>
<text x="44.30" y="412.20" font-size="3.5" fill="#222" font-weight="bold" text-anchor="end">0.6</text>
<line x1="46.00" y1="419.50" x2="213.00" y2="419.50" stroke="#ebebeb" stroke-width="0.5"/>
<text x="44.30" y="420.70" font-size="3.5" fill="#222" font-weight="bold" text-anchor="end">0.5</text>
<line x1="46.00" y1="428.00" x2="213.00" y2="428.00" stroke="#ebebeb" stroke-width="0.5"/>
<text x="44.30" y="429.20" font-size="3.5" fill="#222" font-weight="bold" text-anchor="end">0.4</text>
<line x1="46.00" y1="436.50" x2="213.00" y2="436.50" stroke="#ebebeb" stroke-width="0.5"/>
<text x="44.30" y="437.70" font-size="3.5" fill="#222" font-weight="bold" text-anchor="end">0.3</text>
<line x1="46.00" y1="445.00" x2="213.00" y2="445.00" stroke="#ebebeb" stroke-width="0.5"/>
<text x="44.30" y="446.20" font-size="3.5" fill="#222" font-weight="bold" text-anchor="end">0.2</text>
<line x1="46.00" y1="453.50" x2="213.00" y2="453.50" stroke="#ebebeb" stroke-width="0.5"/>
<text x="44.30" y="454.70" font-size="3.5" fill="#222" font-weight="bold" text-anchor="end">0.1</text>
<line x1="46.00" y1="462.00" x2="213.00" y2="462.00" stroke="#ebebeb" stroke-width="0.5"/>
<text x="44.30" y="463.20" font-size="3.5" fill="#222" font-weight="bold" text-anchor="end">-0.0</text>
<line x1="46.00" y1="461.80" x2="213.00" y2="461.80" stroke="#bdbdbd" stroke-width="0.6"/>
<polyline points="46.4,462.3 46.9,440.0 47.5,424.0 48.3,416.0 49.6,410.0 51.0,405.8 52.3,404.5 56.0,404.2 60.0,404.6 63.0,405.0 65.5,404.4 68.0,404.6 71.0,405.6 74.6,406.3 80.0,408.8 86.2,412.0 92.0,414.9 100.0,418.7 121.0,428.5 141.2,440.0 161.4,451.2 175.0,457.2 183.0,460.2 191.6,462.8 195.0,463.4 197.0,464.2 198.5,463.2 200.0,464.0 202.5,463.6 204.6,461.8" fill="none" stroke="#6eb940" stroke-width="1.55" stroke-linejoin="round" stroke-linecap="round"/>
<rect x="45.95" y="468.60" width="2.10" height="21.20" fill="#111"/>
<rect x="48.90" y="468.60" width="1.20" height="21.20" fill="#777"/>
<rect x="50.60" y="468.60" width="1.20" height="21.20" fill="#888"/>
<rect x="52.40" y="468.60" width="1.20" height="21.20" fill="#333"/>
<rect x="55.00" y="468.60" width="1.20" height="21.20" fill="#333"/>
<rect x="56.75" y="468.60" width="1.10" height="21.20" fill="#888"/>
<rect x="58.80" y="468.60" width="1.20" height="21.20" fill="#333"/>
<rect x="60.55" y="468.60" width="1.10" height="21.20" fill="#555"/>
<rect x="62.80" y="468.60" width="1.20" height="21.20" fill="#333"/>
<rect x="65.40" y="468.60" width="1.20" height="21.20" fill="#333"/>
<rect x="67.15" y="468.60" width="1.10" height="21.20" fill="#888"/>
<rect x="70.20" y="468.60" width="1.20" height="21.20" fill="#333"/>
<rect x="73.05" y="468.60" width="1.30" height="21.20" fill="#111"/>
<rect x="80.15" y="468.60" width="1.10" height="21.20" fill="#555"/>
<rect x="81.85" y="468.60" width="1.10" height="21.20" fill="#999"/>
<rect x="88.75" y="468.60" width="1.10" height="21.20" fill="#555"/>
<rect x="89.95" y="468.60" width="1.10" height="21.20" fill="#555"/>
<rect x="93.95" y="468.60" width="1.10" height="21.20" fill="#999"/>
<rect x="96.50" y="468.60" width="1.20" height="21.20" fill="#333"/>
<rect x="99.65" y="468.60" width="1.10" height="21.20" fill="#555"/>
<rect x="102.65" y="468.60" width="1.10" height="21.20" fill="#999"/>
<rect x="106.05" y="468.60" width="1.10" height="21.20" fill="#555"/>
<rect x="107.85" y="468.60" width="1.10" height="21.20" fill="#555"/>
<rect x="113.05" y="468.60" width="1.10" height="21.20" fill="#555"/>
<rect x="114.25" y="468.60" width="1.10" height="21.20" fill="#777"/>
<rect x="119.45" y="468.60" width="1.10" height="21.20" fill="#555"/>
<rect x="123.35" y="468.60" width="1.10" height="21.20" fill="#777"/>
<rect x="125.15" y="468.60" width="1.10" height="21.20" fill="#555"/>
<rect x="128.55" y="468.60" width="1.10" height="21.20" fill="#777"/>
<rect x="126.55" y="468.60" width="1.10" height="21.20" fill="#777"/>
<rect x="134.85" y="468.60" width="1.10" height="21.20" fill="#444"/>
<rect x="136.25" y="468.60" width="1.10" height="21.20" fill="#777"/>
<rect x="139.15" y="468.60" width="1.10" height="21.20" fill="#777"/>
<rect x="140.85" y="468.60" width="1.10" height="21.20" fill="#555"/>
<rect x="144.85" y="468.60" width="1.10" height="21.20" fill="#777"/>
<rect x="146.95" y="468.60" width="1.10" height="21.20" fill="#555"/>
<rect x="151.25" y="468.60" width="1.10" height="21.20" fill="#555"/>
<rect x="153.05" y="468.60" width="1.10" height="21.20" fill="#666"/>
<rect x="158.15" y="468.60" width="1.10" height="21.20" fill="#777"/>
<rect x="162.15" y="468.60" width="1.10" height="21.20" fill="#666"/>
<rect x="164.65" y="468.60" width="1.10" height="21.20" fill="#555"/>
<rect x="169.15" y="468.60" width="1.10" height="21.20" fill="#666"/>
<rect x="170.85" y="468.60" width="1.10" height="21.20" fill="#555"/>
<rect x="173.75" y="468.60" width="1.10" height="21.20" fill="#666"/>
<rect x="175.55" y="468.60" width="1.10" height="21.20" fill="#777"/>
<rect x="182.95" y="468.60" width="1.10" height="21.20" fill="#555"/>
<rect x="184.65" y="468.60" width="1.10" height="21.20" fill="#777"/>
<rect x="188.85" y="468.60" width="1.10" height="21.20" fill="#666"/>
<rect x="191.05" y="468.60" width="1.10" height="21.20" fill="#555"/>
<rect x="193.95" y="468.60" width="1.30" height="21.20" fill="#333"/>
<rect x="195.45" y="468.60" width="1.10" height="21.20" fill="#666"/>
<rect x="199.75" y="468.60" width="1.10" height="21.20" fill="#666"/>
<rect x="201.45" y="468.60" width="1.10" height="21.20" fill="#666"/>
<rect x="203.15" y="468.60" width="1.10" height="21.20" fill="#777"/>
<linearGradient id="cb400" x1="0" y1="0" x2="1" y2="0"><stop offset="0.000" stop-color="#de3c3c"/><stop offset="0.160" stop-color="#e45252"/><stop offset="0.170" stop-color="#ea7474"/><stop offset="0.320" stop-color="#ef8d8d"/><stop offset="0.325" stop-color="#f2a8c6"/><stop offset="0.480" stop-color="#ecbfe0"/><stop offset="0.500" stop-color="#dcc8ec"/><stop offset="0.810" stop-color="#c4bfe8"/><stop offset="0.815" stop-color="#5a58b4"/><stop offset="1.000" stop-color="#4a48ac"/></linearGradient>
<rect x="46.40" y="489.80" width="158.40" height="5.60" fill="url(#cb400)"/>
<text x="50.20" y="505.60" font-size="8.2" fill="#111" font-weight="bold" text-anchor="start">ATP-Dead</text>
<text x="197.40" y="505.60" font-size="8.2" fill="#111" font-weight="bold" text-anchor="start">WT</text>
<line x1="46.00" y1="499.00" x2="213.00" y2="499.00" stroke="#ebebeb" stroke-width="0.5"/>
<text x="44.30" y="500.20" font-size="3.5" fill="#222" font-weight="bold" text-anchor="end">2</text>
<line x1="46.00" y1="506.40" x2="213.00" y2="506.40" stroke="#ebebeb" stroke-width="0.5"/>
<text x="44.30" y="507.60" font-size="3.5" fill="#222" font-weight="bold" text-anchor="end">1</text>
<line x1="46.00" y1="513.80" x2="213.00" y2="513.80" stroke="#ebebeb" stroke-width="0.5"/>
<text x="44.30" y="515.00" font-size="3.5" fill="#222" font-weight="bold" text-anchor="end">0</text>
<line x1="46.00" y1="521.20" x2="213.00" y2="521.20" stroke="#ebebeb" stroke-width="0.5"/>
<text x="44.30" y="522.40" font-size="3.5" fill="#222" font-weight="bold" text-anchor="end">-1</text>
<line x1="46.00" y1="528.60" x2="213.00" y2="528.60" stroke="#ebebeb" stroke-width="0.5"/>
<text x="44.30" y="529.80" font-size="3.5" fill="#222" font-weight="bold" text-anchor="end">-2</text>
<line x1="46.00" y1="536.00" x2="213.00" y2="536.00" stroke="#ebebeb" stroke-width="0.5"/>
<text x="44.30" y="537.20" font-size="3.5" fill="#222" font-weight="bold" text-anchor="end">-3</text>
<polyline points="46.0,514.0 70.0,514.6 203.6,514.9 204.2,538.3" fill="none" stroke="#9a9a9a" stroke-width="0.7"/>
<line x1="125.00" y1="512.60" x2="125.00" y2="540.30" stroke="#b5b5b5" stroke-width="0.5" stroke-dasharray="1 1"/>
<text x="125.00" y="519.20" font-size="3.4" fill="#222" font-weight="bold" text-anchor="middle">Zero cross at 17139</text>
<text x="46.30" y="545.10" font-size="3.5" fill="#222" font-weight="bold" text-anchor="middle">0</text>
<text x="75.37" y="545.10" font-size="3.5" fill="#222" font-weight="bold" text-anchor="middle">10,000</text>
<text x="104.44" y="545.10" font-size="3.5" fill="#222" font-weight="bold" text-anchor="middle">20,000</text>
<text x="133.51" y="545.10" font-size="3.5" fill="#222" font-weight="bold" text-anchor="middle">30,000</text>
<text x="162.58" y="545.10" font-size="3.5" fill="#222" font-weight="bold" text-anchor="middle">40,000</text>
<text x="191.65" y="545.10" font-size="3.5" fill="#222" font-weight="bold" text-anchor="middle">50,000</text>
<text x="129.50" y="549.90" font-size="4.0" fill="#222" font-weight="bold" text-anchor="middle">Rank in Ordered Dataset</text>
<text transform="translate(35.20,433.90) rotate(-90)" font-size="3.9" fill="#333" font-weight="bold" text-anchor="middle">Enrichment score (ES)</text>
<text transform="translate(35.20,515.90) rotate(-90)" font-size="3.9" fill="#333" font-weight="bold" text-anchor="middle">Ranked list metric (PreRanked)</text>
<rect x="54.40" y="553.90" width="134.00" height="6.20" fill="#f7f7f7" stroke="#555" stroke-width="0.5"/>
<line x1="57.00" y1="557.00" x2="64.00" y2="557.00" stroke="#6cbf3c" stroke-width="0.9"/>
<text x="65.50" y="558.30" font-size="3.7" fill="#222" font-weight="bold" text-anchor="start">Enrichment profile</text>
<line x1="104.00" y1="557.00" x2="110.00" y2="557.00" stroke="#333" stroke-width="0.6"/>
<text x="111.50" y="558.30" font-size="3.7" fill="#222" font-weight="bold" text-anchor="start">Hits</text>
<line x1="133.00" y1="557.00" x2="140.00" y2="557.00" stroke="#bbb" stroke-width="0.6"/>
<text x="141.50" y="558.30" font-size="3.7" fill="#222" font-weight="bold" text-anchor="start">Ranking metric scores</text>
<text x="3.60" y="579.60" font-size="12.3" fill="#111" font-weight="bold" text-anchor="start" stroke="#111" stroke-width="0.35">F</text>
<text x="32.40" y="577.60" font-size="7.2" fill="#151515" font-weight="normal" text-anchor="start" stroke="#151515" stroke-width="0.2">SMARCA2-KD signature (down)/SMARCA4 rescue (up)</text>
<rect x="27.00" y="580.60" width="189.20" height="159.40" fill="#ececec"/>
<rect x="48.00" y="581.40" width="165.00" height="65.10" fill="#ffffff" stroke="#c9c9c9" stroke-width="0.6"/>
<rect x="48.00" y="646.70" width="165.00" height="28.90" fill="#ffffff" stroke="#c9c9c9" stroke-width="0.6"/>
<rect x="48.00" y="676.20" width="165.00" height="40.40" fill="#ffffff" stroke="#c9c9c9" stroke-width="0.6"/>
<line x1="77.10" y1="581.40" x2="77.10" y2="646.50" stroke="#e6e6e6" stroke-width="0.5"/>
<line x1="77.10" y1="676.20" x2="77.10" y2="716.60" stroke="#e6e6e6" stroke-width="0.5"/>
<line x1="105.90" y1="581.40" x2="105.90" y2="646.50" stroke="#e6e6e6" stroke-width="0.5"/>
<line x1="105.90" y1="676.20" x2="105.90" y2="716.60" stroke="#e6e6e6" stroke-width="0.5"/>
<line x1="134.70" y1="581.40" x2="134.70" y2="646.50" stroke="#e6e6e6" stroke-width="0.5"/>
<line x1="134.70" y1="676.20" x2="134.70" y2="716.60" stroke="#e6e6e6" stroke-width="0.5"/>
<line x1="163.50" y1="581.40" x2="163.50" y2="646.50" stroke="#e6e6e6" stroke-width="0.5"/>
<line x1="163.50" y1="676.20" x2="163.50" y2="716.60" stroke="#e6e6e6" stroke-width="0.5"/>
<line x1="192.30" y1="581.40" x2="192.30" y2="646.50" stroke="#e6e6e6" stroke-width="0.5"/>
<line x1="192.30" y1="676.20" x2="192.30" y2="716.60" stroke="#e6e6e6" stroke-width="0.5"/>
<line x1="48.00" y1="583.30" x2="213.00" y2="583.30" stroke="#ebebeb" stroke-width="0.5"/>
<text x="46.30" y="584.50" font-size="3.5" fill="#222" font-weight="bold" text-anchor="end">0.3</text>
<line x1="48.00" y1="592.43" x2="213.00" y2="592.43" stroke="#ebebeb" stroke-width="0.5"/>
<text x="46.30" y="593.63" font-size="3.5" fill="#222" font-weight="bold" text-anchor="end">0.2</text>
<line x1="48.00" y1="601.56" x2="213.00" y2="601.56" stroke="#ebebeb" stroke-width="0.5"/>
<text x="46.30" y="602.76" font-size="3.5" fill="#222" font-weight="bold" text-anchor="end">0.1</text>
<line x1="48.00" y1="610.69" x2="213.00" y2="610.69" stroke="#ebebeb" stroke-width="0.5"/>
<text x="46.30" y="611.89" font-size="3.5" fill="#222" font-weight="bold" text-anchor="end">−0.0</text>
<line x1="48.00" y1="619.82" x2="213.00" y2="619.82" stroke="#ebebeb" stroke-width="0.5"/>
<text x="46.30" y="621.02" font-size="3.5" fill="#222" font-weight="bold" text-anchor="end">−0.1</text>
<line x1="48.00" y1="628.95" x2="213.00" y2="628.95" stroke="#ebebeb" stroke-width="0.5"/>
<text x="46.30" y="630.15" font-size="3.5" fill="#222" font-weight="bold" text-anchor="end">−0.2</text>
<line x1="48.00" y1="638.08" x2="213.00" y2="638.08" stroke="#ebebeb" stroke-width="0.5"/>
<text x="46.30" y="639.28" font-size="3.5" fill="#222" font-weight="bold" text-anchor="end">−0.3</text>
<line x1="48.00" y1="610.70" x2="213.00" y2="610.70" stroke="#bdbdbd" stroke-width="0.6"/>
<polyline points="47.9,610.1 48.5,600.8 49.6,592.8 50.8,589.9 52.5,590.5 53.7,588.2 54.8,589.3 56.5,587.0 58.3,587.6 61.2,585.3 63.5,587.0 66.9,589.3 70.4,590.7 72.7,589.3 75.2,590.2 82.0,593.0 88.5,595.7 110.6,607.2 132.7,619.1 154.8,630.2 168.0,636.0 176.9,639.0 184.0,641.4 190.2,642.6 193.0,643.2 196.8,642.1 199.0,640.8 201.2,637.0 202.0,637.6 202.8,632.0 204.3,621.3 205.6,610.3" fill="none" stroke="#6eb940" stroke-width="1.55" stroke-linejoin="round" stroke-linecap="round"/>
<rect x="48.10" y="647.90" width="1.20" height="20.50" fill="#333"/>
<rect x="50.10" y="647.90" width="1.20" height="20.50" fill="#555"/>
<rect x="54.10" y="647.90" width="1.20" height="20.50" fill="#444"/>
<rect x="55.85" y="647.90" width="1.10" height="20.50" fill="#666"/>
<rect x="58.40" y="647.90" width="1.20" height="20.50" fill="#444"/>
<rect x="59.85" y="647.90" width="1.10" height="20.50" fill="#666"/>
<rect x="71.45" y="647.90" width="1.10" height="20.50" fill="#555"/>
<rect x="72.65" y="647.90" width="1.10" height="20.50" fill="#555"/>
<rect x="76.65" y="647.90" width="1.10" height="20.50" fill="#444"/>
<rect x="78.95" y="647.90" width="1.10" height="20.50" fill="#666"/>
<rect x="80.95" y="647.90" width="1.10" height="20.50" fill="#444"/>
<rect x="87.05" y="647.90" width="1.10" height="20.50" fill="#555"/>
<rect x="94.85" y="647.90" width="1.10" height="20.50" fill="#666"/>
<rect x="97.45" y="647.90" width="1.10" height="20.50" fill="#666"/>
<rect x="106.05" y="647.90" width="1.10" height="20.50" fill="#777"/>
<rect x="108.65" y="647.90" width="1.10" height="20.50" fill="#555"/>
<rect x="112.15" y="647.90" width="1.10" height="20.50" fill="#666"/>
<rect x="115.65" y="647.90" width="1.10" height="20.50" fill="#555"/>
<rect x="119.85" y="647.90" width="1.30" height="20.50" fill="#111"/>
<rect x="125.95" y="647.90" width="1.10" height="20.50" fill="#666"/>
<rect x="128.55" y="647.90" width="1.10" height="20.50" fill="#777"/>
<rect x="126.15" y="647.90" width="1.10" height="20.50" fill="#666"/>
<rect x="131.05" y="647.90" width="1.10" height="20.50" fill="#666"/>
<rect x="140.05" y="647.90" width="1.10" height="20.50" fill="#555"/>
<rect x="141.75" y="647.90" width="1.10" height="20.50" fill="#666"/>
<rect x="146.05" y="647.90" width="1.10" height="20.50" fill="#666"/>
<rect x="147.85" y="647.90" width="1.10" height="20.50" fill="#555"/>
<rect x="152.15" y="647.90" width="1.10" height="20.50" fill="#555"/>
<rect x="153.85" y="647.90" width="1.10" height="20.50" fill="#555"/>
<rect x="156.45" y="647.90" width="1.10" height="20.50" fill="#666"/>
<rect x="162.50" y="647.90" width="1.20" height="20.50" fill="#333"/>
<rect x="163.95" y="647.90" width="1.10" height="20.50" fill="#555"/>
<rect x="168.55" y="647.90" width="1.10" height="20.50" fill="#555"/>
<rect x="178.90" y="647.90" width="1.20" height="20.50" fill="#444"/>
<rect x="180.60" y="647.90" width="1.20" height="20.50" fill="#555"/>
<rect x="184.15" y="647.90" width="1.10" height="20.50" fill="#555"/>
<rect x="187.65" y="647.90" width="1.10" height="20.50" fill="#555"/>
<rect x="189.85" y="647.90" width="1.10" height="20.50" fill="#666"/>
<rect x="193.65" y="647.90" width="1.10" height="20.50" fill="#555"/>
<rect x="196.25" y="647.90" width="1.10" height="20.50" fill="#555"/>
<rect x="198.85" y="647.90" width="1.10" height="20.50" fill="#555"/>
<rect x="202.85" y="647.90" width="2.10" height="20.50" fill="#0a0a0a"/>
<linearGradient id="cb580" x1="0" y1="0" x2="1" y2="0"><stop offset="0.000" stop-color="#e24646"/><stop offset="0.140" stop-color="#e85a5a"/><stop offset="0.150" stop-color="#ec7878"/><stop offset="0.310" stop-color="#f09090"/><stop offset="0.315" stop-color="#eaa6c8"/><stop offset="0.480" stop-color="#e6bce0"/><stop offset="0.500" stop-color="#d6c6ec"/><stop offset="0.815" stop-color="#c2bde8"/><stop offset="0.820" stop-color="#5a58b4"/><stop offset="1.000" stop-color="#4a48ac"/></linearGradient>
<rect x="48.40" y="668.40" width="157.20" height="5.40" fill="url(#cb580)"/>
<text x="49.60" y="683.80" font-size="7.4" fill="#111" font-weight="bold" text-anchor="start">ATP-Dead</text>
<text x="196.60" y="683.80" font-size="7.4" fill="#111" font-weight="bold" text-anchor="start">WT</text>
<line x1="48.00" y1="678.60" x2="213.00" y2="678.60" stroke="#ebebeb" stroke-width="0.5"/>
<text x="46.30" y="679.80" font-size="3.5" fill="#222" font-weight="bold" text-anchor="end">2</text>
<line x1="48.00" y1="685.30" x2="213.00" y2="685.30" stroke="#ebebeb" stroke-width="0.5"/>
<text x="46.30" y="686.50" font-size="3.5" fill="#222" font-weight="bold" text-anchor="end">1</text>
<line x1="48.00" y1="692.00" x2="213.00" y2="692.00" stroke="#ebebeb" stroke-width="0.5"/>
<text x="46.30" y="693.20" font-size="3.5" fill="#222" font-weight="bold" text-anchor="end">0</text>
<line x1="48.00" y1="698.70" x2="213.00" y2="698.70" stroke="#ebebeb" stroke-width="0.5"/>
<text x="46.30" y="699.90" font-size="3.5" fill="#222" font-weight="bold" text-anchor="end">-1</text>
<line x1="48.00" y1="705.40" x2="213.00" y2="705.40" stroke="#ebebeb" stroke-width="0.5"/>
<text x="46.30" y="706.60" font-size="3.5" fill="#222" font-weight="bold" text-anchor="end">-2</text>
<line x1="48.00" y1="712.10" x2="213.00" y2="712.10" stroke="#ebebeb" stroke-width="0.5"/>
<text x="46.30" y="713.30" font-size="3.5" fill="#222" font-weight="bold" text-anchor="end">-3</text>
<polyline points="48.0,691.4 70.0,692.0 204.4,692.3 205.0,714.6" fill="none" stroke="#9a9a9a" stroke-width="0.7"/>
<line x1="125.00" y1="690.00" x2="125.00" y2="716.60" stroke="#b5b5b5" stroke-width="0.5" stroke-dasharray="1 1"/>
<text x="125.00" y="696.60" font-size="3.4" fill="#222" font-weight="bold" text-anchor="middle">Zero cross at 17139</text>
<text x="48.30" y="721.40" font-size="3.5" fill="#222" font-weight="bold" text-anchor="middle">0</text>
<text x="77.10" y="721.40" font-size="3.5" fill="#222" font-weight="bold" text-anchor="middle">10,000</text>
<text x="105.90" y="721.40" font-size="3.5" fill="#222" font-weight="bold" text-anchor="middle">20,000</text>
<text x="134.70" y="721.40" font-size="3.5" fill="#222" font-weight="bold" text-anchor="middle">30,000</text>
<text x="163.50" y="721.40" font-size="3.5" fill="#222" font-weight="bold" text-anchor="middle">40,000</text>
<text x="192.30" y="721.40" font-size="3.5" fill="#222" font-weight="bold" text-anchor="middle">50,000</text>
<text x="129.50" y="726.20" font-size="4.0" fill="#222" font-weight="bold" text-anchor="middle">Rank in Ordered Dataset</text>
<text transform="translate(35.20,613.95) rotate(-90)" font-size="3.9" fill="#333" font-weight="bold" text-anchor="middle">Enrichment score (ES)</text>
<text transform="translate(35.20,693.40) rotate(-90)" font-size="3.9" fill="#333" font-weight="bold" text-anchor="middle">Ranked list metric (PreRanked)</text>
<rect x="54.40" y="730.20" width="134.00" height="6.20" fill="#f7f7f7" stroke="#555" stroke-width="0.5"/>
<line x1="57.00" y1="733.30" x2="64.00" y2="733.30" stroke="#6cbf3c" stroke-width="0.9"/>
<text x="65.50" y="734.60" font-size="3.7" fill="#222" font-weight="bold" text-anchor="start">Enrichment profile</text>
<line x1="104.00" y1="733.30" x2="110.00" y2="733.30" stroke="#333" stroke-width="0.6"/>
<text x="111.50" y="734.60" font-size="3.7" fill="#222" font-weight="bold" text-anchor="start">Hits</text>
<line x1="133.00" y1="733.30" x2="140.00" y2="733.30" stroke="#bbb" stroke-width="0.6"/>
<text x="141.50" y="734.60" font-size="3.7" fill="#222" font-weight="bold" text-anchor="start">Ranking metric scores</text>
<text x="284.60" y="398.90" font-size="12.3" fill="#111" font-weight="bold" text-anchor="start" stroke="#111" stroke-width="0.35">G</text>
<line x1="354.80" y1="416.00" x2="354.80" y2="709.80" stroke="#d9b8b8" stroke-width="0.7" stroke-dasharray="1 1.2"/>
<rect x="354.80" y="425.45" width="67.80" height="6.25" fill="#1b6e3d"/>
<rect x="354.80" y="421.20" width="117.80" height="5.25" fill="#c5202e"/>
<text x="349.00" y="429.00" font-size="7.7" fill="#151515" font-weight="normal" text-anchor="end" textLength="60.0" lengthAdjust="spacingAndGlyphs" stroke="#151515" stroke-width="0.2">G2M_Checkpoint</text>
<text x="477.40" y="424.40" font-size="6.6" fill="#151515" font-weight="normal" text-anchor="start" stroke="#151515" stroke-width="0.2">(0,0)</text>
<text x="477.40" y="431.40" font-size="6.6" fill="#151515" font-weight="normal" text-anchor="start" stroke="#151515" stroke-width="0.2">(0.04, 0.11)</text>
<rect x="354.80" y="439.52" width="86.70" height="6.25" fill="#c5202e"/>
<rect x="354.80" y="444.77" width="88.40" height="5.25" fill="#1b6e3d"/>
<text x="349.00" y="447.39" font-size="7.7" fill="#151515" font-weight="normal" text-anchor="end" textLength="46.3" lengthAdjust="spacingAndGlyphs" stroke="#151515" stroke-width="0.2">P53_Pathway</text>
<text x="477.40" y="442.72" font-size="6.6" fill="#151515" font-weight="normal" text-anchor="start" stroke="#151515" stroke-width="0.2">(0, 0.006)</text>
<text x="477.40" y="449.72" font-size="6.6" fill="#151515" font-weight="normal" text-anchor="start" stroke="#151515" stroke-width="0.2">(0.001, 0.009)</text>
<rect x="354.80" y="457.84" width="81.20" height="6.25" fill="#c5202e"/>
<rect x="354.80" y="463.09" width="90.70" height="5.25" fill="#1b6e3d"/>
<text x="349.00" y="465.78" font-size="7.7" fill="#151515" font-weight="normal" text-anchor="end" textLength="52.4" lengthAdjust="spacingAndGlyphs" stroke="#151515" stroke-width="0.2">Mitotic_Spindle</text>
<text x="477.40" y="461.04" font-size="6.6" fill="#151515" font-weight="normal" text-anchor="start" stroke="#151515" stroke-width="0.2">(0.001, 0.012)</text>
<text x="477.40" y="468.04" font-size="6.6" fill="#151515" font-weight="normal" text-anchor="start" stroke="#151515" stroke-width="0.2">(0.001, 0.007)</text>
<rect x="354.80" y="476.16" width="65.50" height="6.25" fill="#c5202e"/>
<rect x="354.80" y="481.41" width="99.20" height="5.25" fill="#1b6e3d"/>
<text x="349.00" y="484.17" font-size="7.7" fill="#151515" font-weight="normal" text-anchor="end" textLength="49.6" lengthAdjust="spacingAndGlyphs" stroke="#151515" stroke-width="0.2">EM_Transition</text>
<text x="477.40" y="479.36" font-size="6.6" fill="#151515" font-weight="normal" text-anchor="start" stroke="#151515" stroke-width="0.2">(0.067, 0.137)</text>
<text x="477.40" y="486.36" font-size="6.6" fill="#151515" font-weight="normal" text-anchor="start" stroke="#151515" stroke-width="0.2">(0, 0.002)</text>
<rect x="354.80" y="498.73" width="64.80" height="6.25" fill="#1b6e3d"/>
<rect x="354.80" y="494.48" width="74.00" height="5.25" fill="#c5202e"/>
<text x="349.00" y="502.56" font-size="7.7" fill="#151515" font-weight="normal" text-anchor="end" textLength="68.0" lengthAdjust="spacingAndGlyphs" stroke="#151515" stroke-width="0.2">KRAS.50_UP.V1_DN</text>
<text x="477.40" y="497.68" font-size="6.6" fill="#151515" font-weight="normal" text-anchor="start" stroke="#151515" stroke-width="0.2">(0.051, 0.045)</text>
<text x="477.40" y="504.68" font-size="6.6" fill="#151515" font-weight="normal" text-anchor="start" stroke="#151515" stroke-width="0.2">(0.154, 0.212)</text>
<rect x="354.80" y="512.80" width="65.20" height="6.25" fill="#c5202e"/>
<rect x="354.80" y="518.05" width="66.80" height="5.25" fill="#1b6e3d"/>
<text x="349.00" y="520.95" font-size="7.7" fill="#151515" font-weight="normal" text-anchor="end" textLength="74.0" lengthAdjust="spacingAndGlyphs" stroke="#151515" stroke-width="0.2">Cyclin_D1_KE_V1_UP</text>
<text x="477.40" y="516.00" font-size="6.6" fill="#151515" font-weight="normal" text-anchor="start" stroke="#151515" stroke-width="0.2">(0.073, 0.139)</text>
<text x="477.40" y="523.00" font-size="6.6" fill="#151515" font-weight="normal" text-anchor="start" stroke="#151515" stroke-width="0.2">(0.06, 0.166)</text>
<rect x="354.80" y="535.37" width="66.80" height="6.25" fill="#1b6e3d"/>
<rect x="354.80" y="531.12" width="103.70" height="5.25" fill="#c5202e"/>
<text x="349.00" y="539.34" font-size="7.7" fill="#151515" font-weight="normal" text-anchor="end" textLength="72.3" lengthAdjust="spacingAndGlyphs" stroke="#151515" stroke-width="0.2">KRAS.300_UP.V1_DN</text>
<text x="477.40" y="534.32" font-size="6.6" fill="#151515" font-weight="normal" text-anchor="start" stroke="#151515" stroke-width="0.2">(0, 0)</text>
<text x="477.40" y="541.32" font-size="6.6" fill="#151515" font-weight="normal" text-anchor="start" stroke="#151515" stroke-width="0.2">(0.071, 0.168)</text>
<rect x="354.80" y="549.44" width="69.10" height="6.25" fill="#c5202e"/>
<rect x="354.80" y="554.69" width="79.20" height="5.25" fill="#1b6e3d"/>
<text x="349.00" y="557.73" font-size="7.7" fill="#151515" font-weight="normal" text-anchor="end" textLength="53.9" lengthAdjust="spacingAndGlyphs" stroke="#151515" stroke-width="0.2">KRAS.DF.V1_UP</text>
<text x="477.40" y="552.64" font-size="6.6" fill="#151515" font-weight="normal" text-anchor="start" stroke="#151515" stroke-width="0.2">(0.035, 0.091)</text>
<text x="477.40" y="559.64" font-size="6.6" fill="#151515" font-weight="normal" text-anchor="start" stroke="#151515" stroke-width="0.2">(0.002, 0.041</text>
<rect x="354.80" y="572.01" width="85.80" height="6.25" fill="#1b6e3d"/>
<rect x="354.80" y="567.76" width="101.40" height="5.25" fill="#c5202e"/>
<text x="349.00" y="576.12" font-size="7.7" fill="#151515" font-weight="normal" text-anchor="end" textLength="52.6" lengthAdjust="spacingAndGlyphs" stroke="#151515" stroke-width="0.2">P53_DN.V1_DN</text>
<text x="477.40" y="570.96" font-size="6.6" fill="#151515" font-weight="normal" text-anchor="start" stroke="#151515" stroke-width="0.2">(0, 0.001)</text>
<text x="477.40" y="577.96" font-size="6.6" fill="#151515" font-weight="normal" text-anchor="start" stroke="#151515" stroke-width="0.2">(0, 0.016)</text>
<rect x="354.80" y="590.33" width="89.00" height="6.25" fill="#1b6e3d"/>
<rect x="354.80" y="586.08" width="98.50" height="5.25" fill="#c5202e"/>
<text x="349.00" y="594.51" font-size="7.7" fill="#151515" font-weight="normal" text-anchor="end" textLength="64.6" lengthAdjust="spacingAndGlyphs" stroke="#151515" stroke-width="0.2">K_DNA Replication</text>
<text x="477.40" y="589.28" font-size="6.6" fill="#151515" font-weight="normal" text-anchor="start" stroke="#151515" stroke-width="0.2">(0.001, 0.002)</text>
<text x="477.40" y="596.28" font-size="6.6" fill="#151515" font-weight="normal" text-anchor="start" stroke="#151515" stroke-width="0.2">(0.007, 0.241</text>
<rect x="354.80" y="608.65" width="87.40" height="6.25" fill="#1b6e3d"/>
<rect x="354.80" y="604.40" width="90.30" height="5.25" fill="#c5202e"/>
<text x="349.00" y="612.90" font-size="7.7" fill="#151515" font-weight="normal" text-anchor="end" textLength="65.3" lengthAdjust="spacingAndGlyphs" stroke="#151515" stroke-width="0.2">Integrin3_Pathway</text>
<text x="477.40" y="607.60" font-size="6.6" fill="#151515" font-weight="normal" text-anchor="start" stroke="#151515" stroke-width="0.2">(0.004, 0.03)</text>
<text x="477.40" y="614.60" font-size="6.6" fill="#151515" font-weight="normal" text-anchor="start" stroke="#151515" stroke-width="0.2">(0.006, 0.284)</text>
<rect x="354.80" y="626.97" width="90.00" height="6.25" fill="#1b6e3d"/>
<rect x="354.80" y="622.72" width="99.20" height="5.25" fill="#c5202e"/>
<text x="349.00" y="631.29" font-size="7.7" fill="#151515" font-weight="normal" text-anchor="end" textLength="57.7" lengthAdjust="spacingAndGlyphs" stroke="#151515" stroke-width="0.2">DNA_Replication</text>
<text x="477.40" y="625.92" font-size="6.6" fill="#151515" font-weight="normal" text-anchor="start" stroke="#151515" stroke-width="0.2">(0, 0.008)</text>
<text x="477.40" y="632.92" font-size="6.6" fill="#151515" font-weight="normal" text-anchor="start" stroke="#151515" stroke-width="0.2">(0.004, 0.26</text>
<rect x="354.80" y="645.29" width="90.70" height="6.25" fill="#1b6e3d"/>
<rect x="354.80" y="641.04" width="96.50" height="5.25" fill="#c5202e"/>
<text x="349.00" y="649.68" font-size="7.7" fill="#151515" font-weight="normal" text-anchor="end" textLength="91.2" lengthAdjust="spacingAndGlyphs" stroke="#151515" stroke-width="0.2">NABA_ECM_Glycoproteins</text>
<text x="477.40" y="644.24" font-size="6.6" fill="#151515" font-weight="normal" text-anchor="start" stroke="#151515" stroke-width="0.2">(0, 0.011)</text>
<text x="477.40" y="651.24" font-size="6.6" fill="#151515" font-weight="normal" text-anchor="start" stroke="#151515" stroke-width="0.2">(0, 0.225)</text>
<rect x="354.80" y="659.36" width="84.80" height="6.25" fill="#c5202e"/>
<rect x="354.80" y="664.61" width="93.30" height="5.25" fill="#1b6e3d"/>
<text x="349.00" y="668.07" font-size="7.7" fill="#151515" font-weight="normal" text-anchor="end" textLength="103.6" lengthAdjust="spacingAndGlyphs" stroke="#151515" stroke-width="0.2">NABA_Basement_Membranes</text>
<text x="477.40" y="662.56" font-size="6.6" fill="#151515" font-weight="normal" text-anchor="start" stroke="#151515" stroke-width="0.2">(0.01, 0.07)</text>
<text x="477.40" y="669.56" font-size="6.6" fill="#151515" font-weight="normal" text-anchor="start" stroke="#151515" stroke-width="0.2">(0.003, 0.193)</text>
<rect x="354.80" y="681.93" width="93.90" height="6.25" fill="#1b6e3d"/>
<rect x="354.80" y="677.68" width="95.60" height="5.25" fill="#c5202e"/>
<text x="349.00" y="686.46" font-size="7.7" fill="#151515" font-weight="normal" text-anchor="end" textLength="88.9" lengthAdjust="spacingAndGlyphs" stroke="#151515" stroke-width="0.2">Lagging_Strand_Synthesis</text>
<text x="477.40" y="680.88" font-size="6.6" fill="#151515" font-weight="normal" text-anchor="start" stroke="#151515" stroke-width="0.2">(0.001, 0.013)</text>
<text x="477.40" y="687.88" font-size="6.6" fill="#151515" font-weight="normal" text-anchor="start" stroke="#151515" stroke-width="0.2">(0.004, 0.199)</text>
<rect x="354.80" y="696.00" width="93.90" height="6.25" fill="#c5202e"/>
<rect x="354.80" y="701.25" width="103.70" height="5.25" fill="#1b6e3d"/>
<text x="349.00" y="704.85" font-size="7.7" fill="#151515" font-weight="normal" text-anchor="end" textLength="65.3" lengthAdjust="spacingAndGlyphs" stroke="#151515" stroke-width="0.2">Integrin1_Pathway</text>
<text x="477.40" y="699.20" font-size="6.6" fill="#151515" font-weight="normal" text-anchor="start" stroke="#151515" stroke-width="0.2">(0.001, 0.017)</text>
<text x="477.40" y="706.20" font-size="6.6" fill="#151515" font-weight="normal" text-anchor="start" stroke="#151515" stroke-width="0.2">(0, 0.035)</text>
<line x1="354.80" y1="710.40" x2="488.80" y2="710.40" stroke="#e3c6c6" stroke-width="0.7" stroke-dasharray="1 1.2"/>
<rect x="357.20" y="406.40" width="10.80" height="4.40" fill="#c5202e"/>
<text x="372.00" y="410.90" font-size="7.0" fill="#151515" font-weight="normal" text-anchor="start" stroke="#151515" stroke-width="0.2">SMARCA4</text>
<rect x="415.40" y="406.40" width="10.00" height="4.40" fill="#1b6e3d"/>
<text x="429.30" y="410.90" font-size="7.0" fill="#151515" font-weight="normal" text-anchor="start" stroke="#151515" stroke-width="0.2">SMARCA2</text>
<text x="477.6" y="409.7" font-size="5.9" fill="#222" font-weight="bold">(<tspan font-style="italic">P</tspan> FDR)</text>
<text x="355.10" y="719.70" font-size="5.6" fill="#151515" font-weight="normal" text-anchor="middle" stroke="#151515" stroke-width="0.2">0</text>
<text x="381.30" y="719.70" font-size="5.6" fill="#151515" font-weight="normal" text-anchor="middle" stroke="#151515" stroke-width="0.2">0.5</text>
<text x="407.50" y="719.70" font-size="5.6" fill="#151515" font-weight="normal" text-anchor="middle" stroke="#151515" stroke-width="0.2">1</text>
<text x="433.70" y="719.70" font-size="5.6" fill="#151515" font-weight="normal" text-anchor="middle" stroke="#151515" stroke-width="0.2">1.5</text>
<text x="459.90" y="719.70" font-size="5.6" fill="#151515" font-weight="normal" text-anchor="middle" stroke="#151515" stroke-width="0.2">2</text>
<text x="486.10" y="719.70" font-size="5.6" fill="#151515" font-weight="normal" text-anchor="middle" stroke="#151515" stroke-width="0.2">2.5</text>
<text x="352.60" y="734.60" font-size="9.3" fill="#151515" font-weight="normal" text-anchor="start" stroke="#151515" stroke-width="0.2">Normalized enrichment score</text>
</svg>
</body></html>
